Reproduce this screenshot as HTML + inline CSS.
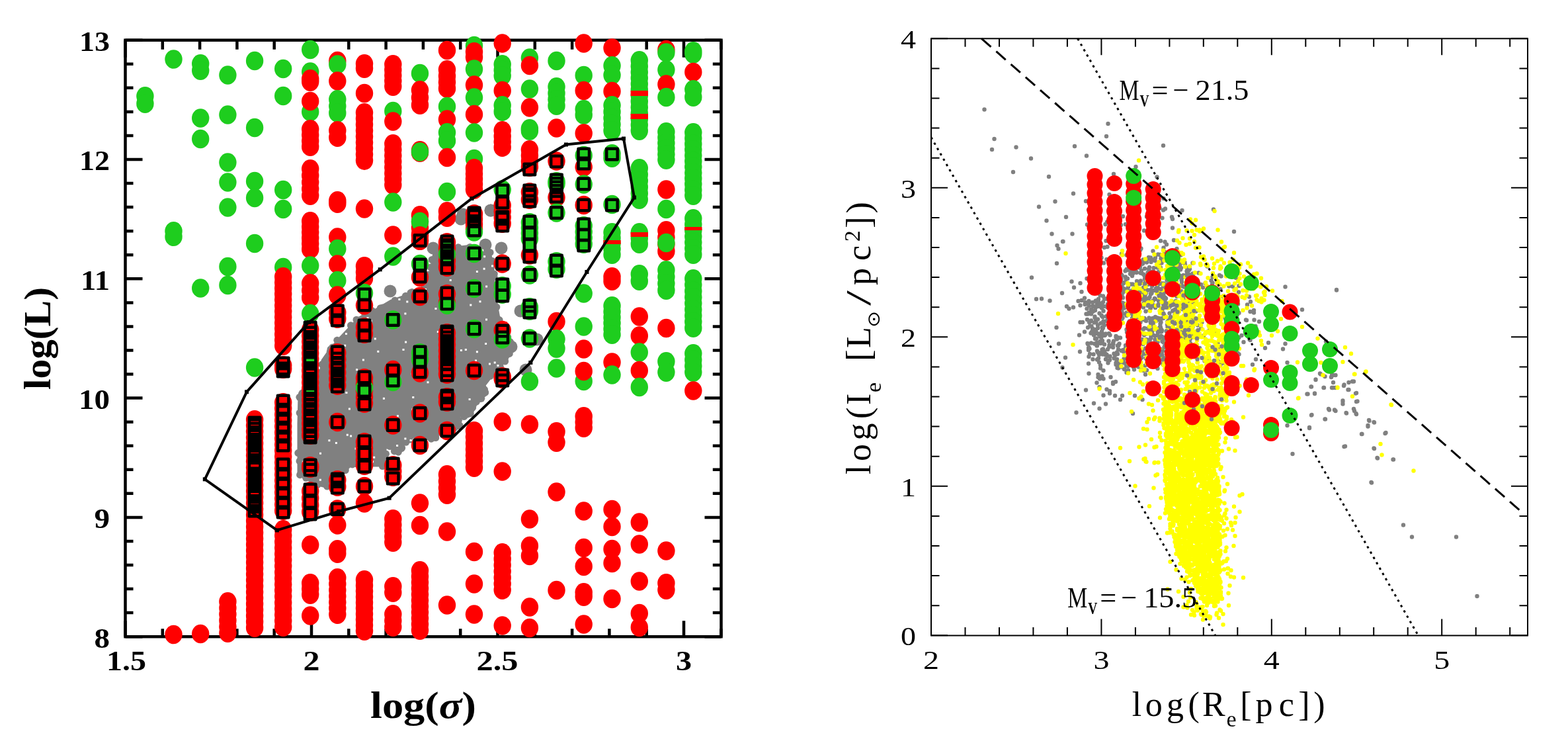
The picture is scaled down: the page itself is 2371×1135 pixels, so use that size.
<!DOCTYPE html>
<html><head><meta charset="utf-8"><title>plot</title>
<style>html,body{margin:0;padding:0;background:#fff;overflow:hidden}svg{display:block}</style>
</head><body>
<svg width="2371" height="1135" viewBox="0 0 2371 1135">
<rect width="2371" height="1135" fill="#fff"/>
<rect x="189.5" y="60.7" width="901" height="901.5" fill="none" stroke="#000" stroke-width="4.5"/>
<path d="M189.5 962.2v-24M189.5 60.7v26M245.8 962.2v-12M245.8 60.7v14M302.1 962.2v-12M302.1 60.7v14M358.4 962.2v-12M358.4 60.7v14M414.7 962.2v-12M414.7 60.7v14M471 962.2v-24M471 60.7v26M527.3 962.2v-12M527.3 60.7v14M583.6 962.2v-12M583.6 60.7v14M639.9 962.2v-12M639.9 60.7v14M696.2 962.2v-12M696.2 60.7v14M752.5 962.2v-24M752.5 60.7v26M808.8 962.2v-12M808.8 60.7v14M865.1 962.2v-12M865.1 60.7v14M921.4 962.2v-12M921.4 60.7v14M977.7 962.2v-12M977.7 60.7v14M1034 962.2v-24M1034 60.7v26M1090.3 962.2v-12M1090.3 60.7v14M189.5 962.2h26M1090.5 962.2h-25M189.5 926.1h12M1090.5 926.1h-12.7M189.5 890.1h12M1090.5 890.1h-12.7M189.5 854h12M1090.5 854h-12.7M189.5 818h12M1090.5 818h-12.7M189.5 781.9h26M1090.5 781.9h-25M189.5 745.8h12M1090.5 745.8h-12.7M189.5 709.8h12M1090.5 709.8h-12.7M189.5 673.7h12M1090.5 673.7h-12.7M189.5 637.7h12M1090.5 637.7h-12.7M189.5 601.6h26M1090.5 601.6h-25M189.5 565.5h12M1090.5 565.5h-12.7M189.5 529.5h12M1090.5 529.5h-12.7M189.5 493.4h12M1090.5 493.4h-12.7M189.5 457.4h12M1090.5 457.4h-12.7M189.5 421.3h26M1090.5 421.3h-25M189.5 385.2h12M1090.5 385.2h-12.7M189.5 349.2h12M1090.5 349.2h-12.7M189.5 313.1h12M1090.5 313.1h-12.7M189.5 277.1h12M1090.5 277.1h-12.7M189.5 241h26M1090.5 241h-25M189.5 204.9h12M1090.5 204.9h-12.7M189.5 168.9h12M1090.5 168.9h-12.7M189.5 132.8h12M1090.5 132.8h-12.7M189.5 96.8h12M1090.5 96.8h-12.7M189.5 60.7h26M1090.5 60.7h-25" stroke="#000" stroke-width="4.5" fill="none"/>
<polygon points="452,717 452,640 453,598 470,586 484,572 488,545 500,528 511,515 530,495 543,481 570,468 592,455 620,445 645,432 652,410 657,382 680,376 713,372 738,376 745,400 746,434 752,470 756,492 774,519 766,543 750,559 732,582 736,595 722,605 714,622 706,627 688,629 697,641 688,650 674,642 664,644 662,658 655,664 634,660 622,655 621,667 609,667 609,680 599,683 593,677 582,675 582,691 579,703 564,703 539,702 530,703 520,712 497,736 481,732" fill="#808080" stroke="#808080" stroke-width="5" stroke-linejoin="round"/>
<circle cx="450.8" cy="684.6" r="5.5" fill="#808080"/>
<circle cx="453" cy="696.9" r="5.5" fill="#808080"/>
<circle cx="453.1" cy="624.1" r="5.5" fill="#808080"/>
<circle cx="452.9" cy="600.3" r="5.5" fill="#808080"/>
<circle cx="462.3" cy="592.2" r="5.5" fill="#808080"/>
<circle cx="458.9" cy="594.2" r="5.5" fill="#808080"/>
<circle cx="472.8" cy="585.3" r="5.5" fill="#808080"/>
<circle cx="476.5" cy="581.4" r="5.5" fill="#808080"/>
<circle cx="487" cy="550.7" r="5.5" fill="#808080"/>
<circle cx="483.1" cy="563.5" r="5.5" fill="#808080"/>
<circle cx="500" cy="528" r="5.5" fill="#808080"/>
<circle cx="499.2" cy="531.6" r="5.5" fill="#808080"/>
<circle cx="502.8" cy="525" r="5.5" fill="#808080"/>
<circle cx="502.9" cy="526.3" r="5.5" fill="#808080"/>
<circle cx="531.5" cy="496" r="5.5" fill="#808080"/>
<circle cx="509.8" cy="514.2" r="5.5" fill="#808080"/>
<circle cx="539" cy="483.2" r="5.5" fill="#808080"/>
<circle cx="530.4" cy="491.8" r="5.5" fill="#808080"/>
<circle cx="552" cy="475.5" r="5.5" fill="#808080"/>
<circle cx="562.5" cy="469.6" r="5.5" fill="#808080"/>
<circle cx="575.3" cy="465.7" r="5.5" fill="#808080"/>
<circle cx="578.6" cy="465.1" r="5.5" fill="#808080"/>
<circle cx="597.1" cy="454.1" r="5.5" fill="#808080"/>
<circle cx="613.4" cy="447.2" r="5.5" fill="#808080"/>
<circle cx="621" cy="442.4" r="5.5" fill="#808080"/>
<circle cx="623" cy="441.5" r="5.5" fill="#808080"/>
<circle cx="650" cy="420.9" r="5.5" fill="#808080"/>
<circle cx="649.4" cy="414.7" r="5.5" fill="#808080"/>
<circle cx="651.2" cy="403.9" r="5.5" fill="#808080"/>
<circle cx="653.1" cy="392.5" r="5.5" fill="#808080"/>
<circle cx="667.5" cy="379.2" r="5.5" fill="#808080"/>
<circle cx="666" cy="377.9" r="5.5" fill="#808080"/>
<circle cx="710.7" cy="373.4" r="5.5" fill="#808080"/>
<circle cx="692.9" cy="373.7" r="5.5" fill="#808080"/>
<circle cx="730" cy="373.9" r="5.5" fill="#808080"/>
<circle cx="735.7" cy="374.4" r="5.5" fill="#808080"/>
<circle cx="744.4" cy="394.4" r="5.5" fill="#808080"/>
<circle cx="741.1" cy="381.4" r="5.5" fill="#808080"/>
<circle cx="747.3" cy="413.9" r="5.5" fill="#808080"/>
<circle cx="747.1" cy="418.6" r="5.5" fill="#808080"/>
<circle cx="750.9" cy="464.1" r="5.5" fill="#808080"/>
<circle cx="749.1" cy="442.9" r="5.5" fill="#808080"/>
<circle cx="755.1" cy="483.6" r="5.5" fill="#808080"/>
<circle cx="755.1" cy="486.9" r="5.5" fill="#808080"/>
<circle cx="767.8" cy="509.5" r="5.5" fill="#808080"/>
<circle cx="771.4" cy="516.6" r="5.5" fill="#808080"/>
<circle cx="770.3" cy="534.4" r="5.5" fill="#808080"/>
<circle cx="767.4" cy="535.5" r="5.5" fill="#808080"/>
<circle cx="756.5" cy="555" r="5.5" fill="#808080"/>
<circle cx="763.7" cy="546.1" r="5.5" fill="#808080"/>
<circle cx="741.3" cy="568.3" r="5.5" fill="#808080"/>
<circle cx="749.2" cy="559.7" r="5.5" fill="#808080"/>
<circle cx="733.7" cy="592.9" r="5.5" fill="#808080"/>
<circle cx="732.6" cy="588.8" r="5.5" fill="#808080"/>
<circle cx="725.5" cy="602.5" r="5.5" fill="#808080"/>
<circle cx="727.8" cy="602.3" r="5.5" fill="#808080"/>
<circle cx="714.6" cy="616.2" r="5.5" fill="#808080"/>
<circle cx="720.4" cy="607.1" r="5.5" fill="#808080"/>
<circle cx="706" cy="626.3" r="5.5" fill="#808080"/>
<circle cx="711.3" cy="625.1" r="5.5" fill="#808080"/>
<circle cx="701.7" cy="629.6" r="5.5" fill="#808080"/>
<circle cx="691.3" cy="627.3" r="5.5" fill="#808080"/>
<circle cx="690.7" cy="633.1" r="5.5" fill="#808080"/>
<circle cx="693.4" cy="635.2" r="5.5" fill="#808080"/>
<circle cx="695.1" cy="643.5" r="5.5" fill="#808080"/>
<circle cx="693.8" cy="643.5" r="5.5" fill="#808080"/>
<circle cx="675.1" cy="644.2" r="5.5" fill="#808080"/>
<circle cx="674.8" cy="644.1" r="5.5" fill="#808080"/>
<circle cx="665" cy="642.5" r="5.5" fill="#808080"/>
<circle cx="672.2" cy="642" r="5.5" fill="#808080"/>
<circle cx="663.3" cy="644.2" r="5.5" fill="#808080"/>
<circle cx="664.3" cy="649" r="5.5" fill="#808080"/>
<circle cx="658.8" cy="661.5" r="5.5" fill="#808080"/>
<circle cx="657.8" cy="660.8" r="5.5" fill="#808080"/>
<circle cx="652.1" cy="663.2" r="5.5" fill="#808080"/>
<circle cx="651.2" cy="661.7" r="5.5" fill="#808080"/>
<circle cx="629.5" cy="657.5" r="5.5" fill="#808080"/>
<circle cx="622.8" cy="654.7" r="5.5" fill="#808080"/>
<circle cx="621.2" cy="658.5" r="5.5" fill="#808080"/>
<circle cx="622" cy="658.2" r="5.5" fill="#808080"/>
<circle cx="614.4" cy="665.3" r="5.5" fill="#808080"/>
<circle cx="613.8" cy="668.3" r="5.5" fill="#808080"/>
<circle cx="607.3" cy="670" r="5.5" fill="#808080"/>
<circle cx="607.7" cy="676.9" r="5.5" fill="#808080"/>
<circle cx="602.3" cy="683.2" r="5.5" fill="#808080"/>
<circle cx="602.2" cy="680" r="5.5" fill="#808080"/>
<circle cx="597.4" cy="679.7" r="5.5" fill="#808080"/>
<circle cx="596.4" cy="681.9" r="5.5" fill="#808080"/>
<circle cx="583.3" cy="673.1" r="5.5" fill="#808080"/>
<circle cx="589.6" cy="674.6" r="5.5" fill="#808080"/>
<circle cx="580.9" cy="687.5" r="5.5" fill="#808080"/>
<circle cx="583.5" cy="686" r="5.5" fill="#808080"/>
<circle cx="581" cy="702.2" r="5.5" fill="#808080"/>
<circle cx="579.2" cy="699.5" r="5.5" fill="#808080"/>
<circle cx="577.9" cy="702.2" r="5.5" fill="#808080"/>
<circle cx="578.4" cy="704.5" r="5.5" fill="#808080"/>
<circle cx="542.9" cy="700.7" r="5.5" fill="#808080"/>
<circle cx="551.6" cy="702" r="5.5" fill="#808080"/>
<circle cx="532.8" cy="701.9" r="5.5" fill="#808080"/>
<circle cx="537.4" cy="700.5" r="5.5" fill="#808080"/>
<circle cx="522.3" cy="710.5" r="5.5" fill="#808080"/>
<circle cx="521.1" cy="710.7" r="5.5" fill="#808080"/>
<circle cx="513" cy="719" r="5.5" fill="#808080"/>
<circle cx="498.2" cy="733.7" r="5.5" fill="#808080"/>
<circle cx="480" cy="732.6" r="5.5" fill="#808080"/>
<circle cx="494.6" cy="735.1" r="5.5" fill="#808080"/>
<circle cx="462.7" cy="722.3" r="5.5" fill="#808080"/>
<circle cx="453.6" cy="717.7" r="5.5" fill="#808080"/>
<circle cx="590" cy="440" r="9.5" fill="#808080"/>
<circle cx="655" cy="375" r="9.5" fill="#808080"/>
<circle cx="697" cy="331" r="9.5" fill="#808080"/>
<circle cx="742" cy="318" r="9.5" fill="#808080"/>
<circle cx="758" cy="375" r="9.5" fill="#808080"/>
<circle cx="734" cy="370" r="9.5" fill="#808080"/>
<circle cx="700" cy="324" r="9.5" fill="#808080"/>
<circle cx="787" cy="470" r="9.5" fill="#808080"/>
<circle cx="812" cy="513" r="9.5" fill="#808080"/>
<circle cx="773" cy="524" r="9.5" fill="#808080"/>
<circle cx="795" cy="559" r="9.5" fill="#808080"/>
<circle cx="722" cy="587" r="9.5" fill="#808080"/>
<circle cx="716" cy="591" r="9.5" fill="#808080"/>
<circle cx="709" cy="603" r="9.5" fill="#808080"/>
<circle cx="703" cy="619" r="9.5" fill="#808080"/>
<circle cx="460" cy="597" r="9.5" fill="#808080"/>
<circle cx="742" cy="318" r="9.5" fill="#808080"/>
<path d="M734.6 519.6h0M612.9 662.9h0M501.9 576.6h0M671.7 413.2h0M528.4 617.9h0M670.6 454.1h0M561 484.8h0M567.3 512h0M555.9 480.5h0M505.4 586.5h0M610 528.6h0M603.9 452.4h0M523.9 593.4h0M685.7 560.3h0M709.8 562.4h0M647 577.8h0M711.8 460.9h0M719.5 545.1h0M521.7 522.2h0M530.6 659h0M523.5 504.6h0M547.9 561.6h0M458.4 697.9h0M732.6 387.8h0M556.5 661.1h0M670.5 612.7h0M725.2 563.9h0M732.1 406.3h0M740.5 550h0M682.3 391.7h0M551.3 510.2h0M761.1 523.3h0M710.1 603.6h0M463.7 706h0M612.9 473.9h0M726 455.8h0M675.8 390.3h0M508.4 669.4h0M601.5 628.8h0M686.1 396.7h0M613.6 517h0M497.9 665.8h0M596.6 553.2h0M674.2 526.3h0M615.8 456h0M605.2 640.1h0M597.4 492.3h0M666.6 467.1h0M571.8 531.2h0M554.2 504.3h0M744.5 402.1h0M658.9 466.4h0M721.4 531.8h0M729.7 378.3h0M539.6 558.7h0M735.6 433.1h0M624.8 600.4h0M678.7 399.7h0M484.5 685.3h0M627.1 454.9h0M600.6 673.5h0M580.4 602.3h0M623.3 564.8h0M484.3 725.2h0M643.5 437.6h0M595.9 635.3h0M558.4 579h0M553.7 681.4h0M629.3 531.7h0M565.7 691.3h0M721.4 410.4h0M549.4 543.9h0M735.5 483.1h0M599.9 639.9h0M674.9 517.2h0M752.9 552.5h0M716.8 498.3h0M704.3 528.5h0M748.2 548h0M679.5 380.9h0M662.3 501.4h0M621.1 665.5h0M697.4 529.5h0M723 388.6h0M686.2 383.8h0M525.3 657.3h0M623.9 619h0M681.2 423.4h0M563.6 697.8h0M538.1 677.9h0" stroke="#fff" stroke-width="3" stroke-linecap="square" fill="none"/>
<ellipse cx="219.4" cy="145.3" rx="13.2" ry="14.3" fill="#1ecd1e"/>
<ellipse cx="219.4" cy="156.7" rx="13.2" ry="14.3" fill="#1ecd1e"/>
<ellipse cx="262.5" cy="89.5" rx="13.2" ry="14.3" fill="#1ecd1e"/>
<ellipse cx="262.5" cy="349.4" rx="13.2" ry="14.3" fill="#1ecd1e"/>
<ellipse cx="262.5" cy="357.7" rx="13.2" ry="14.3" fill="#1ecd1e"/>
<ellipse cx="262.5" cy="959" rx="13.2" ry="14.3" fill="#ff0000"/>
<ellipse cx="303.2" cy="96.3" rx="13.2" ry="14.3" fill="#1ecd1e"/>
<ellipse cx="303.2" cy="106.6" rx="13.2" ry="14.3" fill="#1ecd1e"/>
<ellipse cx="303.2" cy="178.5" rx="13.2" ry="14.3" fill="#1ecd1e"/>
<ellipse cx="303.2" cy="210" rx="13.2" ry="14.3" fill="#1ecd1e"/>
<ellipse cx="303.2" cy="435.5" rx="13.2" ry="14.3" fill="#1ecd1e"/>
<ellipse cx="303.2" cy="958" rx="13.2" ry="14.3" fill="#ff0000"/>
<ellipse cx="344.4" cy="113.5" rx="13.2" ry="14.3" fill="#1ecd1e"/>
<ellipse cx="344.4" cy="173.5" rx="13.2" ry="14.3" fill="#1ecd1e"/>
<ellipse cx="344.4" cy="245.5" rx="13.2" ry="14.3" fill="#1ecd1e"/>
<ellipse cx="344.4" cy="275.5" rx="13.2" ry="14.3" fill="#1ecd1e"/>
<ellipse cx="344.4" cy="313.5" rx="13.2" ry="14.3" fill="#1ecd1e"/>
<ellipse cx="344.4" cy="403" rx="13.2" ry="14.3" fill="#1ecd1e"/>
<ellipse cx="344.4" cy="431" rx="13.2" ry="14.3" fill="#1ecd1e"/>
<ellipse cx="344.4" cy="909.4" rx="13.2" ry="14.3" fill="#ff0000"/>
<ellipse cx="344.4" cy="918.8" rx="13.2" ry="14.3" fill="#ff0000"/>
<ellipse cx="344.4" cy="928.3" rx="13.2" ry="14.3" fill="#ff0000"/>
<ellipse cx="344.4" cy="937.7" rx="13.2" ry="14.3" fill="#ff0000"/>
<ellipse cx="344.4" cy="947.2" rx="13.2" ry="14.3" fill="#ff0000"/>
<ellipse cx="344.4" cy="956.6" rx="13.2" ry="14.3" fill="#ff0000"/>
<ellipse cx="385.1" cy="92" rx="13.2" ry="14.3" fill="#1ecd1e"/>
<ellipse cx="385.1" cy="193" rx="13.2" ry="14.3" fill="#1ecd1e"/>
<ellipse cx="385.1" cy="274" rx="13.2" ry="14.3" fill="#1ecd1e"/>
<ellipse cx="385.1" cy="299" rx="13.2" ry="14.3" fill="#1ecd1e"/>
<ellipse cx="385.1" cy="368" rx="13.2" ry="14.3" fill="#1ecd1e"/>
<ellipse cx="385.1" cy="555.5" rx="13.2" ry="14.3" fill="#1ecd1e"/>
<ellipse cx="385.1" cy="634.4" rx="13.2" ry="14.3" fill="#ff0000"/>
<ellipse cx="385.1" cy="643.3" rx="13.2" ry="14.3" fill="#ff0000"/>
<ellipse cx="385.1" cy="652.3" rx="13.2" ry="14.3" fill="#ff0000"/>
<ellipse cx="385.1" cy="661.3" rx="13.2" ry="14.3" fill="#ff0000"/>
<ellipse cx="385.1" cy="670.3" rx="13.2" ry="14.3" fill="#ff0000"/>
<ellipse cx="385.1" cy="679.2" rx="13.2" ry="14.3" fill="#ff0000"/>
<ellipse cx="385.1" cy="688.2" rx="13.2" ry="14.3" fill="#ff0000"/>
<ellipse cx="385.1" cy="697.2" rx="13.2" ry="14.3" fill="#ff0000"/>
<ellipse cx="385.1" cy="706.2" rx="13.2" ry="14.3" fill="#ff0000"/>
<ellipse cx="385.1" cy="715.2" rx="13.2" ry="14.3" fill="#ff0000"/>
<ellipse cx="385.1" cy="724.2" rx="13.2" ry="14.3" fill="#ff0000"/>
<ellipse cx="385.1" cy="733.1" rx="13.2" ry="14.3" fill="#ff0000"/>
<ellipse cx="385.1" cy="742.1" rx="13.2" ry="14.3" fill="#ff0000"/>
<ellipse cx="385.1" cy="751.1" rx="13.2" ry="14.3" fill="#ff0000"/>
<ellipse cx="385.1" cy="760.1" rx="13.2" ry="14.3" fill="#ff0000"/>
<ellipse cx="385.1" cy="769.1" rx="13.2" ry="14.3" fill="#ff0000"/>
<ellipse cx="385.1" cy="778" rx="13.2" ry="14.3" fill="#ff0000"/>
<ellipse cx="385.1" cy="787" rx="13.2" ry="14.3" fill="#ff0000"/>
<ellipse cx="385.1" cy="796" rx="13.2" ry="14.3" fill="#ff0000"/>
<ellipse cx="385.1" cy="805" rx="13.2" ry="14.3" fill="#ff0000"/>
<ellipse cx="385.1" cy="814" rx="13.2" ry="14.3" fill="#ff0000"/>
<ellipse cx="385.1" cy="822.9" rx="13.2" ry="14.3" fill="#ff0000"/>
<ellipse cx="385.1" cy="831.9" rx="13.2" ry="14.3" fill="#ff0000"/>
<ellipse cx="385.1" cy="840.9" rx="13.2" ry="14.3" fill="#ff0000"/>
<ellipse cx="385.1" cy="849.9" rx="13.2" ry="14.3" fill="#ff0000"/>
<ellipse cx="385.1" cy="858.9" rx="13.2" ry="14.3" fill="#ff0000"/>
<ellipse cx="385.1" cy="867.8" rx="13.2" ry="14.3" fill="#ff0000"/>
<ellipse cx="385.1" cy="876.8" rx="13.2" ry="14.3" fill="#ff0000"/>
<ellipse cx="385.1" cy="885.8" rx="13.2" ry="14.3" fill="#ff0000"/>
<ellipse cx="385.1" cy="894.8" rx="13.2" ry="14.3" fill="#ff0000"/>
<ellipse cx="385.1" cy="903.8" rx="13.2" ry="14.3" fill="#ff0000"/>
<ellipse cx="385.1" cy="912.7" rx="13.2" ry="14.3" fill="#ff0000"/>
<ellipse cx="385.1" cy="921.7" rx="13.2" ry="14.3" fill="#ff0000"/>
<ellipse cx="385.1" cy="930.7" rx="13.2" ry="14.3" fill="#ff0000"/>
<ellipse cx="385.1" cy="939.7" rx="13.2" ry="14.3" fill="#ff0000"/>
<ellipse cx="385.1" cy="948.7" rx="13.2" ry="14.3" fill="#ff0000"/>
<ellipse cx="428.2" cy="104" rx="13.2" ry="14.3" fill="#1ecd1e"/>
<ellipse cx="428.2" cy="145" rx="13.2" ry="14.3" fill="#1ecd1e"/>
<ellipse cx="428.2" cy="287" rx="13.2" ry="14.3" fill="#1ecd1e"/>
<ellipse cx="428.2" cy="316" rx="13.2" ry="14.3" fill="#1ecd1e"/>
<ellipse cx="428.2" cy="404" rx="13.2" ry="14.3" fill="#1ecd1e"/>
<ellipse cx="428.2" cy="418.4" rx="13.2" ry="14.3" fill="#ff0000"/>
<ellipse cx="428.2" cy="427" rx="13.2" ry="14.3" fill="#ff0000"/>
<ellipse cx="428.2" cy="435.7" rx="13.2" ry="14.3" fill="#ff0000"/>
<ellipse cx="428.2" cy="444.4" rx="13.2" ry="14.3" fill="#ff0000"/>
<ellipse cx="428.2" cy="453.1" rx="13.2" ry="14.3" fill="#ff0000"/>
<ellipse cx="428.2" cy="461.8" rx="13.2" ry="14.3" fill="#ff0000"/>
<ellipse cx="428.2" cy="470.5" rx="13.2" ry="14.3" fill="#ff0000"/>
<ellipse cx="428.2" cy="479.2" rx="13.2" ry="14.3" fill="#ff0000"/>
<ellipse cx="428.2" cy="487.9" rx="13.2" ry="14.3" fill="#ff0000"/>
<ellipse cx="428.2" cy="496.6" rx="13.2" ry="14.3" fill="#ff0000"/>
<ellipse cx="428.2" cy="505.3" rx="13.2" ry="14.3" fill="#ff0000"/>
<ellipse cx="428.2" cy="514" rx="13.2" ry="14.3" fill="#ff0000"/>
<ellipse cx="428.2" cy="522.6" rx="13.2" ry="14.3" fill="#ff0000"/>
<ellipse cx="428.2" cy="552.4" rx="13.2" ry="14.3" fill="#ff0000"/>
<ellipse cx="428.2" cy="557.6" rx="13.2" ry="14.3" fill="#ff0000"/>
<ellipse cx="428.2" cy="608.4" rx="13.2" ry="14.3" fill="#ff0000"/>
<ellipse cx="428.2" cy="617.4" rx="13.2" ry="14.3" fill="#ff0000"/>
<ellipse cx="428.2" cy="626.5" rx="13.2" ry="14.3" fill="#ff0000"/>
<ellipse cx="428.2" cy="635.6" rx="13.2" ry="14.3" fill="#ff0000"/>
<ellipse cx="428.2" cy="644.6" rx="13.2" ry="14.3" fill="#ff0000"/>
<ellipse cx="428.2" cy="653.7" rx="13.2" ry="14.3" fill="#ff0000"/>
<ellipse cx="428.2" cy="662.8" rx="13.2" ry="14.3" fill="#ff0000"/>
<ellipse cx="428.2" cy="671.9" rx="13.2" ry="14.3" fill="#ff0000"/>
<ellipse cx="428.2" cy="680.9" rx="13.2" ry="14.3" fill="#ff0000"/>
<ellipse cx="428.2" cy="690" rx="13.2" ry="14.3" fill="#ff0000"/>
<ellipse cx="428.2" cy="699.1" rx="13.2" ry="14.3" fill="#ff0000"/>
<ellipse cx="428.2" cy="708.1" rx="13.2" ry="14.3" fill="#ff0000"/>
<ellipse cx="428.2" cy="717.2" rx="13.2" ry="14.3" fill="#ff0000"/>
<ellipse cx="428.2" cy="726.3" rx="13.2" ry="14.3" fill="#ff0000"/>
<ellipse cx="428.2" cy="735.4" rx="13.2" ry="14.3" fill="#ff0000"/>
<ellipse cx="428.2" cy="744.4" rx="13.2" ry="14.3" fill="#ff0000"/>
<ellipse cx="428.2" cy="753.5" rx="13.2" ry="14.3" fill="#ff0000"/>
<ellipse cx="428.2" cy="762.6" rx="13.2" ry="14.3" fill="#ff0000"/>
<ellipse cx="428.2" cy="771.7" rx="13.2" ry="14.3" fill="#ff0000"/>
<ellipse cx="428.2" cy="800.4" rx="13.2" ry="14.3" fill="#ff0000"/>
<ellipse cx="428.2" cy="809.6" rx="13.2" ry="14.3" fill="#ff0000"/>
<ellipse cx="428.2" cy="818.8" rx="13.2" ry="14.3" fill="#ff0000"/>
<ellipse cx="428.2" cy="828" rx="13.2" ry="14.3" fill="#ff0000"/>
<ellipse cx="428.2" cy="837.2" rx="13.2" ry="14.3" fill="#ff0000"/>
<ellipse cx="428.2" cy="846.4" rx="13.2" ry="14.3" fill="#ff0000"/>
<ellipse cx="428.2" cy="855.6" rx="13.2" ry="14.3" fill="#ff0000"/>
<ellipse cx="428.2" cy="864.8" rx="13.2" ry="14.3" fill="#ff0000"/>
<ellipse cx="428.2" cy="874" rx="13.2" ry="14.3" fill="#ff0000"/>
<ellipse cx="428.2" cy="883.2" rx="13.2" ry="14.3" fill="#ff0000"/>
<ellipse cx="428.2" cy="892.4" rx="13.2" ry="14.3" fill="#ff0000"/>
<ellipse cx="428.2" cy="901.6" rx="13.2" ry="14.3" fill="#ff0000"/>
<ellipse cx="428.2" cy="910.8" rx="13.2" ry="14.3" fill="#ff0000"/>
<ellipse cx="428.2" cy="920" rx="13.2" ry="14.3" fill="#ff0000"/>
<ellipse cx="428.2" cy="929.2" rx="13.2" ry="14.3" fill="#ff0000"/>
<ellipse cx="428.2" cy="938.4" rx="13.2" ry="14.3" fill="#ff0000"/>
<ellipse cx="428.2" cy="947.7" rx="13.2" ry="14.3" fill="#ff0000"/>
<ellipse cx="469.2" cy="75" rx="13.2" ry="14.3" fill="#1ecd1e"/>
<ellipse cx="469.2" cy="108.5" rx="13.2" ry="14.3" fill="#1ecd1e"/>
<ellipse cx="469.2" cy="119.3" rx="13.2" ry="14.3" fill="#ff0000"/>
<ellipse cx="469.2" cy="123.6" rx="13.2" ry="14.3" fill="#ff0000"/>
<ellipse cx="469.2" cy="169" rx="13.2" ry="14.3" fill="#1ecd1e"/>
<ellipse cx="469.2" cy="153" rx="13.2" ry="14.3" fill="#ff0000"/>
<ellipse cx="469.2" cy="195.3" rx="13.2" ry="14.3" fill="#ff0000"/>
<ellipse cx="469.2" cy="204.1" rx="13.2" ry="14.3" fill="#ff0000"/>
<ellipse cx="469.2" cy="212.9" rx="13.2" ry="14.3" fill="#ff0000"/>
<ellipse cx="469.2" cy="221.7" rx="13.2" ry="14.3" fill="#ff0000"/>
<ellipse cx="469.2" cy="255.3" rx="13.2" ry="14.3" fill="#ff0000"/>
<ellipse cx="469.2" cy="265.4" rx="13.2" ry="14.3" fill="#ff0000"/>
<ellipse cx="469.2" cy="275.5" rx="13.2" ry="14.3" fill="#ff0000"/>
<ellipse cx="469.2" cy="285.6" rx="13.2" ry="14.3" fill="#ff0000"/>
<ellipse cx="469.2" cy="295.6" rx="13.2" ry="14.3" fill="#ff0000"/>
<ellipse cx="469.2" cy="334.4" rx="13.2" ry="14.3" fill="#ff0000"/>
<ellipse cx="469.2" cy="342.8" rx="13.2" ry="14.3" fill="#ff0000"/>
<ellipse cx="469.2" cy="351.3" rx="13.2" ry="14.3" fill="#ff0000"/>
<ellipse cx="469.2" cy="359.7" rx="13.2" ry="14.3" fill="#ff0000"/>
<ellipse cx="469.2" cy="368.2" rx="13.2" ry="14.3" fill="#ff0000"/>
<ellipse cx="469.2" cy="376.7" rx="13.2" ry="14.3" fill="#ff0000"/>
<ellipse cx="469.2" cy="401.5" rx="13.2" ry="14.3" fill="#1ecd1e"/>
<ellipse cx="469.2" cy="428.4" rx="13.2" ry="14.3" fill="#ff0000"/>
<ellipse cx="469.2" cy="439" rx="13.2" ry="14.3" fill="#ff0000"/>
<ellipse cx="469.2" cy="449.7" rx="13.2" ry="14.3" fill="#ff0000"/>
<ellipse cx="469.2" cy="474" rx="13.2" ry="14.3" fill="#1ecd1e"/>
<ellipse cx="469.2" cy="498.4" rx="13.2" ry="14.3" fill="#ff0000"/>
<ellipse cx="469.2" cy="507.2" rx="13.2" ry="14.3" fill="#ff0000"/>
<ellipse cx="469.2" cy="516.1" rx="13.2" ry="14.3" fill="#ff0000"/>
<ellipse cx="469.2" cy="524.9" rx="13.2" ry="14.3" fill="#ff0000"/>
<ellipse cx="469.2" cy="533.8" rx="13.2" ry="14.3" fill="#ff0000"/>
<ellipse cx="469.2" cy="542.6" rx="13.2" ry="14.3" fill="#ff0000"/>
<ellipse cx="469.2" cy="551.5" rx="13.2" ry="14.3" fill="#ff0000"/>
<ellipse cx="469.2" cy="560.3" rx="13.2" ry="14.3" fill="#ff0000"/>
<ellipse cx="469.2" cy="569.2" rx="13.2" ry="14.3" fill="#ff0000"/>
<ellipse cx="469.2" cy="578" rx="13.2" ry="14.3" fill="#ff0000"/>
<ellipse cx="469.2" cy="586.9" rx="13.2" ry="14.3" fill="#ff0000"/>
<ellipse cx="469.2" cy="595.7" rx="13.2" ry="14.3" fill="#ff0000"/>
<ellipse cx="469.2" cy="604.6" rx="13.2" ry="14.3" fill="#ff0000"/>
<ellipse cx="469.2" cy="613.4" rx="13.2" ry="14.3" fill="#ff0000"/>
<ellipse cx="469.2" cy="622.2" rx="13.2" ry="14.3" fill="#ff0000"/>
<ellipse cx="469.2" cy="631.1" rx="13.2" ry="14.3" fill="#ff0000"/>
<ellipse cx="469.2" cy="640" rx="13.2" ry="14.3" fill="#ff0000"/>
<ellipse cx="469.2" cy="648.8" rx="13.2" ry="14.3" fill="#ff0000"/>
<ellipse cx="469.2" cy="657.7" rx="13.2" ry="14.3" fill="#ff0000"/>
<ellipse cx="469.2" cy="704.4" rx="13.2" ry="14.3" fill="#ff0000"/>
<ellipse cx="469.2" cy="707.6" rx="13.2" ry="14.3" fill="#ff0000"/>
<ellipse cx="469.2" cy="742.4" rx="13.2" ry="14.3" fill="#ff0000"/>
<ellipse cx="469.2" cy="752.8" rx="13.2" ry="14.3" fill="#ff0000"/>
<ellipse cx="469.2" cy="763.2" rx="13.2" ry="14.3" fill="#ff0000"/>
<ellipse cx="469.2" cy="773.6" rx="13.2" ry="14.3" fill="#ff0000"/>
<ellipse cx="469.2" cy="823.5" rx="13.2" ry="14.3" fill="#ff0000"/>
<ellipse cx="469.2" cy="881.4" rx="13.2" ry="14.3" fill="#ff0000"/>
<ellipse cx="469.2" cy="890" rx="13.2" ry="14.3" fill="#ff0000"/>
<ellipse cx="469.2" cy="898.6" rx="13.2" ry="14.3" fill="#ff0000"/>
<ellipse cx="469.2" cy="930.5" rx="13.2" ry="14.3" fill="#ff0000"/>
<ellipse cx="510.3" cy="92" rx="13.2" ry="14.3" fill="#ff0000"/>
<ellipse cx="510.3" cy="97.5" rx="13.2" ry="14.3" fill="#1ecd1e"/>
<ellipse cx="510.3" cy="122.5" rx="13.2" ry="14.3" fill="#ff0000"/>
<ellipse cx="510.3" cy="150.3" rx="13.2" ry="14.3" fill="#1ecd1e"/>
<ellipse cx="510.3" cy="160.5" rx="13.2" ry="14.3" fill="#1ecd1e"/>
<ellipse cx="510.3" cy="170.7" rx="13.2" ry="14.3" fill="#1ecd1e"/>
<ellipse cx="510.3" cy="197.3" rx="13.2" ry="14.3" fill="#ff0000"/>
<ellipse cx="510.3" cy="207.7" rx="13.2" ry="14.3" fill="#ff0000"/>
<ellipse cx="510.3" cy="303.4" rx="13.2" ry="14.3" fill="#ff0000"/>
<ellipse cx="510.3" cy="307.7" rx="13.2" ry="14.3" fill="#ff0000"/>
<ellipse cx="510.3" cy="358.5" rx="13.2" ry="14.3" fill="#ff0000"/>
<ellipse cx="510.3" cy="376" rx="13.2" ry="14.3" fill="#1ecd1e"/>
<ellipse cx="510.3" cy="399.5" rx="13.2" ry="14.3" fill="#ff0000"/>
<ellipse cx="510.3" cy="424" rx="13.2" ry="14.3" fill="#1ecd1e"/>
<ellipse cx="510.3" cy="446.5" rx="13.2" ry="14.3" fill="#ff0000"/>
<ellipse cx="510.3" cy="472.4" rx="13.2" ry="14.3" fill="#ff0000"/>
<ellipse cx="510.3" cy="481.7" rx="13.2" ry="14.3" fill="#ff0000"/>
<ellipse cx="510.3" cy="533.4" rx="13.2" ry="14.3" fill="#ff0000"/>
<ellipse cx="510.3" cy="543.2" rx="13.2" ry="14.3" fill="#ff0000"/>
<ellipse cx="510.3" cy="553.1" rx="13.2" ry="14.3" fill="#ff0000"/>
<ellipse cx="510.3" cy="562.9" rx="13.2" ry="14.3" fill="#ff0000"/>
<ellipse cx="510.3" cy="572.8" rx="13.2" ry="14.3" fill="#ff0000"/>
<ellipse cx="510.3" cy="582.6" rx="13.2" ry="14.3" fill="#ff0000"/>
<ellipse cx="510.3" cy="638" rx="13.2" ry="14.3" fill="#ff0000"/>
<ellipse cx="510.3" cy="725.4" rx="13.2" ry="14.3" fill="#ff0000"/>
<ellipse cx="510.3" cy="735.6" rx="13.2" ry="14.3" fill="#ff0000"/>
<ellipse cx="510.3" cy="769.5" rx="13.2" ry="14.3" fill="#ff0000"/>
<ellipse cx="510.3" cy="793.5" rx="13.2" ry="14.3" fill="#ff0000"/>
<ellipse cx="510.3" cy="830.4" rx="13.2" ry="14.3" fill="#ff0000"/>
<ellipse cx="510.3" cy="836.6" rx="13.2" ry="14.3" fill="#ff0000"/>
<ellipse cx="510.3" cy="873.4" rx="13.2" ry="14.3" fill="#ff0000"/>
<ellipse cx="510.3" cy="882.6" rx="13.2" ry="14.3" fill="#ff0000"/>
<ellipse cx="510.3" cy="891.8" rx="13.2" ry="14.3" fill="#ff0000"/>
<ellipse cx="510.3" cy="901" rx="13.2" ry="14.3" fill="#ff0000"/>
<ellipse cx="510.3" cy="910.2" rx="13.2" ry="14.3" fill="#ff0000"/>
<ellipse cx="510.3" cy="919.4" rx="13.2" ry="14.3" fill="#ff0000"/>
<ellipse cx="510.3" cy="928.6" rx="13.2" ry="14.3" fill="#ff0000"/>
<ellipse cx="551" cy="96.3" rx="13.2" ry="14.3" fill="#ff0000"/>
<ellipse cx="551" cy="103.6" rx="13.2" ry="14.3" fill="#ff0000"/>
<ellipse cx="551" cy="141" rx="13.2" ry="14.3" fill="#ff0000"/>
<ellipse cx="551" cy="170.3" rx="13.2" ry="14.3" fill="#ff0000"/>
<ellipse cx="551" cy="179.4" rx="13.2" ry="14.3" fill="#ff0000"/>
<ellipse cx="551" cy="188.4" rx="13.2" ry="14.3" fill="#ff0000"/>
<ellipse cx="551" cy="197.5" rx="13.2" ry="14.3" fill="#ff0000"/>
<ellipse cx="551" cy="206.5" rx="13.2" ry="14.3" fill="#ff0000"/>
<ellipse cx="551" cy="215.5" rx="13.2" ry="14.3" fill="#ff0000"/>
<ellipse cx="551" cy="224.6" rx="13.2" ry="14.3" fill="#ff0000"/>
<ellipse cx="551" cy="233.6" rx="13.2" ry="14.3" fill="#ff0000"/>
<ellipse cx="551" cy="242.6" rx="13.2" ry="14.3" fill="#ff0000"/>
<ellipse cx="551" cy="315.5" rx="13.2" ry="14.3" fill="#ff0000"/>
<ellipse cx="551" cy="402.4" rx="13.2" ry="14.3" fill="#ff0000"/>
<ellipse cx="551" cy="411.5" rx="13.2" ry="14.3" fill="#ff0000"/>
<ellipse cx="551" cy="420.7" rx="13.2" ry="14.3" fill="#ff0000"/>
<ellipse cx="551" cy="443" rx="13.2" ry="14.3" fill="#1ecd1e"/>
<ellipse cx="551" cy="461.5" rx="13.2" ry="14.3" fill="#ff0000"/>
<ellipse cx="551" cy="494.4" rx="13.2" ry="14.3" fill="#ff0000"/>
<ellipse cx="551" cy="504.7" rx="13.2" ry="14.3" fill="#ff0000"/>
<ellipse cx="551" cy="571.4" rx="13.2" ry="14.3" fill="#ff0000"/>
<ellipse cx="551" cy="580.9" rx="13.2" ry="14.3" fill="#ff0000"/>
<ellipse cx="551" cy="590.5" rx="13.2" ry="14.3" fill="#ff0000"/>
<ellipse cx="551" cy="600.1" rx="13.2" ry="14.3" fill="#ff0000"/>
<ellipse cx="551" cy="609.6" rx="13.2" ry="14.3" fill="#ff0000"/>
<ellipse cx="551" cy="586" rx="13.2" ry="14.3" fill="#1ecd1e"/>
<ellipse cx="551" cy="668.4" rx="13.2" ry="14.3" fill="#ff0000"/>
<ellipse cx="551" cy="677.2" rx="13.2" ry="14.3" fill="#ff0000"/>
<ellipse cx="551" cy="686" rx="13.2" ry="14.3" fill="#ff0000"/>
<ellipse cx="551" cy="694.8" rx="13.2" ry="14.3" fill="#ff0000"/>
<ellipse cx="551" cy="703.6" rx="13.2" ry="14.3" fill="#ff0000"/>
<ellipse cx="551" cy="735" rx="13.2" ry="14.3" fill="#ff0000"/>
<ellipse cx="551" cy="760.5" rx="13.2" ry="14.3" fill="#ff0000"/>
<ellipse cx="551" cy="876.4" rx="13.2" ry="14.3" fill="#ff0000"/>
<ellipse cx="551" cy="884.9" rx="13.2" ry="14.3" fill="#ff0000"/>
<ellipse cx="551" cy="893.5" rx="13.2" ry="14.3" fill="#ff0000"/>
<ellipse cx="551" cy="902.1" rx="13.2" ry="14.3" fill="#ff0000"/>
<ellipse cx="551" cy="910.7" rx="13.2" ry="14.3" fill="#ff0000"/>
<ellipse cx="551" cy="919.3" rx="13.2" ry="14.3" fill="#ff0000"/>
<ellipse cx="551" cy="927.9" rx="13.2" ry="14.3" fill="#ff0000"/>
<ellipse cx="551" cy="936.5" rx="13.2" ry="14.3" fill="#ff0000"/>
<ellipse cx="551" cy="945.1" rx="13.2" ry="14.3" fill="#ff0000"/>
<ellipse cx="551" cy="953.6" rx="13.2" ry="14.3" fill="#ff0000"/>
<ellipse cx="594.3" cy="97.3" rx="13.2" ry="14.3" fill="#ff0000"/>
<ellipse cx="594.3" cy="105.7" rx="13.2" ry="14.3" fill="#ff0000"/>
<ellipse cx="594.3" cy="114" rx="13.2" ry="14.3" fill="#ff0000"/>
<ellipse cx="594.3" cy="122.3" rx="13.2" ry="14.3" fill="#ff0000"/>
<ellipse cx="594.3" cy="130.6" rx="13.2" ry="14.3" fill="#ff0000"/>
<ellipse cx="594.3" cy="168" rx="13.2" ry="14.3" fill="#1ecd1e"/>
<ellipse cx="594.3" cy="183.5" rx="13.2" ry="14.3" fill="#ff0000"/>
<ellipse cx="594.3" cy="217.3" rx="13.2" ry="14.3" fill="#ff0000"/>
<ellipse cx="594.3" cy="226.2" rx="13.2" ry="14.3" fill="#ff0000"/>
<ellipse cx="594.3" cy="235.2" rx="13.2" ry="14.3" fill="#ff0000"/>
<ellipse cx="594.3" cy="244.1" rx="13.2" ry="14.3" fill="#ff0000"/>
<ellipse cx="594.3" cy="252.9" rx="13.2" ry="14.3" fill="#ff0000"/>
<ellipse cx="594.3" cy="261.9" rx="13.2" ry="14.3" fill="#ff0000"/>
<ellipse cx="594.3" cy="270.8" rx="13.2" ry="14.3" fill="#ff0000"/>
<ellipse cx="594.3" cy="279.6" rx="13.2" ry="14.3" fill="#ff0000"/>
<ellipse cx="594.3" cy="305.5" rx="13.2" ry="14.3" fill="#1ecd1e"/>
<ellipse cx="594.3" cy="355.5" rx="13.2" ry="14.3" fill="#ff0000"/>
<ellipse cx="594.3" cy="387.5" rx="13.2" ry="14.3" fill="#1ecd1e"/>
<ellipse cx="594.3" cy="483.5" rx="13.2" ry="14.3" fill="#1ecd1e"/>
<ellipse cx="594.3" cy="559" rx="13.2" ry="14.3" fill="#ff0000"/>
<ellipse cx="594.3" cy="577" rx="13.2" ry="14.3" fill="#1ecd1e"/>
<ellipse cx="594.3" cy="642.5" rx="13.2" ry="14.3" fill="#ff0000"/>
<ellipse cx="594.3" cy="703.4" rx="13.2" ry="14.3" fill="#ff0000"/>
<ellipse cx="594.3" cy="712" rx="13.2" ry="14.3" fill="#ff0000"/>
<ellipse cx="594.3" cy="720.6" rx="13.2" ry="14.3" fill="#ff0000"/>
<ellipse cx="594.3" cy="784.4" rx="13.2" ry="14.3" fill="#ff0000"/>
<ellipse cx="594.3" cy="793.2" rx="13.2" ry="14.3" fill="#ff0000"/>
<ellipse cx="594.3" cy="802" rx="13.2" ry="14.3" fill="#ff0000"/>
<ellipse cx="594.3" cy="810.8" rx="13.2" ry="14.3" fill="#ff0000"/>
<ellipse cx="594.3" cy="819.6" rx="13.2" ry="14.3" fill="#ff0000"/>
<ellipse cx="594.3" cy="886.4" rx="13.2" ry="14.3" fill="#ff0000"/>
<ellipse cx="594.3" cy="895.6" rx="13.2" ry="14.3" fill="#ff0000"/>
<ellipse cx="594.3" cy="928.4" rx="13.2" ry="14.3" fill="#ff0000"/>
<ellipse cx="594.3" cy="938" rx="13.2" ry="14.3" fill="#ff0000"/>
<ellipse cx="594.3" cy="947.6" rx="13.2" ry="14.3" fill="#ff0000"/>
<ellipse cx="635" cy="111" rx="13.2" ry="14.3" fill="#1ecd1e"/>
<ellipse cx="635" cy="136.3" rx="13.2" ry="14.3" fill="#ff0000"/>
<ellipse cx="635" cy="147.5" rx="13.2" ry="14.3" fill="#ff0000"/>
<ellipse cx="635" cy="158.7" rx="13.2" ry="14.3" fill="#ff0000"/>
<ellipse cx="635" cy="227.3" rx="13.2" ry="14.3" fill="#ff0000"/>
<ellipse cx="635" cy="230.7" rx="13.2" ry="14.3" fill="#ff0000"/>
<ellipse cx="635" cy="229.5" rx="13.2" ry="14.3" fill="#1ecd1e"/>
<ellipse cx="635" cy="325.4" rx="13.2" ry="14.3" fill="#ff0000"/>
<ellipse cx="635" cy="334.9" rx="13.2" ry="14.3" fill="#ff0000"/>
<ellipse cx="635" cy="344.5" rx="13.2" ry="14.3" fill="#ff0000"/>
<ellipse cx="635" cy="354.1" rx="13.2" ry="14.3" fill="#ff0000"/>
<ellipse cx="635" cy="363.7" rx="13.2" ry="14.3" fill="#ff0000"/>
<ellipse cx="635" cy="335" rx="13.2" ry="14.3" fill="#1ecd1e"/>
<ellipse cx="635" cy="356.4" rx="13.2" ry="14.3" fill="#ff0000"/>
<ellipse cx="635" cy="363.7" rx="13.2" ry="14.3" fill="#ff0000"/>
<ellipse cx="635" cy="399" rx="13.2" ry="14.3" fill="#1ecd1e"/>
<ellipse cx="635" cy="419" rx="13.2" ry="14.3" fill="#ff0000"/>
<ellipse cx="635" cy="448" rx="13.2" ry="14.3" fill="#ff0000"/>
<ellipse cx="635" cy="533.4" rx="13.2" ry="14.3" fill="#1ecd1e"/>
<ellipse cx="635" cy="543.6" rx="13.2" ry="14.3" fill="#1ecd1e"/>
<ellipse cx="635" cy="563.5" rx="13.2" ry="14.3" fill="#ff0000"/>
<ellipse cx="635" cy="624.5" rx="13.2" ry="14.3" fill="#ff0000"/>
<ellipse cx="635" cy="673" rx="13.2" ry="14.3" fill="#ff0000"/>
<ellipse cx="635" cy="760.5" rx="13.2" ry="14.3" fill="#ff0000"/>
<ellipse cx="635" cy="794" rx="13.2" ry="14.3" fill="#ff0000"/>
<ellipse cx="635" cy="862.4" rx="13.2" ry="14.3" fill="#ff0000"/>
<ellipse cx="635" cy="871.4" rx="13.2" ry="14.3" fill="#ff0000"/>
<ellipse cx="635" cy="880.4" rx="13.2" ry="14.3" fill="#ff0000"/>
<ellipse cx="635" cy="889.4" rx="13.2" ry="14.3" fill="#ff0000"/>
<ellipse cx="635" cy="898.5" rx="13.2" ry="14.3" fill="#ff0000"/>
<ellipse cx="635" cy="907.5" rx="13.2" ry="14.3" fill="#ff0000"/>
<ellipse cx="635" cy="916.5" rx="13.2" ry="14.3" fill="#ff0000"/>
<ellipse cx="635" cy="925.6" rx="13.2" ry="14.3" fill="#ff0000"/>
<ellipse cx="635" cy="934.6" rx="13.2" ry="14.3" fill="#ff0000"/>
<ellipse cx="635" cy="943.6" rx="13.2" ry="14.3" fill="#ff0000"/>
<ellipse cx="635" cy="952.6" rx="13.2" ry="14.3" fill="#ff0000"/>
<ellipse cx="676" cy="76" rx="13.2" ry="14.3" fill="#ff0000"/>
<ellipse cx="676" cy="105.3" rx="13.2" ry="14.3" fill="#ff0000"/>
<ellipse cx="676" cy="114.8" rx="13.2" ry="14.3" fill="#ff0000"/>
<ellipse cx="676" cy="124.2" rx="13.2" ry="14.3" fill="#ff0000"/>
<ellipse cx="676" cy="133.7" rx="13.2" ry="14.3" fill="#ff0000"/>
<ellipse cx="676" cy="161" rx="13.2" ry="14.3" fill="#1ecd1e"/>
<ellipse cx="676" cy="180.5" rx="13.2" ry="14.3" fill="#ff0000"/>
<ellipse cx="676" cy="200.3" rx="13.2" ry="14.3" fill="#1ecd1e"/>
<ellipse cx="676" cy="212.7" rx="13.2" ry="14.3" fill="#1ecd1e"/>
<ellipse cx="676" cy="238" rx="13.2" ry="14.3" fill="#ff0000"/>
<ellipse cx="676" cy="290" rx="13.2" ry="14.3" fill="#1ecd1e"/>
<ellipse cx="676" cy="319.4" rx="13.2" ry="14.3" fill="#ff0000"/>
<ellipse cx="676" cy="328.7" rx="13.2" ry="14.3" fill="#ff0000"/>
<ellipse cx="676" cy="366.4" rx="13.2" ry="14.3" fill="#ff0000"/>
<ellipse cx="676" cy="375.7" rx="13.2" ry="14.3" fill="#ff0000"/>
<ellipse cx="676" cy="385" rx="13.2" ry="14.3" fill="#ff0000"/>
<ellipse cx="676" cy="394.3" rx="13.2" ry="14.3" fill="#ff0000"/>
<ellipse cx="676" cy="403.7" rx="13.2" ry="14.3" fill="#ff0000"/>
<ellipse cx="676" cy="384" rx="13.2" ry="14.3" fill="#1ecd1e"/>
<ellipse cx="676" cy="444.4" rx="13.2" ry="14.3" fill="#ff0000"/>
<ellipse cx="676" cy="457.7" rx="13.2" ry="14.3" fill="#ff0000"/>
<ellipse cx="676" cy="461" rx="13.2" ry="14.3" fill="#1ecd1e"/>
<ellipse cx="676" cy="503.4" rx="13.2" ry="14.3" fill="#ff0000"/>
<ellipse cx="676" cy="512.2" rx="13.2" ry="14.3" fill="#ff0000"/>
<ellipse cx="676" cy="521.1" rx="13.2" ry="14.3" fill="#ff0000"/>
<ellipse cx="676" cy="530.1" rx="13.2" ry="14.3" fill="#ff0000"/>
<ellipse cx="676" cy="539" rx="13.2" ry="14.3" fill="#ff0000"/>
<ellipse cx="676" cy="547.9" rx="13.2" ry="14.3" fill="#ff0000"/>
<ellipse cx="676" cy="556.8" rx="13.2" ry="14.3" fill="#ff0000"/>
<ellipse cx="676" cy="565.6" rx="13.2" ry="14.3" fill="#ff0000"/>
<ellipse cx="676" cy="600.4" rx="13.2" ry="14.3" fill="#ff0000"/>
<ellipse cx="676" cy="607.6" rx="13.2" ry="14.3" fill="#ff0000"/>
<ellipse cx="676" cy="651" rx="13.2" ry="14.3" fill="#ff0000"/>
<ellipse cx="676" cy="717.4" rx="13.2" ry="14.3" fill="#ff0000"/>
<ellipse cx="676" cy="727.5" rx="13.2" ry="14.3" fill="#ff0000"/>
<ellipse cx="676" cy="737.6" rx="13.2" ry="14.3" fill="#ff0000"/>
<ellipse cx="676" cy="747.6" rx="13.2" ry="14.3" fill="#ff0000"/>
<ellipse cx="676" cy="803.5" rx="13.2" ry="14.3" fill="#ff0000"/>
<ellipse cx="676" cy="914.5" rx="13.2" ry="14.3" fill="#ff0000"/>
<ellipse cx="717" cy="69" rx="13.2" ry="14.3" fill="#1ecd1e"/>
<ellipse cx="717" cy="78.3" rx="13.2" ry="14.3" fill="#ff0000"/>
<ellipse cx="717" cy="86.6" rx="13.2" ry="14.3" fill="#ff0000"/>
<ellipse cx="717" cy="104.5" rx="13.2" ry="14.3" fill="#1ecd1e"/>
<ellipse cx="717" cy="128.5" rx="13.2" ry="14.3" fill="#ff0000"/>
<ellipse cx="717" cy="147.5" rx="13.2" ry="14.3" fill="#1ecd1e"/>
<ellipse cx="717" cy="173" rx="13.2" ry="14.3" fill="#ff0000"/>
<ellipse cx="717" cy="200.5" rx="13.2" ry="14.3" fill="#1ecd1e"/>
<ellipse cx="717" cy="240" rx="13.2" ry="14.3" fill="#1ecd1e"/>
<ellipse cx="717" cy="254.3" rx="13.2" ry="14.3" fill="#ff0000"/>
<ellipse cx="717" cy="262.4" rx="13.2" ry="14.3" fill="#ff0000"/>
<ellipse cx="717" cy="270.5" rx="13.2" ry="14.3" fill="#ff0000"/>
<ellipse cx="717" cy="278.6" rx="13.2" ry="14.3" fill="#ff0000"/>
<ellipse cx="717" cy="286.6" rx="13.2" ry="14.3" fill="#ff0000"/>
<ellipse cx="717" cy="323.4" rx="13.2" ry="14.3" fill="#ff0000"/>
<ellipse cx="717" cy="331.1" rx="13.2" ry="14.3" fill="#ff0000"/>
<ellipse cx="717" cy="338.9" rx="13.2" ry="14.3" fill="#ff0000"/>
<ellipse cx="717" cy="346.7" rx="13.2" ry="14.3" fill="#ff0000"/>
<ellipse cx="717" cy="350.5" rx="13.2" ry="14.3" fill="#1ecd1e"/>
<ellipse cx="717" cy="383" rx="13.2" ry="14.3" fill="#1ecd1e"/>
<ellipse cx="717" cy="436" rx="13.2" ry="14.3" fill="#1ecd1e"/>
<ellipse cx="717" cy="497" rx="13.2" ry="14.3" fill="#1ecd1e"/>
<ellipse cx="717" cy="560" rx="13.2" ry="14.3" fill="#ff0000"/>
<ellipse cx="717" cy="651.4" rx="13.2" ry="14.3" fill="#ff0000"/>
<ellipse cx="717" cy="660.6" rx="13.2" ry="14.3" fill="#ff0000"/>
<ellipse cx="717" cy="669.8" rx="13.2" ry="14.3" fill="#ff0000"/>
<ellipse cx="717" cy="679" rx="13.2" ry="14.3" fill="#ff0000"/>
<ellipse cx="717" cy="688.2" rx="13.2" ry="14.3" fill="#ff0000"/>
<ellipse cx="717" cy="697.4" rx="13.2" ry="14.3" fill="#ff0000"/>
<ellipse cx="717" cy="706.6" rx="13.2" ry="14.3" fill="#ff0000"/>
<ellipse cx="717" cy="834" rx="13.2" ry="14.3" fill="#ff0000"/>
<ellipse cx="717" cy="882.5" rx="13.2" ry="14.3" fill="#ff0000"/>
<ellipse cx="717" cy="928.5" rx="13.2" ry="14.3" fill="#ff0000"/>
<ellipse cx="759.7" cy="65.5" rx="13.2" ry="14.3" fill="#ff0000"/>
<ellipse cx="759.7" cy="97.3" rx="13.2" ry="14.3" fill="#1ecd1e"/>
<ellipse cx="759.7" cy="106" rx="13.2" ry="14.3" fill="#1ecd1e"/>
<ellipse cx="759.7" cy="114.6" rx="13.2" ry="14.3" fill="#1ecd1e"/>
<ellipse cx="759.7" cy="137" rx="13.2" ry="14.3" fill="#ff0000"/>
<ellipse cx="759.7" cy="159.3" rx="13.2" ry="14.3" fill="#1ecd1e"/>
<ellipse cx="759.7" cy="168.7" rx="13.2" ry="14.3" fill="#1ecd1e"/>
<ellipse cx="759.7" cy="197.3" rx="13.2" ry="14.3" fill="#ff0000"/>
<ellipse cx="759.7" cy="205.8" rx="13.2" ry="14.3" fill="#ff0000"/>
<ellipse cx="759.7" cy="214.2" rx="13.2" ry="14.3" fill="#ff0000"/>
<ellipse cx="759.7" cy="222.7" rx="13.2" ry="14.3" fill="#ff0000"/>
<ellipse cx="759.7" cy="286.5" rx="13.2" ry="14.3" fill="#1ecd1e"/>
<ellipse cx="759.7" cy="310.4" rx="13.2" ry="14.3" fill="#ff0000"/>
<ellipse cx="759.7" cy="319.5" rx="13.2" ry="14.3" fill="#ff0000"/>
<ellipse cx="759.7" cy="328.6" rx="13.2" ry="14.3" fill="#ff0000"/>
<ellipse cx="759.7" cy="337.7" rx="13.2" ry="14.3" fill="#ff0000"/>
<ellipse cx="759.7" cy="398.5" rx="13.2" ry="14.3" fill="#ff0000"/>
<ellipse cx="759.7" cy="432.4" rx="13.2" ry="14.3" fill="#1ecd1e"/>
<ellipse cx="759.7" cy="444.7" rx="13.2" ry="14.3" fill="#1ecd1e"/>
<ellipse cx="759.7" cy="499" rx="13.2" ry="14.3" fill="#ff0000"/>
<ellipse cx="759.7" cy="512.5" rx="13.2" ry="14.3" fill="#1ecd1e"/>
<ellipse cx="759.7" cy="569.4" rx="13.2" ry="14.3" fill="#ff0000"/>
<ellipse cx="759.7" cy="572.6" rx="13.2" ry="14.3" fill="#ff0000"/>
<ellipse cx="759.7" cy="637.5" rx="13.2" ry="14.3" fill="#ff0000"/>
<ellipse cx="759.7" cy="712.5" rx="13.2" ry="14.3" fill="#ff0000"/>
<ellipse cx="759.7" cy="835.4" rx="13.2" ry="14.3" fill="#ff0000"/>
<ellipse cx="759.7" cy="844.7" rx="13.2" ry="14.3" fill="#ff0000"/>
<ellipse cx="759.7" cy="854.1" rx="13.2" ry="14.3" fill="#ff0000"/>
<ellipse cx="759.7" cy="863.5" rx="13.2" ry="14.3" fill="#ff0000"/>
<ellipse cx="759.7" cy="872.9" rx="13.2" ry="14.3" fill="#ff0000"/>
<ellipse cx="759.7" cy="882.3" rx="13.2" ry="14.3" fill="#ff0000"/>
<ellipse cx="759.7" cy="891.6" rx="13.2" ry="14.3" fill="#ff0000"/>
<ellipse cx="759.7" cy="945.5" rx="13.2" ry="14.3" fill="#ff0000"/>
<ellipse cx="800.9" cy="87.5" rx="13.2" ry="14.3" fill="#1ecd1e"/>
<ellipse cx="800.9" cy="99" rx="13.2" ry="14.3" fill="#ff0000"/>
<ellipse cx="800.9" cy="134.5" rx="13.2" ry="14.3" fill="#1ecd1e"/>
<ellipse cx="800.9" cy="162.5" rx="13.2" ry="14.3" fill="#ff0000"/>
<ellipse cx="800.9" cy="194.3" rx="13.2" ry="14.3" fill="#1ecd1e"/>
<ellipse cx="800.9" cy="197.7" rx="13.2" ry="14.3" fill="#1ecd1e"/>
<ellipse cx="800.9" cy="226.3" rx="13.2" ry="14.3" fill="#ff0000"/>
<ellipse cx="800.9" cy="235.1" rx="13.2" ry="14.3" fill="#ff0000"/>
<ellipse cx="800.9" cy="243.9" rx="13.2" ry="14.3" fill="#ff0000"/>
<ellipse cx="800.9" cy="252.7" rx="13.2" ry="14.3" fill="#ff0000"/>
<ellipse cx="800.9" cy="290.4" rx="13.2" ry="14.3" fill="#ff0000"/>
<ellipse cx="800.9" cy="301.7" rx="13.2" ry="14.3" fill="#ff0000"/>
<ellipse cx="800.9" cy="336.4" rx="13.2" ry="14.3" fill="#1ecd1e"/>
<ellipse cx="800.9" cy="344.5" rx="13.2" ry="14.3" fill="#1ecd1e"/>
<ellipse cx="800.9" cy="352.6" rx="13.2" ry="14.3" fill="#1ecd1e"/>
<ellipse cx="800.9" cy="360.7" rx="13.2" ry="14.3" fill="#1ecd1e"/>
<ellipse cx="800.9" cy="385.5" rx="13.2" ry="14.3" fill="#ff0000"/>
<ellipse cx="800.9" cy="415.5" rx="13.2" ry="14.3" fill="#1ecd1e"/>
<ellipse cx="800.9" cy="464.4" rx="13.2" ry="14.3" fill="#1ecd1e"/>
<ellipse cx="800.9" cy="469.7" rx="13.2" ry="14.3" fill="#1ecd1e"/>
<ellipse cx="800.9" cy="511.5" rx="13.2" ry="14.3" fill="#1ecd1e"/>
<ellipse cx="800.9" cy="576.5" rx="13.2" ry="14.3" fill="#1ecd1e"/>
<ellipse cx="800.9" cy="641.5" rx="13.2" ry="14.3" fill="#ff0000"/>
<ellipse cx="800.9" cy="784.5" rx="13.2" ry="14.3" fill="#ff0000"/>
<ellipse cx="800.9" cy="825" rx="13.2" ry="14.3" fill="#ff0000"/>
<ellipse cx="800.9" cy="840" rx="13.2" ry="14.3" fill="#ff0000"/>
<ellipse cx="800.9" cy="917.5" rx="13.2" ry="14.3" fill="#ff0000"/>
<ellipse cx="800.9" cy="949" rx="13.2" ry="14.3" fill="#ff0000"/>
<ellipse cx="841.5" cy="92" rx="13.2" ry="14.3" fill="#1ecd1e"/>
<ellipse cx="841.5" cy="131.3" rx="13.2" ry="14.3" fill="#1ecd1e"/>
<ellipse cx="841.5" cy="140.8" rx="13.2" ry="14.3" fill="#1ecd1e"/>
<ellipse cx="841.5" cy="150.2" rx="13.2" ry="14.3" fill="#1ecd1e"/>
<ellipse cx="841.5" cy="159.7" rx="13.2" ry="14.3" fill="#1ecd1e"/>
<ellipse cx="841.5" cy="193.5" rx="13.2" ry="14.3" fill="#ff0000"/>
<ellipse cx="841.5" cy="243.5" rx="13.2" ry="14.3" fill="#ff0000"/>
<ellipse cx="841.5" cy="274.4" rx="13.2" ry="14.3" fill="#1ecd1e"/>
<ellipse cx="841.5" cy="277.7" rx="13.2" ry="14.3" fill="#1ecd1e"/>
<ellipse cx="841.5" cy="298.5" rx="13.2" ry="14.3" fill="#ff0000"/>
<ellipse cx="841.5" cy="321.5" rx="13.2" ry="14.3" fill="#1ecd1e"/>
<ellipse cx="841.5" cy="395.4" rx="13.2" ry="14.3" fill="#1ecd1e"/>
<ellipse cx="841.5" cy="406.7" rx="13.2" ry="14.3" fill="#1ecd1e"/>
<ellipse cx="841.5" cy="486" rx="13.2" ry="14.3" fill="#ff0000"/>
<ellipse cx="841.5" cy="512.4" rx="13.2" ry="14.3" fill="#1ecd1e"/>
<ellipse cx="841.5" cy="526.6" rx="13.2" ry="14.3" fill="#1ecd1e"/>
<ellipse cx="841.5" cy="556.5" rx="13.2" ry="14.3" fill="#1ecd1e"/>
<ellipse cx="841.5" cy="652.4" rx="13.2" ry="14.3" fill="#ff0000"/>
<ellipse cx="841.5" cy="668.6" rx="13.2" ry="14.3" fill="#ff0000"/>
<ellipse cx="841.5" cy="743.5" rx="13.2" ry="14.3" fill="#ff0000"/>
<ellipse cx="841.5" cy="892" rx="13.2" ry="14.3" fill="#ff0000"/>
<ellipse cx="882.7" cy="65.5" rx="13.2" ry="14.3" fill="#ff0000"/>
<ellipse cx="882.7" cy="114" rx="13.2" ry="14.3" fill="#1ecd1e"/>
<ellipse cx="882.7" cy="137" rx="13.2" ry="14.3" fill="#ff0000"/>
<ellipse cx="882.7" cy="165.3" rx="13.2" ry="14.3" fill="#1ecd1e"/>
<ellipse cx="882.7" cy="173.7" rx="13.2" ry="14.3" fill="#1ecd1e"/>
<ellipse cx="882.7" cy="201.5" rx="13.2" ry="14.3" fill="#ff0000"/>
<ellipse cx="882.7" cy="235" rx="13.2" ry="14.3" fill="#1ecd1e"/>
<ellipse cx="882.7" cy="252.5" rx="13.2" ry="14.3" fill="#ff0000"/>
<ellipse cx="882.7" cy="278.5" rx="13.2" ry="14.3" fill="#1ecd1e"/>
<ellipse cx="882.7" cy="310" rx="13.2" ry="14.3" fill="#ff0000"/>
<ellipse cx="882.7" cy="341.4" rx="13.2" ry="14.3" fill="#1ecd1e"/>
<ellipse cx="882.7" cy="350.5" rx="13.2" ry="14.3" fill="#1ecd1e"/>
<ellipse cx="882.7" cy="359.6" rx="13.2" ry="14.3" fill="#1ecd1e"/>
<ellipse cx="882.7" cy="368.7" rx="13.2" ry="14.3" fill="#1ecd1e"/>
<ellipse cx="882.7" cy="443.5" rx="13.2" ry="14.3" fill="#1ecd1e"/>
<ellipse cx="882.7" cy="493.5" rx="13.2" ry="14.3" fill="#1ecd1e"/>
<ellipse cx="882.7" cy="527.5" rx="13.2" ry="14.3" fill="#ff0000"/>
<ellipse cx="882.7" cy="576" rx="13.2" ry="14.3" fill="#1ecd1e"/>
<ellipse cx="882.7" cy="561" rx="13.2" ry="14.3" fill="#ff0000"/>
<ellipse cx="882.7" cy="629.4" rx="13.2" ry="14.3" fill="#ff0000"/>
<ellipse cx="882.7" cy="638" rx="13.2" ry="14.3" fill="#ff0000"/>
<ellipse cx="882.7" cy="646.6" rx="13.2" ry="14.3" fill="#ff0000"/>
<ellipse cx="882.7" cy="772.5" rx="13.2" ry="14.3" fill="#ff0000"/>
<ellipse cx="882.7" cy="828" rx="13.2" ry="14.3" fill="#ff0000"/>
<ellipse cx="882.7" cy="856" rx="13.2" ry="14.3" fill="#ff0000"/>
<ellipse cx="882.7" cy="895.4" rx="13.2" ry="14.3" fill="#ff0000"/>
<ellipse cx="882.7" cy="901.6" rx="13.2" ry="14.3" fill="#ff0000"/>
<ellipse cx="882.7" cy="943.5" rx="13.2" ry="14.3" fill="#ff0000"/>
<ellipse cx="925.5" cy="72.5" rx="13.2" ry="14.3" fill="#ff0000"/>
<ellipse cx="925.5" cy="99.3" rx="13.2" ry="14.3" fill="#1ecd1e"/>
<ellipse cx="925.5" cy="113.6" rx="13.2" ry="14.3" fill="#1ecd1e"/>
<ellipse cx="925.5" cy="138" rx="13.2" ry="14.3" fill="#ff0000"/>
<ellipse cx="925.5" cy="159.3" rx="13.2" ry="14.3" fill="#1ecd1e"/>
<ellipse cx="925.5" cy="168.9" rx="13.2" ry="14.3" fill="#1ecd1e"/>
<ellipse cx="925.5" cy="178.5" rx="13.2" ry="14.3" fill="#1ecd1e"/>
<ellipse cx="925.5" cy="188.1" rx="13.2" ry="14.3" fill="#1ecd1e"/>
<ellipse cx="925.5" cy="197.6" rx="13.2" ry="14.3" fill="#1ecd1e"/>
<ellipse cx="925.5" cy="232.3" rx="13.2" ry="14.3" fill="#1ecd1e"/>
<ellipse cx="925.5" cy="238.7" rx="13.2" ry="14.3" fill="#1ecd1e"/>
<ellipse cx="925.5" cy="309" rx="13.2" ry="14.3" fill="#1ecd1e"/>
<ellipse cx="925.5" cy="351.4" rx="13.2" ry="14.3" fill="#1ecd1e"/>
<ellipse cx="925.5" cy="359.7" rx="13.2" ry="14.3" fill="#1ecd1e"/>
<ellipse cx="925.5" cy="368" rx="13.2" ry="14.3" fill="#1ecd1e"/>
<ellipse cx="925.5" cy="376.3" rx="13.2" ry="14.3" fill="#1ecd1e"/>
<ellipse cx="925.5" cy="384.7" rx="13.2" ry="14.3" fill="#1ecd1e"/>
<rect x="912.3" y="363" width="26.4" height="6" fill="#ff0000"/>
<ellipse cx="925.5" cy="418.4" rx="13.2" ry="14.3" fill="#ff0000"/>
<ellipse cx="925.5" cy="424.7" rx="13.2" ry="14.3" fill="#ff0000"/>
<ellipse cx="925.5" cy="462.4" rx="13.2" ry="14.3" fill="#1ecd1e"/>
<ellipse cx="925.5" cy="471" rx="13.2" ry="14.3" fill="#1ecd1e"/>
<ellipse cx="925.5" cy="479.7" rx="13.2" ry="14.3" fill="#1ecd1e"/>
<ellipse cx="925.5" cy="488.3" rx="13.2" ry="14.3" fill="#1ecd1e"/>
<ellipse cx="925.5" cy="497" rx="13.2" ry="14.3" fill="#1ecd1e"/>
<ellipse cx="925.5" cy="505.7" rx="13.2" ry="14.3" fill="#1ecd1e"/>
<ellipse cx="925.5" cy="547.5" rx="13.2" ry="14.3" fill="#ff0000"/>
<ellipse cx="925.5" cy="566.5" rx="13.2" ry="14.3" fill="#1ecd1e"/>
<ellipse cx="925.5" cy="770" rx="13.2" ry="14.3" fill="#ff0000"/>
<ellipse cx="925.5" cy="796" rx="13.2" ry="14.3" fill="#ff0000"/>
<ellipse cx="925.5" cy="830" rx="13.2" ry="14.3" fill="#ff0000"/>
<ellipse cx="925.5" cy="851" rx="13.2" ry="14.3" fill="#ff0000"/>
<ellipse cx="925.5" cy="905" rx="13.2" ry="14.3" fill="#ff0000"/>
<ellipse cx="966.8" cy="91.3" rx="13.2" ry="14.3" fill="#1ecd1e"/>
<ellipse cx="966.8" cy="100.2" rx="13.2" ry="14.3" fill="#1ecd1e"/>
<ellipse cx="966.8" cy="109.1" rx="13.2" ry="14.3" fill="#1ecd1e"/>
<ellipse cx="966.8" cy="117.9" rx="13.2" ry="14.3" fill="#1ecd1e"/>
<ellipse cx="966.8" cy="126.8" rx="13.2" ry="14.3" fill="#1ecd1e"/>
<ellipse cx="966.8" cy="135.6" rx="13.2" ry="14.3" fill="#1ecd1e"/>
<ellipse cx="966.8" cy="144.5" rx="13.2" ry="14.3" fill="#1ecd1e"/>
<ellipse cx="966.8" cy="153.4" rx="13.2" ry="14.3" fill="#1ecd1e"/>
<ellipse cx="966.8" cy="162.2" rx="13.2" ry="14.3" fill="#1ecd1e"/>
<ellipse cx="966.8" cy="171.1" rx="13.2" ry="14.3" fill="#1ecd1e"/>
<ellipse cx="966.8" cy="179.9" rx="13.2" ry="14.3" fill="#1ecd1e"/>
<ellipse cx="966.8" cy="188.8" rx="13.2" ry="14.3" fill="#1ecd1e"/>
<ellipse cx="966.8" cy="197.6" rx="13.2" ry="14.3" fill="#1ecd1e"/>
<rect x="953.6" y="137" width="26.4" height="8" fill="#ff0000"/>
<rect x="953.6" y="172" width="26.4" height="8" fill="#ff0000"/>
<ellipse cx="966.8" cy="254.3" rx="13.2" ry="14.3" fill="#1ecd1e"/>
<ellipse cx="966.8" cy="263.8" rx="13.2" ry="14.3" fill="#1ecd1e"/>
<ellipse cx="966.8" cy="273.3" rx="13.2" ry="14.3" fill="#1ecd1e"/>
<ellipse cx="966.8" cy="282.7" rx="13.2" ry="14.3" fill="#1ecd1e"/>
<ellipse cx="966.8" cy="292.2" rx="13.2" ry="14.3" fill="#1ecd1e"/>
<ellipse cx="966.8" cy="301.6" rx="13.2" ry="14.3" fill="#1ecd1e"/>
<ellipse cx="966.8" cy="351.4" rx="13.2" ry="14.3" fill="#1ecd1e"/>
<ellipse cx="966.8" cy="360" rx="13.2" ry="14.3" fill="#1ecd1e"/>
<ellipse cx="966.8" cy="368.7" rx="13.2" ry="14.3" fill="#1ecd1e"/>
<rect x="953.6" y="351" width="26.4" height="7" fill="#ff0000"/>
<ellipse cx="966.8" cy="414.4" rx="13.2" ry="14.3" fill="#1ecd1e"/>
<ellipse cx="966.8" cy="424.7" rx="13.2" ry="14.3" fill="#1ecd1e"/>
<ellipse cx="966.8" cy="478.5" rx="13.2" ry="14.3" fill="#ff0000"/>
<ellipse cx="966.8" cy="507.5" rx="13.2" ry="14.3" fill="#ff0000"/>
<ellipse cx="966.8" cy="532.5" rx="13.2" ry="14.3" fill="#1ecd1e"/>
<ellipse cx="966.8" cy="560" rx="13.2" ry="14.3" fill="#ff0000"/>
<ellipse cx="966.8" cy="585" rx="13.2" ry="14.3" fill="#1ecd1e"/>
<ellipse cx="966.8" cy="789.5" rx="13.2" ry="14.3" fill="#ff0000"/>
<ellipse cx="966.8" cy="822.5" rx="13.2" ry="14.3" fill="#ff0000"/>
<ellipse cx="966.8" cy="878.5" rx="13.2" ry="14.3" fill="#ff0000"/>
<ellipse cx="966.8" cy="927" rx="13.2" ry="14.3" fill="#ff0000"/>
<ellipse cx="966.8" cy="948" rx="13.2" ry="14.3" fill="#ff0000"/>
<ellipse cx="1007.4" cy="75" rx="13.2" ry="14.3" fill="#ff0000"/>
<ellipse cx="1007.4" cy="79.5" rx="13.2" ry="14.3" fill="#1ecd1e"/>
<ellipse cx="1007.4" cy="105.5" rx="13.2" ry="14.3" fill="#1ecd1e"/>
<ellipse cx="1007.4" cy="127.5" rx="13.2" ry="14.3" fill="#ff0000"/>
<ellipse cx="1007.4" cy="147" rx="13.2" ry="14.3" fill="#1ecd1e"/>
<ellipse cx="1007.4" cy="199.3" rx="13.2" ry="14.3" fill="#1ecd1e"/>
<ellipse cx="1007.4" cy="207.8" rx="13.2" ry="14.3" fill="#1ecd1e"/>
<ellipse cx="1007.4" cy="216.3" rx="13.2" ry="14.3" fill="#1ecd1e"/>
<ellipse cx="1007.4" cy="224.7" rx="13.2" ry="14.3" fill="#1ecd1e"/>
<ellipse cx="1007.4" cy="233.2" rx="13.2" ry="14.3" fill="#1ecd1e"/>
<ellipse cx="1007.4" cy="241.6" rx="13.2" ry="14.3" fill="#1ecd1e"/>
<ellipse cx="1007.4" cy="286.5" rx="13.2" ry="14.3" fill="#ff0000"/>
<ellipse cx="1007.4" cy="316" rx="13.2" ry="14.3" fill="#1ecd1e"/>
<ellipse cx="1007.4" cy="348.4" rx="13.2" ry="14.3" fill="#ff0000"/>
<ellipse cx="1007.4" cy="358.8" rx="13.2" ry="14.3" fill="#ff0000"/>
<ellipse cx="1007.4" cy="369.2" rx="13.2" ry="14.3" fill="#ff0000"/>
<ellipse cx="1007.4" cy="379.7" rx="13.2" ry="14.3" fill="#ff0000"/>
<ellipse cx="1007.4" cy="367" rx="13.2" ry="14.3" fill="#1ecd1e"/>
<ellipse cx="1007.4" cy="408.4" rx="13.2" ry="14.3" fill="#1ecd1e"/>
<ellipse cx="1007.4" cy="418.5" rx="13.2" ry="14.3" fill="#1ecd1e"/>
<ellipse cx="1007.4" cy="428.6" rx="13.2" ry="14.3" fill="#1ecd1e"/>
<ellipse cx="1007.4" cy="438.7" rx="13.2" ry="14.3" fill="#1ecd1e"/>
<ellipse cx="1007.4" cy="496" rx="13.2" ry="14.3" fill="#ff0000"/>
<ellipse cx="1007.4" cy="546.4" rx="13.2" ry="14.3" fill="#1ecd1e"/>
<ellipse cx="1007.4" cy="562.6" rx="13.2" ry="14.3" fill="#1ecd1e"/>
<ellipse cx="1007.4" cy="832.5" rx="13.2" ry="14.3" fill="#ff0000"/>
<ellipse cx="1007.4" cy="881.4" rx="13.2" ry="14.3" fill="#ff0000"/>
<ellipse cx="1007.4" cy="891.6" rx="13.2" ry="14.3" fill="#ff0000"/>
<ellipse cx="1048.3" cy="77.3" rx="13.2" ry="14.3" fill="#1ecd1e"/>
<ellipse cx="1048.3" cy="81.6" rx="13.2" ry="14.3" fill="#1ecd1e"/>
<ellipse cx="1048.3" cy="109" rx="13.2" ry="14.3" fill="#ff0000"/>
<ellipse cx="1048.3" cy="135.3" rx="13.2" ry="14.3" fill="#1ecd1e"/>
<ellipse cx="1048.3" cy="146.7" rx="13.2" ry="14.3" fill="#1ecd1e"/>
<ellipse cx="1048.3" cy="200.3" rx="13.2" ry="14.3" fill="#1ecd1e"/>
<ellipse cx="1048.3" cy="209" rx="13.2" ry="14.3" fill="#1ecd1e"/>
<ellipse cx="1048.3" cy="217.7" rx="13.2" ry="14.3" fill="#1ecd1e"/>
<ellipse cx="1048.3" cy="226.3" rx="13.2" ry="14.3" fill="#1ecd1e"/>
<ellipse cx="1048.3" cy="235" rx="13.2" ry="14.3" fill="#1ecd1e"/>
<ellipse cx="1048.3" cy="243.7" rx="13.2" ry="14.3" fill="#1ecd1e"/>
<ellipse cx="1048.3" cy="252.3" rx="13.2" ry="14.3" fill="#1ecd1e"/>
<ellipse cx="1048.3" cy="261" rx="13.2" ry="14.3" fill="#1ecd1e"/>
<ellipse cx="1048.3" cy="269.7" rx="13.2" ry="14.3" fill="#1ecd1e"/>
<ellipse cx="1048.3" cy="278.3" rx="13.2" ry="14.3" fill="#1ecd1e"/>
<ellipse cx="1048.3" cy="287" rx="13.2" ry="14.3" fill="#1ecd1e"/>
<ellipse cx="1048.3" cy="295.6" rx="13.2" ry="14.3" fill="#1ecd1e"/>
<ellipse cx="1048.3" cy="330.4" rx="13.2" ry="14.3" fill="#1ecd1e"/>
<ellipse cx="1048.3" cy="339.4" rx="13.2" ry="14.3" fill="#1ecd1e"/>
<ellipse cx="1048.3" cy="348.5" rx="13.2" ry="14.3" fill="#1ecd1e"/>
<ellipse cx="1048.3" cy="357.5" rx="13.2" ry="14.3" fill="#1ecd1e"/>
<ellipse cx="1048.3" cy="366.6" rx="13.2" ry="14.3" fill="#1ecd1e"/>
<ellipse cx="1048.3" cy="375.6" rx="13.2" ry="14.3" fill="#1ecd1e"/>
<ellipse cx="1048.3" cy="384.7" rx="13.2" ry="14.3" fill="#1ecd1e"/>
<rect x="1035.1" y="343" width="26.4" height="5" fill="#ff0000"/>
<ellipse cx="1048.3" cy="421.4" rx="13.2" ry="14.3" fill="#1ecd1e"/>
<ellipse cx="1048.3" cy="430.6" rx="13.2" ry="14.3" fill="#1ecd1e"/>
<ellipse cx="1048.3" cy="439.9" rx="13.2" ry="14.3" fill="#1ecd1e"/>
<ellipse cx="1048.3" cy="449.2" rx="13.2" ry="14.3" fill="#1ecd1e"/>
<ellipse cx="1048.3" cy="458.5" rx="13.2" ry="14.3" fill="#1ecd1e"/>
<ellipse cx="1048.3" cy="467.8" rx="13.2" ry="14.3" fill="#1ecd1e"/>
<ellipse cx="1048.3" cy="477.1" rx="13.2" ry="14.3" fill="#1ecd1e"/>
<ellipse cx="1048.3" cy="486.4" rx="13.2" ry="14.3" fill="#1ecd1e"/>
<ellipse cx="1048.3" cy="495.7" rx="13.2" ry="14.3" fill="#1ecd1e"/>
<ellipse cx="1048.3" cy="534.4" rx="13.2" ry="14.3" fill="#1ecd1e"/>
<ellipse cx="1048.3" cy="543.8" rx="13.2" ry="14.3" fill="#1ecd1e"/>
<ellipse cx="1048.3" cy="553.2" rx="13.2" ry="14.3" fill="#1ecd1e"/>
<ellipse cx="1048.3" cy="562.6" rx="13.2" ry="14.3" fill="#1ecd1e"/>
<ellipse cx="1048.3" cy="590.5" rx="13.2" ry="14.3" fill="#ff0000"/>
<rect x="378.1" y="632" width="14" height="14" fill="#ff0000"/>
<rect x="378.1" y="635.5" width="14" height="14" fill="#ff0000"/>
<rect x="378.1" y="641" width="14" height="14" fill="#ff0000"/>
<rect x="378.1" y="646.5" width="14" height="14" fill="#ff0000"/>
<rect x="378.1" y="651" width="14" height="14" fill="#ff0000"/>
<rect x="378.1" y="657.5" width="14" height="14" fill="#ff0000"/>
<rect x="378.1" y="662" width="14" height="14" fill="#ff0000"/>
<rect x="378.1" y="672" width="14" height="14" fill="#ff0000"/>
<rect x="378.1" y="676.5" width="14" height="14" fill="#ff0000"/>
<rect x="378.1" y="683" width="14" height="14" fill="#ff0000"/>
<rect x="378.1" y="693" width="14" height="14" fill="#ff0000"/>
<rect x="378.1" y="695.5" width="14" height="14" fill="#ff0000"/>
<rect x="378.1" y="701" width="14" height="14" fill="#ff0000"/>
<rect x="378.1" y="709" width="14" height="14" fill="#ff0000"/>
<rect x="378.1" y="715.5" width="14" height="14" fill="#ff0000"/>
<rect x="378.1" y="722" width="14" height="14" fill="#ff0000"/>
<rect x="378.1" y="727.5" width="14" height="14" fill="#ff0000"/>
<rect x="378.1" y="734" width="14" height="14" fill="#ff0000"/>
<rect x="378.1" y="738.5" width="14" height="14" fill="#ff0000"/>
<rect x="378.1" y="741" width="14" height="14" fill="#ff0000"/>
<rect x="378.1" y="743.5" width="14" height="14" fill="#ff0000"/>
<rect x="378.1" y="751.5" width="14" height="14" fill="#ff0000"/>
<rect x="378.1" y="754" width="14" height="14" fill="#ff0000"/>
<rect x="378.1" y="758.5" width="14" height="14" fill="#ff0000"/>
<rect x="378.1" y="765" width="14" height="14" fill="#ff0000"/>
<path d="M376.9 630.8h16.5v16.5h-16.5zM376.9 634.2h16.5v16.5h-16.5zM376.9 639.8h16.5v16.5h-16.5zM376.9 645.2h16.5v16.5h-16.5zM376.9 649.8h16.5v16.5h-16.5zM376.9 656.2h16.5v16.5h-16.5zM376.9 660.8h16.5v16.5h-16.5zM376.9 670.8h16.5v16.5h-16.5zM376.9 675.2h16.5v16.5h-16.5zM376.9 681.8h16.5v16.5h-16.5zM376.9 691.8h16.5v16.5h-16.5zM376.9 694.2h16.5v16.5h-16.5zM376.9 699.8h16.5v16.5h-16.5zM376.9 707.8h16.5v16.5h-16.5zM376.9 714.2h16.5v16.5h-16.5zM376.9 720.8h16.5v16.5h-16.5zM376.9 726.2h16.5v16.5h-16.5zM376.9 732.8h16.5v16.5h-16.5zM376.9 737.2h16.5v16.5h-16.5zM376.9 739.8h16.5v16.5h-16.5zM376.9 742.2h16.5v16.5h-16.5zM376.9 750.2h16.5v16.5h-16.5zM376.9 752.8h16.5v16.5h-16.5zM376.9 757.2h16.5v16.5h-16.5zM376.9 763.8h16.5v16.5h-16.5z" fill="none" stroke="#000" stroke-width="4.5" stroke-linejoin="round"/>
<rect x="421.2" y="542" width="14" height="14" fill="#ff0000"/>
<rect x="421.2" y="550" width="14" height="14" fill="#ff0000"/>
<rect x="421.2" y="554" width="14" height="14" fill="#ff0000"/>
<path d="M419.9 540.8h16.5v16.5h-16.5zM419.9 548.8h16.5v16.5h-16.5zM419.9 552.8h16.5v16.5h-16.5z" fill="none" stroke="#000" stroke-width="4.5" stroke-linejoin="round"/>
<rect x="421.2" y="599" width="14" height="14" fill="#ff0000"/>
<rect x="421.2" y="612.4" width="14" height="14" fill="#ff0000"/>
<rect x="421.2" y="625.8" width="14" height="14" fill="#ff0000"/>
<rect x="421.2" y="639.2" width="14" height="14" fill="#ff0000"/>
<rect x="421.2" y="652.6" width="14" height="14" fill="#ff0000"/>
<rect x="421.2" y="666" width="14" height="14" fill="#ff0000"/>
<path d="M419.9 597.8h16.5v16.5h-16.5zM419.9 611.1h16.5v16.5h-16.5zM419.9 624.5h16.5v16.5h-16.5zM419.9 638h16.5v16.5h-16.5zM419.9 651.4h16.5v16.5h-16.5zM419.9 664.8h16.5v16.5h-16.5z" fill="none" stroke="#000" stroke-width="4.5" stroke-linejoin="round"/>
<rect x="421.2" y="695" width="14" height="14" fill="#ff0000"/>
<rect x="421.2" y="709.4" width="14" height="14" fill="#ff0000"/>
<rect x="421.2" y="723.8" width="14" height="14" fill="#ff0000"/>
<rect x="421.2" y="738.2" width="14" height="14" fill="#ff0000"/>
<rect x="421.2" y="752.6" width="14" height="14" fill="#ff0000"/>
<rect x="421.2" y="767" width="14" height="14" fill="#ff0000"/>
<path d="M419.9 693.8h16.5v16.5h-16.5zM419.9 708.1h16.5v16.5h-16.5zM419.9 722.5h16.5v16.5h-16.5zM419.9 737h16.5v16.5h-16.5zM419.9 751.4h16.5v16.5h-16.5zM419.9 765.8h16.5v16.5h-16.5z" fill="none" stroke="#000" stroke-width="4.5" stroke-linejoin="round"/>
<rect x="462.2" y="488" width="14" height="14" fill="#ff0000"/>
<rect x="462.2" y="496" width="14" height="14" fill="#ff0000"/>
<rect x="462.2" y="502.5" width="14" height="14" fill="#ff0000"/>
<rect x="462.2" y="507" width="14" height="14" fill="#ff0000"/>
<rect x="462.2" y="511.5" width="14" height="14" fill="#ff0000"/>
<rect x="462.2" y="518" width="14" height="14" fill="#ff0000"/>
<rect x="462.2" y="522.5" width="14" height="14" fill="#ff0000"/>
<rect x="462.2" y="525" width="14" height="14" fill="#ff0000"/>
<rect x="462.2" y="533" width="14" height="14" fill="#1ecd1e"/>
<rect x="462.2" y="541" width="14" height="14" fill="#1ecd1e"/>
<rect x="462.2" y="551" width="14" height="14" fill="#ff0000"/>
<rect x="462.2" y="554.5" width="14" height="14" fill="#ff0000"/>
<rect x="462.2" y="559" width="14" height="14" fill="#ff0000"/>
<rect x="462.2" y="565.5" width="14" height="14" fill="#ff0000"/>
<rect x="462.2" y="569" width="14" height="14" fill="#ff0000"/>
<rect x="462.2" y="579" width="14" height="14" fill="#1ecd1e"/>
<rect x="462.2" y="589" width="14" height="14" fill="#1ecd1e"/>
<rect x="462.2" y="599" width="14" height="14" fill="#ff0000"/>
<rect x="462.2" y="604.5" width="14" height="14" fill="#ff0000"/>
<rect x="462.2" y="611" width="14" height="14" fill="#ff0000"/>
<rect x="462.2" y="621" width="14" height="14" fill="#ff0000"/>
<rect x="462.2" y="623.5" width="14" height="14" fill="#ff0000"/>
<rect x="462.2" y="628" width="14" height="14" fill="#ff0000"/>
<rect x="462.2" y="634.5" width="14" height="14" fill="#ff0000"/>
<rect x="462.2" y="638" width="14" height="14" fill="#ff0000"/>
<rect x="462.2" y="644.5" width="14" height="14" fill="#ff0000"/>
<rect x="462.2" y="651" width="14" height="14" fill="#ff0000"/>
<rect x="462.2" y="654" width="14" height="14" fill="#ff0000"/>
<path d="M460.9 486.8h16.5v16.5h-16.5zM460.9 494.8h16.5v16.5h-16.5zM460.9 501.2h16.5v16.5h-16.5zM460.9 505.8h16.5v16.5h-16.5zM460.9 510.2h16.5v16.5h-16.5zM460.9 516.8h16.5v16.5h-16.5zM460.9 521.2h16.5v16.5h-16.5zM460.9 523.8h16.5v16.5h-16.5zM460.9 531.8h16.5v16.5h-16.5zM460.9 539.8h16.5v16.5h-16.5zM460.9 549.8h16.5v16.5h-16.5zM460.9 553.2h16.5v16.5h-16.5zM460.9 557.8h16.5v16.5h-16.5zM460.9 564.2h16.5v16.5h-16.5zM460.9 567.8h16.5v16.5h-16.5zM460.9 577.8h16.5v16.5h-16.5zM460.9 587.8h16.5v16.5h-16.5zM460.9 597.8h16.5v16.5h-16.5zM460.9 603.2h16.5v16.5h-16.5zM460.9 609.8h16.5v16.5h-16.5zM460.9 619.8h16.5v16.5h-16.5zM460.9 622.2h16.5v16.5h-16.5zM460.9 626.8h16.5v16.5h-16.5zM460.9 633.2h16.5v16.5h-16.5zM460.9 636.8h16.5v16.5h-16.5zM460.9 643.2h16.5v16.5h-16.5zM460.9 649.8h16.5v16.5h-16.5zM460.9 652.8h16.5v16.5h-16.5z" fill="none" stroke="#000" stroke-width="4.5" stroke-linejoin="round"/>
<rect x="462.2" y="696" width="14" height="14" fill="#ff0000"/>
<rect x="462.2" y="703" width="14" height="14" fill="#ff0000"/>
<path d="M460.9 694.8h16.5v16.5h-16.5zM460.9 701.8h16.5v16.5h-16.5z" fill="none" stroke="#000" stroke-width="4.5" stroke-linejoin="round"/>
<rect x="462.2" y="733" width="14" height="14" fill="#ff0000"/>
<rect x="462.2" y="751.5" width="14" height="14" fill="#ff0000"/>
<rect x="462.2" y="770" width="14" height="14" fill="#ff0000"/>
<path d="M460.9 731.8h16.5v16.5h-16.5zM460.9 750.2h16.5v16.5h-16.5zM460.9 768.8h16.5v16.5h-16.5z" fill="none" stroke="#000" stroke-width="4.5" stroke-linejoin="round"/>
<rect x="503.3" y="463" width="14" height="14" fill="#ff0000"/>
<rect x="503.3" y="477" width="14" height="14" fill="#ff0000"/>
<path d="M502.1 461.8h16.5v16.5h-16.5zM502.1 475.8h16.5v16.5h-16.5z" fill="none" stroke="#000" stroke-width="4.5" stroke-linejoin="round"/>
<rect x="503.3" y="525" width="14" height="14" fill="#ff0000"/>
<rect x="503.3" y="535" width="14" height="14" fill="#ff0000"/>
<rect x="503.3" y="543" width="14" height="14" fill="#ff0000"/>
<rect x="503.3" y="548.5" width="14" height="14" fill="#ff0000"/>
<rect x="503.3" y="551" width="14" height="14" fill="#ff0000"/>
<rect x="503.3" y="557.5" width="14" height="14" fill="#ff0000"/>
<rect x="503.3" y="563" width="14" height="14" fill="#ff0000"/>
<rect x="503.3" y="566.5" width="14" height="14" fill="#ff0000"/>
<rect x="503.3" y="569" width="14" height="14" fill="#ff0000"/>
<rect x="503.3" y="577" width="14" height="14" fill="#ff0000"/>
<path d="M502.1 523.8h16.5v16.5h-16.5zM502.1 533.8h16.5v16.5h-16.5zM502.1 541.8h16.5v16.5h-16.5zM502.1 547.2h16.5v16.5h-16.5zM502.1 549.8h16.5v16.5h-16.5zM502.1 556.2h16.5v16.5h-16.5zM502.1 561.8h16.5v16.5h-16.5zM502.1 565.2h16.5v16.5h-16.5zM502.1 567.8h16.5v16.5h-16.5zM502.1 575.8h16.5v16.5h-16.5z" fill="none" stroke="#000" stroke-width="4.5" stroke-linejoin="round"/>
<rect x="503.3" y="631" width="14" height="14" fill="#ff0000"/>
<path d="M502.1 629.8h16.5v16.5h-16.5z" fill="none" stroke="#000" stroke-width="4.5" stroke-linejoin="round"/>
<rect x="503.3" y="717" width="14" height="14" fill="#ff0000"/>
<rect x="503.3" y="720.5" width="14" height="14" fill="#ff0000"/>
<rect x="503.3" y="730" width="14" height="14" fill="#ff0000"/>
<path d="M502.1 715.8h16.5v16.5h-16.5zM502.1 719.2h16.5v16.5h-16.5zM502.1 728.8h16.5v16.5h-16.5z" fill="none" stroke="#000" stroke-width="4.5" stroke-linejoin="round"/>
<rect x="503.3" y="762.5" width="14" height="14" fill="#ff0000"/>
<path d="M502.1 761.2h16.5v16.5h-16.5z" fill="none" stroke="#000" stroke-width="4.5" stroke-linejoin="round"/>
<rect x="544" y="438" width="14" height="14" fill="#1ecd1e"/>
<rect x="544" y="454" width="14" height="14" fill="#ff0000"/>
<path d="M542.8 436.8h16.5v16.5h-16.5zM542.8 452.8h16.5v16.5h-16.5z" fill="none" stroke="#000" stroke-width="4.5" stroke-linejoin="round"/>
<rect x="544" y="485" width="14" height="14" fill="#ff0000"/>
<rect x="544" y="500" width="14" height="14" fill="#ff0000"/>
<path d="M542.8 483.8h16.5v16.5h-16.5zM542.8 498.8h16.5v16.5h-16.5z" fill="none" stroke="#000" stroke-width="4.5" stroke-linejoin="round"/>
<rect x="544" y="563" width="14" height="14" fill="#ff0000"/>
<rect x="544" y="583.5" width="14" height="14" fill="#1ecd1e"/>
<rect x="544" y="604" width="14" height="14" fill="#ff0000"/>
<path d="M542.8 561.8h16.5v16.5h-16.5zM542.8 582.2h16.5v16.5h-16.5zM542.8 602.8h16.5v16.5h-16.5z" fill="none" stroke="#000" stroke-width="4.5" stroke-linejoin="round"/>
<rect x="544" y="660" width="14" height="14" fill="#ff0000"/>
<rect x="544" y="679" width="14" height="14" fill="#ff0000"/>
<rect x="544" y="698" width="14" height="14" fill="#ff0000"/>
<path d="M542.8 658.8h16.5v16.5h-16.5zM542.8 677.8h16.5v16.5h-16.5zM542.8 696.8h16.5v16.5h-16.5z" fill="none" stroke="#000" stroke-width="4.5" stroke-linejoin="round"/>
<rect x="544" y="728" width="14" height="14" fill="#ff0000"/>
<path d="M542.8 726.8h16.5v16.5h-16.5z" fill="none" stroke="#000" stroke-width="4.5" stroke-linejoin="round"/>
<rect x="587.3" y="476.5" width="14" height="14" fill="#1ecd1e"/>
<path d="M586 475.2h16.5v16.5h-16.5z" fill="none" stroke="#000" stroke-width="4.5" stroke-linejoin="round"/>
<rect x="587.3" y="553" width="14" height="14" fill="#ff0000"/>
<rect x="587.3" y="568" width="14" height="14" fill="#1ecd1e"/>
<path d="M586 551.8h16.5v16.5h-16.5zM586 566.8h16.5v16.5h-16.5z" fill="none" stroke="#000" stroke-width="4.5" stroke-linejoin="round"/>
<rect x="587.3" y="635.5" width="14" height="14" fill="#ff0000"/>
<path d="M586 634.2h16.5v16.5h-16.5z" fill="none" stroke="#000" stroke-width="4.5" stroke-linejoin="round"/>
<rect x="587.3" y="694" width="14" height="14" fill="#ff0000"/>
<rect x="587.3" y="716" width="14" height="14" fill="#ff0000"/>
<path d="M586 692.8h16.5v16.5h-16.5zM586 714.8h16.5v16.5h-16.5z" fill="none" stroke="#000" stroke-width="4.5" stroke-linejoin="round"/>
<rect x="628" y="356.5" width="14" height="14" fill="#ff0000"/>
<path d="M626.8 355.2h16.5v16.5h-16.5z" fill="none" stroke="#000" stroke-width="4.5" stroke-linejoin="round"/>
<rect x="628" y="393" width="14" height="14" fill="#1ecd1e"/>
<rect x="628" y="411" width="14" height="14" fill="#ff0000"/>
<path d="M626.8 391.8h16.5v16.5h-16.5zM626.8 409.8h16.5v16.5h-16.5z" fill="none" stroke="#000" stroke-width="4.5" stroke-linejoin="round"/>
<rect x="628" y="441" width="14" height="14" fill="#ff0000"/>
<path d="M626.8 439.8h16.5v16.5h-16.5z" fill="none" stroke="#000" stroke-width="4.5" stroke-linejoin="round"/>
<rect x="628" y="525" width="14" height="14" fill="#1ecd1e"/>
<rect x="628" y="540" width="14" height="14" fill="#1ecd1e"/>
<rect x="628" y="555" width="14" height="14" fill="#ff0000"/>
<path d="M626.8 523.8h16.5v16.5h-16.5zM626.8 538.8h16.5v16.5h-16.5zM626.8 553.8h16.5v16.5h-16.5z" fill="none" stroke="#000" stroke-width="4.5" stroke-linejoin="round"/>
<rect x="628" y="617.5" width="14" height="14" fill="#ff0000"/>
<path d="M626.8 616.2h16.5v16.5h-16.5z" fill="none" stroke="#000" stroke-width="4.5" stroke-linejoin="round"/>
<rect x="628" y="666" width="14" height="14" fill="#ff0000"/>
<path d="M626.8 664.8h16.5v16.5h-16.5z" fill="none" stroke="#000" stroke-width="4.5" stroke-linejoin="round"/>
<rect x="669" y="358" width="14" height="14" fill="#ff0000"/>
<rect x="669" y="363.5" width="14" height="14" fill="#ff0000"/>
<rect x="669" y="366" width="14" height="14" fill="#1ecd1e"/>
<rect x="669" y="371.5" width="14" height="14" fill="#1ecd1e"/>
<rect x="669" y="375" width="14" height="14" fill="#1ecd1e"/>
<rect x="669" y="385" width="14" height="14" fill="#1ecd1e"/>
<rect x="669" y="398" width="14" height="14" fill="#ff0000"/>
<path d="M667.8 356.8h16.5v16.5h-16.5zM667.8 362.2h16.5v16.5h-16.5zM667.8 364.8h16.5v16.5h-16.5zM667.8 370.2h16.5v16.5h-16.5zM667.8 373.8h16.5v16.5h-16.5zM667.8 383.8h16.5v16.5h-16.5zM667.8 396.8h16.5v16.5h-16.5z" fill="none" stroke="#000" stroke-width="4.5" stroke-linejoin="round"/>
<rect x="669" y="436" width="14" height="14" fill="#ff0000"/>
<rect x="669" y="452" width="14" height="14" fill="#1ecd1e"/>
<path d="M667.8 434.8h16.5v16.5h-16.5zM667.8 450.8h16.5v16.5h-16.5z" fill="none" stroke="#000" stroke-width="4.5" stroke-linejoin="round"/>
<rect x="669" y="494" width="14" height="14" fill="#ff0000"/>
<rect x="669" y="496.5" width="14" height="14" fill="#ff0000"/>
<rect x="669" y="503" width="14" height="14" fill="#ff0000"/>
<rect x="669" y="508.5" width="14" height="14" fill="#ff0000"/>
<rect x="669" y="515" width="14" height="14" fill="#ff0000"/>
<rect x="669" y="519.5" width="14" height="14" fill="#ff0000"/>
<rect x="669" y="524" width="14" height="14" fill="#ff0000"/>
<rect x="669" y="527.5" width="14" height="14" fill="#1ecd1e"/>
<rect x="669" y="530" width="14" height="14" fill="#1ecd1e"/>
<rect x="669" y="533.5" width="14" height="14" fill="#ff0000"/>
<rect x="669" y="536" width="14" height="14" fill="#ff0000"/>
<rect x="669" y="542.5" width="14" height="14" fill="#ff0000"/>
<rect x="669" y="552.5" width="14" height="14" fill="#ff0000"/>
<rect x="669" y="560" width="14" height="14" fill="#ff0000"/>
<path d="M667.8 492.8h16.5v16.5h-16.5zM667.8 495.2h16.5v16.5h-16.5zM667.8 501.8h16.5v16.5h-16.5zM667.8 507.2h16.5v16.5h-16.5zM667.8 513.8h16.5v16.5h-16.5zM667.8 518.2h16.5v16.5h-16.5zM667.8 522.8h16.5v16.5h-16.5zM667.8 526.2h16.5v16.5h-16.5zM667.8 528.8h16.5v16.5h-16.5zM667.8 532.2h16.5v16.5h-16.5zM667.8 534.8h16.5v16.5h-16.5zM667.8 541.2h16.5v16.5h-16.5zM667.8 551.2h16.5v16.5h-16.5zM667.8 558.8h16.5v16.5h-16.5z" fill="none" stroke="#000" stroke-width="4.5" stroke-linejoin="round"/>
<rect x="669" y="591" width="14" height="14" fill="#ff0000"/>
<rect x="669" y="593.5" width="14" height="14" fill="#ff0000"/>
<rect x="669" y="603" width="14" height="14" fill="#ff0000"/>
<path d="M667.8 589.8h16.5v16.5h-16.5zM667.8 592.2h16.5v16.5h-16.5zM667.8 601.8h16.5v16.5h-16.5z" fill="none" stroke="#000" stroke-width="4.5" stroke-linejoin="round"/>
<rect x="669" y="644" width="14" height="14" fill="#ff0000"/>
<path d="M667.8 642.8h16.5v16.5h-16.5z" fill="none" stroke="#000" stroke-width="4.5" stroke-linejoin="round"/>
<rect x="710" y="315" width="14" height="14" fill="#ff0000"/>
<rect x="710" y="319.5" width="14" height="14" fill="#ff0000"/>
<rect x="710" y="327.5" width="14" height="14" fill="#ff0000"/>
<rect x="710" y="341" width="14" height="14" fill="#1ecd1e"/>
<path d="M708.8 313.8h16.5v16.5h-16.5zM708.8 318.2h16.5v16.5h-16.5zM708.8 326.2h16.5v16.5h-16.5zM708.8 339.8h16.5v16.5h-16.5z" fill="none" stroke="#000" stroke-width="4.5" stroke-linejoin="round"/>
<rect x="710" y="376" width="14" height="14" fill="#1ecd1e"/>
<path d="M708.8 374.8h16.5v16.5h-16.5z" fill="none" stroke="#000" stroke-width="4.5" stroke-linejoin="round"/>
<rect x="710" y="429" width="14" height="14" fill="#1ecd1e"/>
<path d="M708.8 427.8h16.5v16.5h-16.5z" fill="none" stroke="#000" stroke-width="4.5" stroke-linejoin="round"/>
<rect x="710" y="490" width="14" height="14" fill="#1ecd1e"/>
<path d="M708.8 488.8h16.5v16.5h-16.5z" fill="none" stroke="#000" stroke-width="4.5" stroke-linejoin="round"/>
<rect x="710" y="553" width="14" height="14" fill="#ff0000"/>
<path d="M708.8 551.8h16.5v16.5h-16.5z" fill="none" stroke="#000" stroke-width="4.5" stroke-linejoin="round"/>
<rect x="752.7" y="281" width="14" height="14" fill="#1ecd1e"/>
<rect x="752.7" y="299" width="14" height="14" fill="#ff0000"/>
<path d="M751.5 279.8h16.5v16.5h-16.5zM751.5 297.8h16.5v16.5h-16.5z" fill="none" stroke="#000" stroke-width="4.5" stroke-linejoin="round"/>
<rect x="752.7" y="321" width="14" height="14" fill="#ff0000"/>
<rect x="752.7" y="323.5" width="14" height="14" fill="#ff0000"/>
<rect x="752.7" y="334" width="14" height="14" fill="#ff0000"/>
<path d="M751.5 319.8h16.5v16.5h-16.5zM751.5 322.2h16.5v16.5h-16.5zM751.5 332.8h16.5v16.5h-16.5z" fill="none" stroke="#000" stroke-width="4.5" stroke-linejoin="round"/>
<rect x="752.7" y="391.5" width="14" height="14" fill="#ff0000"/>
<path d="M751.5 390.2h16.5v16.5h-16.5z" fill="none" stroke="#000" stroke-width="4.5" stroke-linejoin="round"/>
<rect x="752.7" y="423" width="14" height="14" fill="#1ecd1e"/>
<rect x="752.7" y="440" width="14" height="14" fill="#1ecd1e"/>
<path d="M751.5 421.8h16.5v16.5h-16.5zM751.5 438.8h16.5v16.5h-16.5z" fill="none" stroke="#000" stroke-width="4.5" stroke-linejoin="round"/>
<rect x="752.7" y="493" width="14" height="14" fill="#ff0000"/>
<rect x="752.7" y="503" width="14" height="14" fill="#1ecd1e"/>
<path d="M751.5 491.8h16.5v16.5h-16.5zM751.5 501.8h16.5v16.5h-16.5z" fill="none" stroke="#000" stroke-width="4.5" stroke-linejoin="round"/>
<rect x="752.7" y="560" width="14" height="14" fill="#ff0000"/>
<rect x="752.7" y="568" width="14" height="14" fill="#ff0000"/>
<path d="M751.5 558.8h16.5v16.5h-16.5zM751.5 566.8h16.5v16.5h-16.5z" fill="none" stroke="#000" stroke-width="4.5" stroke-linejoin="round"/>
<rect x="793.9" y="249" width="14" height="14" fill="#ff0000"/>
<path d="M792.6 247.8h16.5v16.5h-16.5z" fill="none" stroke="#000" stroke-width="4.5" stroke-linejoin="round"/>
<rect x="793.9" y="281" width="14" height="14" fill="#ff0000"/>
<rect x="793.9" y="286.5" width="14" height="14" fill="#ff0000"/>
<rect x="793.9" y="289" width="14" height="14" fill="#ff0000"/>
<rect x="793.9" y="297" width="14" height="14" fill="#ff0000"/>
<path d="M792.6 279.8h16.5v16.5h-16.5zM792.6 285.2h16.5v16.5h-16.5zM792.6 287.8h16.5v16.5h-16.5zM792.6 295.8h16.5v16.5h-16.5z" fill="none" stroke="#000" stroke-width="4.5" stroke-linejoin="round"/>
<rect x="793.9" y="328" width="14" height="14" fill="#1ecd1e"/>
<rect x="793.9" y="345.7" width="14" height="14" fill="#1ecd1e"/>
<rect x="793.9" y="363.3" width="14" height="14" fill="#1ecd1e"/>
<rect x="793.9" y="381" width="14" height="14" fill="#ff0000"/>
<path d="M792.6 326.8h16.5v16.5h-16.5zM792.6 344.4h16.5v16.5h-16.5zM792.6 362.1h16.5v16.5h-16.5zM792.6 379.8h16.5v16.5h-16.5z" fill="none" stroke="#000" stroke-width="4.5" stroke-linejoin="round"/>
<rect x="793.9" y="408.5" width="14" height="14" fill="#1ecd1e"/>
<path d="M792.6 407.2h16.5v16.5h-16.5z" fill="none" stroke="#000" stroke-width="4.5" stroke-linejoin="round"/>
<rect x="793.9" y="455" width="14" height="14" fill="#1ecd1e"/>
<rect x="793.9" y="465" width="14" height="14" fill="#1ecd1e"/>
<path d="M792.6 453.8h16.5v16.5h-16.5zM792.6 463.8h16.5v16.5h-16.5z" fill="none" stroke="#000" stroke-width="4.5" stroke-linejoin="round"/>
<rect x="793.9" y="504.5" width="14" height="14" fill="#1ecd1e"/>
<path d="M792.6 503.2h16.5v16.5h-16.5z" fill="none" stroke="#000" stroke-width="4.5" stroke-linejoin="round"/>
<rect x="834.5" y="237" width="14" height="14" fill="#ff0000"/>
<path d="M833.2 235.8h16.5v16.5h-16.5z" fill="none" stroke="#000" stroke-width="4.5" stroke-linejoin="round"/>
<rect x="834.5" y="265" width="14" height="14" fill="#1ecd1e"/>
<rect x="834.5" y="270.5" width="14" height="14" fill="#1ecd1e"/>
<rect x="834.5" y="276" width="14" height="14" fill="#1ecd1e"/>
<rect x="834.5" y="281.5" width="14" height="14" fill="#1ecd1e"/>
<rect x="834.5" y="290" width="14" height="14" fill="#ff0000"/>
<path d="M833.2 263.8h16.5v16.5h-16.5zM833.2 269.2h16.5v16.5h-16.5zM833.2 274.8h16.5v16.5h-16.5zM833.2 280.2h16.5v16.5h-16.5zM833.2 288.8h16.5v16.5h-16.5z" fill="none" stroke="#000" stroke-width="4.5" stroke-linejoin="round"/>
<rect x="834.5" y="314.5" width="14" height="14" fill="#1ecd1e"/>
<path d="M833.2 313.2h16.5v16.5h-16.5z" fill="none" stroke="#000" stroke-width="4.5" stroke-linejoin="round"/>
<rect x="834.5" y="387" width="14" height="14" fill="#1ecd1e"/>
<rect x="834.5" y="402" width="14" height="14" fill="#1ecd1e"/>
<path d="M833.2 385.8h16.5v16.5h-16.5zM833.2 400.8h16.5v16.5h-16.5z" fill="none" stroke="#000" stroke-width="4.5" stroke-linejoin="round"/>
<rect x="875.7" y="226" width="14" height="14" fill="#1ecd1e"/>
<rect x="875.7" y="240" width="14" height="14" fill="#1ecd1e"/>
<path d="M874.5 224.8h16.5v16.5h-16.5zM874.5 238.8h16.5v16.5h-16.5z" fill="none" stroke="#000" stroke-width="4.5" stroke-linejoin="round"/>
<rect x="875.7" y="271" width="14" height="14" fill="#1ecd1e"/>
<path d="M874.5 269.8h16.5v16.5h-16.5z" fill="none" stroke="#000" stroke-width="4.5" stroke-linejoin="round"/>
<rect x="875.7" y="303" width="14" height="14" fill="#ff0000"/>
<path d="M874.5 301.8h16.5v16.5h-16.5z" fill="none" stroke="#000" stroke-width="4.5" stroke-linejoin="round"/>
<rect x="875.7" y="332" width="14" height="14" fill="#1ecd1e"/>
<rect x="875.7" y="348" width="14" height="14" fill="#1ecd1e"/>
<rect x="875.7" y="364" width="14" height="14" fill="#1ecd1e"/>
<path d="M874.5 330.8h16.5v16.5h-16.5zM874.5 346.8h16.5v16.5h-16.5zM874.5 362.8h16.5v16.5h-16.5z" fill="none" stroke="#000" stroke-width="4.5" stroke-linejoin="round"/>
<rect x="918.5" y="226" width="14" height="14" fill="#1ecd1e"/>
<path d="M917.2 224.8h16.5v16.5h-16.5z" fill="none" stroke="#000" stroke-width="4.5" stroke-linejoin="round"/>
<rect x="918.5" y="303" width="14" height="14" fill="#1ecd1e"/>
<path d="M917.2 301.8h16.5v16.5h-16.5z" fill="none" stroke="#000" stroke-width="4.5" stroke-linejoin="round"/>
<polygon points="309.8,724.3 373,592.3 467,487 574.7,407.3 713.5,300 856,218.5 943,209.5 959,298.5 887.4,411 802.3,548 588.6,752.7 512,773 418.9,801.4" fill="none" stroke="#000" stroke-width="4" stroke-linejoin="miter"/>
<rect x="306.8" y="721.3" width="6" height="6" fill="#000"/>
<rect x="370" y="589.3" width="6" height="6" fill="#000"/>
<rect x="464" y="484" width="6" height="6" fill="#000"/>
<rect x="571.7" y="404.3" width="6" height="6" fill="#000"/>
<rect x="710.5" y="297" width="6" height="6" fill="#000"/>
<rect x="853" y="215.5" width="6" height="6" fill="#000"/>
<rect x="940" y="206.5" width="6" height="6" fill="#000"/>
<rect x="956" y="295.5" width="6" height="6" fill="#000"/>
<rect x="884.4" y="408" width="6" height="6" fill="#000"/>
<rect x="799.3" y="545" width="6" height="6" fill="#000"/>
<rect x="585.6" y="749.7" width="6" height="6" fill="#000"/>
<rect x="509" y="770" width="6" height="6" fill="#000"/>
<rect x="415.9" y="798.4" width="6" height="6" fill="#000"/>
<text x="166" y="76.5" style="font-family:'Liberation Serif',serif;font-weight:bold;fill:#000;font-size:43px" text-anchor="end" textLength="46" lengthAdjust="spacingAndGlyphs">13</text>
<text x="166" y="256.5" style="font-family:'Liberation Serif',serif;font-weight:bold;fill:#000;font-size:43px" text-anchor="end" textLength="46" lengthAdjust="spacingAndGlyphs">12</text>
<text x="166" y="438.3" style="font-family:'Liberation Serif',serif;font-weight:bold;fill:#000;font-size:43px" text-anchor="end" textLength="44" lengthAdjust="spacingAndGlyphs">11</text>
<text x="166" y="617.5" style="font-family:'Liberation Serif',serif;font-weight:bold;fill:#000;font-size:43px" text-anchor="end" textLength="47" lengthAdjust="spacingAndGlyphs">10</text>
<text x="166" y="797.5" style="font-family:'Liberation Serif',serif;font-weight:bold;fill:#000;font-size:43px" text-anchor="end" textLength="23.5" lengthAdjust="spacingAndGlyphs">9</text>
<text x="166" y="978.5" style="font-family:'Liberation Serif',serif;font-weight:bold;fill:#000;font-size:43px" text-anchor="end" textLength="23.5" lengthAdjust="spacingAndGlyphs">8</text>
<text x="191" y="1013" style="font-family:'Liberation Serif',serif;font-weight:bold;fill:#000;font-size:43px" text-anchor="middle" textLength="60" lengthAdjust="spacingAndGlyphs">1.5</text>
<text x="471" y="1013" style="font-family:'Liberation Serif',serif;font-weight:bold;fill:#000;font-size:43px" text-anchor="middle" textLength="25" lengthAdjust="spacingAndGlyphs">2</text>
<text x="752" y="1013" style="font-family:'Liberation Serif',serif;font-weight:bold;fill:#000;font-size:43px" text-anchor="middle" textLength="63" lengthAdjust="spacingAndGlyphs">2.5</text>
<text x="1034" y="1013" style="font-family:'Liberation Serif',serif;font-weight:bold;fill:#000;font-size:43px" text-anchor="middle" textLength="24" lengthAdjust="spacingAndGlyphs">3</text>
<text x="560" y="1084.5" style="font-family:'Liberation Serif',serif;font-weight:bold;fill:#000;font-size:56px" textLength="160" lengthAdjust="spacingAndGlyphs">log(<tspan style="font-style:italic">&#x3c3;</tspan>)</text>
<text transform="translate(76,589) rotate(-90)" style="font-family:'Liberation Serif',serif;font-weight:bold;fill:#000;font-size:56px" textLength="155" lengthAdjust="spacingAndGlyphs">log(L)</text>
<path d="M1664.5 488.5h0M1623 464.5h0M1641 457h0M1601 519.5h0M1640.5 460h0M1640 501.5h0M1635.5 454h0M1654.5 463.5h0M1620.5 425.5h0M1678 591h0M1668.5 597.5h0M1606 443h0M1627.5 623.5h0M1642 589.5h0M1611 540.5h0M1654 609.5h0M1662.5 473.5h0M1668.5 470h0M1662 547.5h0M1606.5 555.5h0M1642.5 474.5h0M1650 484.5h0M1661 457.5h0M1664 552h0M1661 541.5h0M1645 474.5h0M1650.5 493h0M1675 528h0M1640 450.5h0M1679.5 570h0M1646 526h0M1666.5 568.5h0M1665.5 476.5h0M1656 512h0M1644.5 519h0M1652.5 543h0M1653 470.5h0M1659 530.5h0M1667.5 504.5h0M1673.5 536h0M1664 556.5h0M1669 489.5h0M1657 454.5h0M1666 477.5h0M1662.5 585h0M1687 577h0M1645 495h0M1652.5 462.5h0M1647.5 527h0M1661 456h0M1646.5 472.5h0M1653.5 535.5h0M1658.5 578.5h0M1646 529h0M1675.5 548.5h0M1666.5 528.5h0M1674.5 538h0M1683 580h0M1663 572.5h0M1660.5 570h0M1648 535h0M1643.5 466.5h0M1660 482.5h0M1646.5 525h0M1644 483h0M1673.5 392h0M1664.5 368h0M1775 363h0M1779.5 376h0M1664 390h0M1669 397.5h0M1755 364h0M1658.5 320h0M1674 335.5h0M1743.5 379.5h0M1724.5 377.5h0M1656.5 284.5h0M1695 340h0M1742.5 343h0M1656.5 317.5h0M1685.5 365h0M1665.5 389.5h0M1725.5 375.5h0M1759.5 374.5h0M1717.5 388h0M1643.5 421h0M1775 384h0M1670 374h0M1644 339.5h0M1672.5 364h0M1677.5 294h0M1759 317.5h0M1724.5 398.5h0M1757.5 329.5h0M1659.5 371.5h0M1686 323h0M1671.5 339h0M1742.5 340h0M1737 389h0M1761.5 365.5h0M1720.5 378.5h0M1785.5 385.5h0M1703.5 385.5h0M1750 404.5h0M1680 327h0M1702 339h0M1654 338.5h0M1736.5 391h0M1674.5 373h0M1752.5 303.5h0M1642 304h0M1698 327h0M1734 327.5h0M1646 317h0M1730 348.5h0M1692 339h0M1660.5 395h0M1696 383.5h0M1759.5 300h0M1753.5 314.5h0M1716 353.5h0M1764 369.5h0M1772 328h0M1654.5 308h0M1647 386h0M1759.5 517.5h0M1775.5 403h0M1655.5 500h0M1743 498.5h0M1748 553h0M1808 436.5h0M1665 459.5h0M1752 423h0M1661.5 504.5h0M1757.5 471h0M1690 535h0M1777.5 422.5h0M1708 485.5h0M1757.5 474h0M1727 399h0M1770 515h0M1704 550h0M1702 418.5h0M1677.5 440.5h0M1724 480.5h0M1738 404h0M1795 405h0M1759 481h0M1745 550.5h0M1687.5 508h0M1731.5 447h0M1712 417h0M1752 411h0M1779 413.5h0M1755.5 487h0M1778 455h0M1720 402h0M1732 526.5h0M1769 496h0M1716.5 430.5h0M1779 502h0M1756 481.5h0M1777 487h0M1689 448h0M1696.5 433h0M1795 509.5h0M1747.5 462h0M1726 399h0M1724.5 487h0M1703.5 472.5h0M1777.5 528h0M1779.5 418h0M1667 497h0M1783.5 398.5h0M1797 427.5h0M1783.5 434.5h0M1746.5 421h0M1751 384.5h0M1753 398h0M1709 408.5h0M1700 465.5h0M1755 495.5h0M1732.5 535h0M1713.5 406h0M1759.5 445h0M1801 451h0M1805.5 467h0M1782.5 447h0M1746.5 394h0M1712 439h0M1738 498h0M1685 429h0M1708.5 543.5h0M1676.5 454h0M1647 487h0M1715.5 440.5h0M1710 429.5h0M1713 413.5h0M1764 550h0M1796.5 446.5h0M1722 479h0M1754.5 527.5h0M1731.5 459h0M1802 483h0M1714 532h0M1714 479.5h0M1689 439h0M1658.5 522.5h0M1726.5 513h0M1740.5 396h0M1690 438.5h0M1776 443h0M1760.5 476.5h0M1760.5 441.5h0M1662 536h0M1721.5 554.5h0M1767 484.5h0M1716.5 505h0M1685.5 444.5h0M1698.5 529h0M1803.5 397.5h0M1759 459.5h0M1756.5 501h0M1669 486.5h0M1750 415.5h0M1649.5 503.5h0M1678.5 538.5h0M1698 442h0M1781 524.5h0M1742.5 422h0M1787 514h0M1771.5 552h0M1763 555.5h0M1723 404.5h0M1731.5 552.5h0M1747.5 438.5h0M1665.5 509.5h0M1700 459h0M1808 440.5h0M1754 443.5h0M1709.5 457.5h0M1719 401.5h0M1752 481h0M1702 522h0M1729.5 483h0M1772.5 517h0M1689.5 468.5h0M1780.5 540.5h0M1789.5 525.5h0M1755 385h0M1706 509h0M1744 520h0M1758.5 542.5h0M1731.5 482.5h0M1744 526h0M1699 531.5h0M1743 481h0M1678.5 506.5h0M1668 456.5h0M1802.5 415h0M1796 465.5h0M1672.5 543h0M1705 421h0M1799.5 509.5h0M1799.5 513h0M1782 548h0M1717 547.5h0M1714 555h0M1735.5 496.5h0M1697.5 427h0M1788.5 419h0M1696.5 547h0M1791.5 396.5h0M1777 395.5h0M1705 562h0M1792 400h0M1739.5 456.5h0M1757.5 536.5h0M1738 549.5h0M1794.5 410h0M1730 506.5h0M1787.5 513h0M1754.5 489.5h0M1754 453h0M1755.5 532h0M1788 511h0M1758 393h0M1700 463h0M1696.5 416h0M1707.5 531.5h0M1689.5 550.5h0M1646 457h0M1765.5 517.5h0M1657 483h0M1661 452h0M1707.5 459.5h0M1741.5 443h0M1761 380.5h0M1789.5 416h0M1734 396.5h0M1736.5 524.5h0M1797.5 523.5h0M1779.5 389h0M1765 490.5h0M1767.5 396h0M1789 396h0M1685 429h0M1760 451.5h0M1709.5 471.5h0M1771 533h0M1786 431.5h0M1664 515.5h0M1659 517.5h0M1686.5 497.5h0M1772 499h0M1709 545h0M1722.5 428h0M1723.5 529.5h0M1798.5 457h0M1719 436.5h0M1686 537h0M1779 426h0M1766 547.5h0M1715 558.5h0M1660 532.5h0M1787 426h0M1691 429.5h0M1668 527.5h0M1761.5 523.5h0M1752 427.5h0M1734 438.5h0M1693 441h0M1744 410.5h0M1671.5 534.5h0M1771 445.5h0M1686.5 486.5h0M1719 495.5h0M1705 509h0M1757.5 538.5h0M1726 409h0M1695.5 415h0M1785.5 514h0M1694.5 435h0M1666 460h0M1780.5 403.5h0M1768.5 473.5h0M1702.5 540h0M1745 439h0M1762 434h0M1722 534h0M1724 403.5h0M1783.5 503h0M1736 543.5h0M1712.5 450.5h0M1654 506.5h0M1749 552.5h0M1646.5 455h0M1718 455.5h0M1652 496.5h0M1697 457.5h0M1785 417h0M1730.5 428.5h0M1747 479h0M1756.5 397.5h0M1750.5 500.5h0M1787 524.5h0M1776.5 471h0M1798 408h0M1655.5 498h0M1738.5 543.5h0M1689 418h0M1765 524.5h0M1802.5 499h0M1693 482.5h0M1737 406.5h0M1730.5 481h0M1770.5 415h0M1737 389h0M1735.5 412h0M1691 453h0M1687.5 427.5h0M1696.5 471h0M1804.5 418h0M1798 522.5h0M1783.5 407h0M1718.5 502h0M1733.5 513.5h0M1677.5 544.5h0M1744 491.5h0M1743 460.5h0M1725.5 395h0M1744.5 414.5h0M1759.5 453.5h0M1755 427.5h0M1666 501h0M1783 418.5h0M1771 519.5h0M1777 456h0M1771 551h0M1796.5 483h0M1654.5 487.5h0M1697.5 529.5h0M1749.5 549.5h0M1771 414h0M1764 388.5h0M1790 433.5h0M1769 398.5h0M1789 529h0M1730.5 482.5h0M1681.5 446.5h0M1670 451.5h0M1668 495.5h0M1727.5 444.5h0M1703 553.5h0M1672 536.5h0M1703.5 407h0M1804.5 420.5h0M1738.5 455.5h0M1668 447.5h0M1776.5 479h0M1663 458.5h0M1752 455h0M1691 528h0M1787.5 498h0M1667 515h0M1746.5 513.5h0M1768 482.5h0M1709 532.5h0M1695.5 418.5h0M1677 504h0M1806 423.5h0M1720 479h0M1714.5 480h0M1707 487h0M1806 456.5h0M1683.5 520h0M1682.5 482h0M1800 456.5h0M1684.5 541.5h0M1694.5 445h0M1773.5 460.5h0M1696.5 446.5h0M1698.5 428.5h0M1690 522.5h0M1797 415h0M1783.5 534h0M1803.5 456.5h0M1779.5 448h0M1717 472h0M1678.5 475h0M1687.5 551h0M1789.5 511h0M1739 513h0M1792 524h0M1697.5 450h0M1803.5 413.5h0M1779 412.5h0M1721 479h0M1706.5 533h0M1682 459h0M1710.5 473.5h0M1700 558h0M1742 462.5h0M1694 510.5h0M1670 491.5h0M1728.5 392.5h0M1728.5 441.5h0M1646.5 462h0M1759.5 480.5h0M1710.5 508h0M1791.5 446.5h0M1733 542h0M1689.5 462h0M1726 445.5h0M1738.5 523.5h0M1790.5 455h0M1692.5 519.5h0M1762.5 430h0M1719 425h0M1732.5 418h0M1700 436.5h0M1800 519h0M1688.5 544.5h0M1723.5 395.5h0M1691 555h0M1734 559.5h0M1719 440.5h0M1683.5 425h0M1774 487.5h0M1789 467.5h0M1657.5 501.5h0M1666.5 495h0M1768 503.5h0M1786.5 545.5h0M1764 531h0M1693 463.5h0M1736 452.5h0M1722 467.5h0M1670 520.5h0M1789.5 417.5h0M1792 460.5h0M1808.5 470.5h0M1664.5 519h0M1665 506.5h0M1781 457.5h0M1788.5 523.5h0M1741 416.5h0M1725 529h0M1658 511.5h0M1697.5 480.5h0M1652.5 501.5h0M1785 407.5h0M1651 501.5h0M1690 510h0M1698 474.5h0M1663.5 446.5h0M1655.5 478.5h0M1650 474.5h0M1648.5 486h0M1764 413h0M1740.5 395.5h0M1723 528.5h0M1676.5 464.5h0M1796 429h0M1775.5 394h0M1691 521.5h0M1790 433h0M1713.5 440.5h0M1677 440h0M1785 484.5h0M1786 484h0M1758 481h0M1680.5 469.5h0M1702.5 421.5h0M1698 547.5h0M1736 430h0M1706 434h0M1776.5 474.5h0M1726 514h0M1793.5 510.5h0M1803 490h0M1785 490.5h0M1737 529.5h0M1719.5 533.5h0M1767 415.5h0M1759.5 432.5h0M1717.5 552.5h0M1684.5 479h0M1718.5 411h0M1761 435.5h0M1772.5 388.5h0M1720.5 438h0M1754.5 437h0M1762 388.5h0M1796.5 497.5h0M1711.5 529h0M1768.5 437h0M1660 496h0M1716 538h0M1670 531h0M1786 417.5h0M1687.5 491.5h0M1692.5 468.5h0M1734 451.5h0M1780.5 525.5h0M1662 506h0M1792 491h0M1805.5 487h0M1723 453h0M1742.5 500.5h0M1699.5 542.5h0M1759.5 436h0M1739 391.5h0M1786 405h0M1707 440h0M1761.5 393.5h0M1740 444.5h0M1689 512.5h0M1764 383.5h0M1784.5 399.5h0M1712 457h0M1769 505h0M1793.5 434.5h0M1754.5 500h0M1683 518.5h0M1797 487.5h0M1775.5 431h0M1786 440h0M1696 482.5h0M1747 465h0M1784 517.5h0M1733 541h0M1712 451h0M1808.5 437h0M1667.5 535.5h0M1760 438.5h0M1780 503.5h0M1720.5 476.5h0M1803.5 478.5h0M1662.5 460h0M1695.5 554.5h0M1718 453h0M1773 519.5h0M1658.5 504h0M1801 485.5h0M1691.5 549.5h0M1656 469h0M1678 481h0M1712 540.5h0M1657 464.5h0M1786 498h0M1703.5 477h0M1661.5 534.5h0M1775.5 434h0M1786.5 484.5h0M1718.5 522h0M1798.5 485h0M1732 505h0M1786.5 466.5h0M1750 432.5h0M1767 485.5h0M1677 524.5h0M1720.5 404h0M1805.5 470h0M1687.5 548.5h0M1762 440h0M1718 515h0M1694 433h0M1784 515h0M1769.5 433h0M1762.5 550.5h0M1740.5 510.5h0M1674.5 464.5h0M1733.5 513h0M1731.5 423h0M1665 533h0M1706 553h0M1650 518.5h0M1758.5 510h0M1651 472h0M1729 434.5h0M1660 491.5h0M1706 559.5h0M1684 451h0M1755 404.5h0M1786.5 523h0M1755.5 390.5h0M1774.5 425h0M1770 409.5h0M1751 502.5h0M1751.5 411.5h0M1722.5 426h0M1699 440.5h0M1797 414h0M1711 522.5h0M1658.5 521.5h0M1796 493h0M1799.5 463h0M1727.5 462.5h0M1729 452h0M1765 557h0M1729 464.5h0M1782.5 512h0M1750 507h0M1780 459h0M1740.5 424h0M1738 498.5h0M1739 415.5h0M1715 485h0M1704 502h0M1709 465.5h0M1678.5 477h0M1716.5 496h0M1731 421.5h0M1740.5 508h0M1790 442.5h0M1738.5 469h0M1730.5 437h0M1670.5 507h0M1758.5 550.5h0M1728 535h0M1729 560h0M1773.5 457h0M1739 541.5h0M1648 492.5h0M1803 423.5h0M1729.5 458h0M1727.5 530h0M1793 486.5h0M1724 545h0M1719 435h0M1725 500.5h0M1684 515.5h0M1761.5 541h0M1678 544h0M1743 506h0M1734 455h0M1656.5 511.5h0M1661.5 463h0M1742 425h0M1771 426.5h0M1789.5 451.5h0M1759.5 462h0M1747 389.5h0M1723 454h0M1694 426h0M1726.5 540.5h0M1777.5 436h0M1744.5 495h0M1765.5 494h0M1776.5 427.5h0M1740 389.5h0M1742 432.5h0M1685 474h0M1770.5 385.5h0M1729.5 441h0M1746.5 507.5h0M1790 501h0M1673 478h0M1705.5 408h0M1713 476.5h0M1754.5 540.5h0M1706.5 498h0M1711 461.5h0M1760 515h0M1703 438h0M1719.5 552h0M1695.5 421.5h0M1717 440.5h0M1714 475.5h0M1664 517.5h0M1750.5 517h0M1718.5 412h0M1769 539h0M1794 511.5h0M1760.5 387.5h0M1692.5 450.5h0M1690.5 496h0M1768 464.5h0M1769 424.5h0M1764 408.5h0M1750 523.5h0M1700.5 541h0M1656.5 455h0M1735.5 462h0M1759 432h0M1724 538h0M1672 543h0M1682.5 478h0M1697 465.5h0M1755 481.5h0M1771.5 398h0M1761.5 454h0M1790.5 397.5h0M1801.5 492h0M1701.5 409.5h0M1794 444.5h0M1666 465.5h0M1705.5 529h0M1655 519.5h0M1758.5 512h0M1771.5 538h0M1723 497.5h0M1743 460.5h0M1667.5 479h0M1733 443h0M1767 541.5h0M1730 449h0M1730 514h0M1695.5 530h0M1755.5 508h0M1744.5 392.5h0M1753 537.5h0M1756.5 533.5h0M1669.5 463h0M1765 552.5h0M1685 426.5h0M1753 454.5h0M1799 503h0M1761 545h0M1715.5 498.5h0M1766 544.5h0M1679 470h0M1795 414h0M1652 457h0M1711 495.5h0M1752.5 536h0M1692 430.5h0M1744.5 405h0M1771.5 401h0M1784.5 433h0M1800.5 495h0M1773.5 417h0M1757 499.5h0M1712 481h0M1734.5 533h0M1728 398.5h0M1750.5 557h0M1730.5 416.5h0M1790.5 477h0M1720 501.5h0M1713 482.5h0M1655.5 480h0M1738.5 419.5h0M1675 459.5h0M1763.5 440h0M1700 548.5h0M1689.5 489h0M1765.5 431.5h0M1800 425.5h0M1733 485h0M1646.5 457h0M1763 451h0M1739 410h0M1679.5 440.5h0M1687.5 509.5h0M1775.5 436h0M1785 444h0M1784 507.5h0M1728.5 520h0M1776.5 420h0M1795 442h0M1775.5 506h0M1750 528h0M1706 454h0M1748 436h0M1754.5 540.5h0M1720 542h0M1772.5 427.5h0M1744.5 486h0M1672 504.5h0M1698 450h0M1664 509h0M1794.5 440.5h0M1780 390.5h0M1729 497.5h0M1762.5 464.5h0M1674 479h0M1792.5 433.5h0M1713 501h0M1703.5 498h0M1714.5 410h0M1658.5 458.5h0M1702 526h0M1745.5 484h0M1748.5 485h0M1806 421h0M1729.5 393.5h0M1772.5 480h0M1735 429h0M1715 549h0M1712.5 429.5h0M1773.5 510h0M1689 532.5h0M1673.5 485h0M1774 510.5h0M1672 451.5h0M1782 495.5h0M1773 408h0M1779 411h0M1650 467.5h0M1753 495.5h0M1726 413h0M1739.5 466.5h0M1709 513.5h0M1740 444h0M1788 525.5h0M1805.5 426.5h0M1752.5 422.5h0M1799 406.5h0M1760.5 548.5h0M1779 419h0M1803.5 419.5h0M1724.5 412.5h0M1702 426.5h0M1690.5 437h0M1762.5 391h0M1738.5 527.5h0M1685.5 495h0M1689 543h0M1728.5 447h0M1799 473.5h0M1709 414h0M1725.5 444.5h0M1693 436.5h0M1729 414.5h0M1732.5 470.5h0M1668.5 485.5h0M1796.5 517.5h0M1735.5 425h0M1764.5 423.5h0M1786.5 430.5h0M1677.5 521.5h0M1680 431h0M1761.5 449.5h0M1711 546.5h0M1738.5 449h0M1743.5 454.5h0M1806.5 428h0M1783 523h0M1691.5 522h0M1760.5 525h0M1731 406h0M1725.5 554h0M1796.5 438h0M1753.5 385h0M1765.5 486h0M1710 429.5h0M1716.5 457.5h0M1671 506.5h0M1692.5 412h0M1723.5 441h0M1786 518h0M1753.5 548h0M1657.5 487.5h0M1689.5 556h0M1793 472h0M1795.5 465h0M1808.5 437.5h0M1677 495h0M1808 426.5h0M1759.5 428.5h0M1707 492h0M1773.5 470h0M1800.5 499h0M1803.5 494.5h0M1803.5 431h0M1856 459.5h0M1872 459.5h0M1885 484h0M1862.5 494.5h0M1852.5 480.5h0M1800.5 415.5h0M1833 429h0M1820 507.5h0M1846.5 417.5h0M1869 420h0M1831.5 424h0M1871 475.5h0M1801.5 510h0M1819 434.5h0M1811 491.5h0M1858.5 432.5h0M1814 526h0M1854 469h0M1863.5 470.5h0M1884 483.5h0M1849.5 448h0M1855 508h0M1827 515h0M1890 496.5h0M1828 542h0M1804.5 487.5h0M1889.5 513h0M1896 472.5h0M1852.5 534h0M1871.5 533.5h0M1800.5 472.5h0M1868.5 513.5h0M1855 495.5h0M1842 546h0M1867.5 516.5h0M1873.5 473h0M1849 535h0M1873.5 510h0M1873.5 535.5h0M1841.5 518.5h0M1880.5 517h0M1854 472h0M1833.5 418.5h0M1837.5 458h0M1883 499h0M1845.5 551.5h0M1838.5 450h0M1816 496.5h0M1858 509.5h0M1829 498.5h0M1877.5 507h0M1805.5 524h0M1825.5 402.5h0M1821.5 545.5h0M1804 506h0M1845.5 437h0M1845 526.5h0M1849 548.5h0M1898.5 493h0M1812.5 412.5h0M1856.5 530.5h0M1828.5 487.5h0M1866 493h0M1835.5 483.5h0M1896.5 483.5h0M1817.5 487h0M1890.5 471h0M1822.5 428h0M1886 460.5h0M1858.5 480.5h0M1866.5 533h0M1889 448.5h0M1844 416h0M1861.5 456h0M1873 441.5h0M1838 500.5h0M1816 430h0M1858.5 503h0M1813 460h0M1847.5 459h0M1807 506.5h0M1873.5 432h0M1856.5 530.5h0M1833.5 427.5h0M1891 509h0M1819.5 469h0M1864 433h0M1890.5 514h0M1488.5 165.5h0M1503.5 210h0M1500 226h0M1536.5 222.5h0M1559 239.5h0M1532 260h0M1586 267h0M1625 221h0M1643 235.5h0M1675.5 187h0M1673 206h0M1623 292.5h0M1595.5 304.5h0M1571 312.5h0M1612 328h0M1582.5 333.5h0M1590.5 353.5h0M1621.5 353.5h0M1607.5 365h0M1598.5 371h0M1684 263h0M1759 220h0M1717.5 252h0M1787.5 318h0M1835 316.5h0M1866 350h0M1749.5 267.5h0M1762 315.5h0M1773 331h0M1773 344.5h0M1607 365h0M1600.5 376h0M1598 398h0M1560 419.5h0M1624 434.5h0M1633.5 428h0M1635.5 441h0M1567 452h0M1575 451.5h0M1587.5 454.5h0M1613 463h0M1616.5 466.5h0M1630.5 455h0M1633.5 461.5h0M1648 474h0M1637 487h0M1633.5 487h0M1597.5 495h0M1632 506.5h0M1645 520h0M1659 522.5h0M1633 531.5h0M1646.5 539h0M1659 543.5h0M1646 549.5h0M1646.5 564.5h0M1660.5 566h0M1668.5 560h0M1670 533h0M1676.5 515.5h0M1683 525h0M1684.5 534.5h0M1668.5 572.5h0M1683 578h0M1673.5 588.5h0M1678 594.5h0M1686 598h0M1694 604h0M1697 598h0M1672 610.5h0M1662.5 617.5h0M1713 625h0M1716 598h0M1727.5 604h0M1691 556.5h0M1703.5 563h0M1732 566h0M1943.5 433.5h0M2021 438h0M1891 456h0M1896 469h0M1904 486h0M1969 468h0M1918 518h0M1940 527.5h0M1943.5 519.5h0M1913 526h0M1899 543h0M1894 551h0M1946.5 548h0M1989.5 573.5h0M1983 584.5h0M2002 586h0M2016 586h0M2038.5 589h0M2051 594h0M2030.5 607h0M2051 607h0M1976.5 595.5h0M1988 595h0M2010 619.5h0M2019.5 621h0M2035.5 624h0M2048 621h0M2051 626h0M1983 627.5h0M2003.5 633.5h0M2070 635h0M2078 638.5h0M2068.5 643h0M2095.5 654h0M2059 656h0M1980 646h0M1946.5 643h0M2034 674.5h0M2078 678h0M2083 692.5h0M2107 694.5h0M1954.5 686h0M2073.5 729h0M2016 567h0M2013 570h0M1997 565.5h0M2045 576.5h0M2032 583h0M2005 516h0M2019.5 567h0M1989.5 574h0M1996 564.5h0M2003.5 569h0M2014 567h0M1982.5 584.5h0M2001.5 586h0M2014 586h0M2019.5 586h0M1977.5 595.5h0M1988 594.5h0M2016 578h0M2032.5 581.5h0M2039.5 578h0M2047 576.5h0M2039.5 589h0M2050 594.5h0M2030.5 605.5h0M2030.5 610.5h0M2052.5 606.5h0M2009 618h0M2018 619.5h0M1983.5 627h0M2036 624.5h0M2047 618h0M2050.5 625h0M2004 633.5h0M1980 647h0M2068.5 644.5h0M2070.5 636h0M2077.5 638h0M2059.5 656h0M2094.5 655h0M2032.5 675h0M2077.5 677.5h0M2082.5 692h0M2106.5 694.5h0M2074 729.5h0M2122 793.5h0M2135 811.5h0M2202 811.5h0M2233.5 901h0M2021 438.5h0" stroke="#808080" stroke-width="6.4" stroke-linecap="round" fill="none"/>
<path d="M1802.5 744h0M1796 672h0M1840.5 678.5h0M1765.5 649.5h0M1830.5 879.5h0M1789.5 696.5h0M1785.5 761.5h0M1815 717h0M1826 843.5h0M1843 898.5h0M1826.5 899h0M1829.5 749.5h0M1763 703h0M1844 823.5h0M1833 660.5h0M1830 720.5h0M1787 763h0M1834.5 836h0M1799.5 812h0M1800.5 750h0M1840 782.5h0M1774.5 749.5h0M1796 722h0M1822.5 907.5h0M1821.5 779.5h0M1842 811h0M1839 885h0M1803.5 702h0M1798 751.5h0M1775 703h0M1785 760h0M1812 847.5h0M1803.5 827h0M1812.5 665h0M1803.5 701.5h0M1807 874.5h0M1822.5 668.5h0M1837.5 829h0M1817 655h0M1786 709h0M1784 824h0M1789.5 649.5h0M1765.5 756.5h0M1799 795.5h0M1843 887.5h0M1844 747h0M1833 728h0M1778.5 695.5h0M1794.5 754.5h0M1826.5 833h0M1832 855h0M1796 739h0M1794.5 786.5h0M1803.5 798.5h0M1841.5 741.5h0M1810.5 696.5h0M1811 802h0M1820.5 766.5h0M1773 739.5h0M1785 695.5h0M1842.5 834.5h0M1844 899.5h0M1785 727h0M1804.5 755h0M1798 667.5h0M1842.5 877h0M1812.5 747h0M1813.5 790.5h0M1794.5 841.5h0M1783.5 743.5h0M1834 838.5h0M1778.5 735h0M1806.5 688h0M1826 812.5h0M1793 734h0M1777.5 697.5h0M1811.5 792h0M1835 861h0M1825 801.5h0M1781.5 764h0M1840 856.5h0M1826.5 884h0M1834.5 713.5h0M1841 907.5h0M1813 801h0M1834.5 862.5h0M1840 771.5h0M1837.5 764h0M1800 778.5h0M1813.5 652.5h0M1842.5 771h0M1839 889h0M1795 854.5h0M1779 752h0M1776.5 728h0M1789.5 671h0M1836 897h0M1830.5 727.5h0M1778 778h0M1774.5 743.5h0M1804.5 776.5h0M1840 804.5h0M1806 877.5h0M1812.5 888h0M1817.5 840.5h0M1807.5 675.5h0M1812.5 882h0M1827.5 903.5h0M1775.5 648.5h0M1764.5 701h0M1806 881h0M1793 685.5h0M1786.5 697h0M1828.5 898.5h0M1809 794h0M1810.5 833.5h0M1834 868h0M1800 780.5h0M1802 689h0M1800 691.5h0M1764.5 651.5h0M1799 799.5h0M1841.5 850h0M1796.5 803h0M1763 688.5h0M1799.5 804.5h0M1820.5 893.5h0M1792.5 751.5h0M1773.5 720.5h0M1816 858h0M1766.5 774h0M1818.5 704.5h0M1808 656h0M1818 807.5h0M1817.5 656h0M1809 743h0M1807 836h0M1775.5 776h0M1822.5 691.5h0M1773.5 777h0M1808 880.5h0M1817.5 708.5h0M1775.5 729.5h0M1789 807.5h0M1824 686.5h0M1819 877.5h0M1836 787h0M1785 730.5h0M1783.5 709h0M1766 751h0M1832 757.5h0M1815.5 668.5h0M1788.5 786h0M1762 720.5h0M1833 672.5h0M1830 816.5h0M1781.5 693h0M1820 798h0M1791.5 765h0M1834.5 728h0M1828.5 856h0M1819 807.5h0M1837.5 692h0M1845.5 879h0M1791.5 645.5h0M1775 727.5h0M1796 690h0M1806 755h0M1797 834h0M1823 753h0M1770 732.5h0M1787.5 693.5h0M1812 659h0M1801 717.5h0M1821 890h0M1812.5 836h0M1809.5 656h0M1790.5 844h0M1815 819h0M1839.5 890.5h0M1789 682h0M1822 847h0M1785 755h0M1836 690h0M1762 702h0M1822 704.5h0M1772 780.5h0M1780 799h0M1798.5 716.5h0M1833 716.5h0M1810 655.5h0M1837.5 694.5h0M1780.5 832.5h0M1819 836.5h0M1764.5 748.5h0M1813.5 714h0M1827.5 798h0M1818 712h0M1791.5 825.5h0M1817.5 761.5h0M1819.5 661.5h0M1781 671h0M1821.5 839.5h0M1823 815h0M1790.5 781.5h0M1798.5 684h0M1832.5 681h0M1786 845.5h0M1837 671h0M1828.5 710h0M1841.5 671.5h0M1790.5 689h0M1809.5 776.5h0M1810.5 674.5h0M1811 837h0M1761 695.5h0M1842.5 778h0M1784 810h0M1795.5 659h0M1802 742.5h0M1832 742.5h0M1790.5 767h0M1846.5 888h0M1813.5 684h0M1790 827h0M1843.5 856h0M1791 776h0M1829 804.5h0M1808 661h0M1776 681h0M1780.5 833h0M1809 774.5h0M1810 689h0M1775.5 811.5h0M1808 700h0M1829.5 863h0M1818.5 664h0M1803 837h0M1845.5 837.5h0M1826 709.5h0M1764.5 732.5h0M1798.5 712.5h0M1794.5 768.5h0M1815.5 696h0M1767 724h0M1809.5 879.5h0M1833 894h0M1828 784h0M1792.5 686.5h0M1815 717h0M1771.5 651h0M1801.5 710.5h0M1836.5 663.5h0M1804 770h0M1819.5 699h0M1813 712h0M1796 705.5h0M1833.5 784h0M1835.5 673.5h0M1835 826h0M1827 844.5h0M1764 756h0M1834.5 834h0M1827.5 812h0M1834 775.5h0M1813 838.5h0M1763 688h0M1831.5 722.5h0M1797 853h0M1821.5 660h0M1796 706.5h0M1800.5 750.5h0M1793 855.5h0M1803 815.5h0M1779 728h0M1802 807.5h0M1798.5 855.5h0M1793 709h0M1787.5 773.5h0M1836 845.5h0M1839 818h0M1806.5 880h0M1820.5 809.5h0M1835.5 758.5h0M1844 746h0M1798.5 861h0M1799 698h0M1815.5 669.5h0M1808 677h0M1797.5 649.5h0M1836 874.5h0M1768 741h0M1782.5 821h0M1806 795.5h0M1837 800h0M1811.5 842h0M1842.5 811h0M1841.5 730.5h0M1789 798.5h0M1790.5 649.5h0M1791.5 737h0M1761.5 684h0M1815.5 776h0M1821.5 741.5h0M1823.5 818h0M1829 726h0M1804 664.5h0M1789 780.5h0M1834 895.5h0M1826 721h0M1796.5 848h0M1839.5 897.5h0M1793.5 735h0M1826.5 780.5h0M1835 763h0M1774 750h0M1809.5 838h0M1774 751.5h0M1779 689.5h0M1836.5 892h0M1845 795.5h0M1765 655.5h0M1794.5 656.5h0M1830 841.5h0M1812.5 793.5h0M1822.5 692h0M1791 751.5h0M1809.5 686h0M1837.5 667.5h0M1794 698.5h0M1828 695h0M1793 847h0M1824 880h0M1807 866.5h0M1785.5 675h0M1817 892.5h0M1788 795.5h0M1812 667h0M1815.5 857h0M1788 648h0M1791 757h0M1814 693h0M1809.5 761h0M1829.5 669h0M1821 871h0M1796 753.5h0M1842 687.5h0M1817 779h0M1805 817.5h0M1812 826h0M1800 713.5h0M1842 881h0M1830.5 905h0M1825 667h0M1763.5 674.5h0M1817 681.5h0M1788.5 838.5h0M1807.5 835h0M1805.5 868h0M1813 800h0M1834.5 876h0M1817 880.5h0M1807.5 865.5h0M1792.5 759h0M1821 891h0M1836 882h0M1818 892h0M1786 732.5h0M1802.5 868.5h0M1839 815.5h0M1766.5 750h0M1822 879h0M1831.5 860h0M1825.5 763.5h0M1829.5 834.5h0M1763 677.5h0M1839 659h0M1799.5 792.5h0M1836.5 704h0M1799 845.5h0M1798.5 748h0M1788 699.5h0M1816.5 687.5h0M1789 780.5h0M1836 703h0M1824 747h0M1768 730.5h0M1777.5 665h0M1790 749.5h0M1825 906.5h0M1784 709h0M1780 693.5h0M1824.5 797.5h0M1776 759.5h0M1795.5 776h0M1827.5 872h0M1833 780h0M1827 911h0M1844.5 785.5h0M1835.5 684.5h0M1804.5 774h0M1801.5 800.5h0M1843.5 735.5h0M1806.5 792.5h0M1840.5 645h0M1800 861.5h0M1806.5 737.5h0M1814.5 680.5h0M1810 852.5h0M1814 654h0M1822.5 733.5h0M1823.5 824h0M1832 720h0M1799.5 758.5h0M1801.5 737.5h0M1767 702.5h0M1798 707.5h0M1811 740h0M1817.5 701.5h0M1812 801h0M1844 849.5h0M1838.5 787.5h0M1809.5 654h0M1804.5 766h0M1767 760h0M1804 773.5h0M1807.5 729h0M1790.5 763h0M1840 880.5h0M1775.5 725h0M1814 832h0M1814 716h0M1820.5 774.5h0M1821.5 830.5h0M1792 729h0M1822 797.5h0M1767 681.5h0M1822.5 651h0M1804 675h0M1821.5 725.5h0M1815.5 743h0M1833.5 655h0M1791.5 645.5h0M1831.5 689h0M1812.5 882h0M1833 651h0M1816 856.5h0M1811 855.5h0M1822.5 787h0M1837 830.5h0M1783.5 798.5h0M1839.5 819.5h0M1838.5 671h0M1781 739.5h0M1813.5 700h0M1802 695.5h0M1821.5 888.5h0M1826.5 771h0M1782 822h0M1808 750.5h0M1773.5 714.5h0M1782.5 827h0M1816.5 721h0M1807 866h0M1765.5 760h0M1792 851.5h0M1836.5 866.5h0M1827.5 790h0M1841 664.5h0M1790.5 846h0M1819 903.5h0M1838 820h0M1798.5 759h0M1783 649h0M1788 746h0M1838.5 739.5h0M1835.5 901h0M1789 718.5h0M1828.5 845.5h0M1843 771h0M1841.5 658h0M1821 894h0M1837.5 800.5h0M1828 761h0M1818.5 692.5h0M1808.5 868.5h0M1767 691.5h0M1825 784.5h0M1809 712.5h0M1783 816h0M1780.5 819h0M1821.5 826.5h0M1798.5 865.5h0M1842 906h0M1807.5 705.5h0M1820 653.5h0M1826.5 723.5h0M1838 656h0M1843.5 761.5h0M1788.5 802.5h0M1799.5 779.5h0M1771.5 803h0M1778 668h0M1802 661h0M1793 790.5h0M1833.5 730.5h0M1820.5 726.5h0M1790 730.5h0M1799 665.5h0M1808 885.5h0M1797.5 809h0M1809.5 793.5h0M1765.5 650.5h0M1773.5 646h0M1826.5 821h0M1809.5 704h0M1780.5 738.5h0M1826.5 799.5h0M1795 697.5h0M1764.5 759.5h0M1816.5 854.5h0M1769.5 752h0M1796.5 782.5h0M1827 809.5h0M1808 877h0M1836 821h0M1801 676.5h0M1793.5 856h0M1796.5 698.5h0M1839.5 801.5h0M1795.5 738h0M1785 711.5h0M1764 750h0M1824 790.5h0M1763 691.5h0M1774 691.5h0M1804 812h0M1834.5 814h0M1790 783.5h0M1841 731.5h0M1841.5 812h0M1782 690.5h0M1814 816.5h0M1811.5 713h0M1798 834h0M1800.5 664.5h0M1819 697h0M1840 742h0M1807.5 849.5h0M1811.5 682.5h0M1802.5 668h0M1839.5 818h0M1787.5 702.5h0M1780 801h0M1827 735.5h0M1842.5 793.5h0M1803 813h0M1809 850h0M1842 877h0M1765.5 695h0M1793 696h0M1818.5 807h0M1772 724h0M1797 851h0M1825 786.5h0M1829 753.5h0M1790 767h0M1839 848.5h0M1803.5 748.5h0M1798.5 725.5h0M1806.5 648.5h0M1768.5 776.5h0M1781 693h0M1778.5 696h0M1843.5 822.5h0M1787.5 736.5h0M1783.5 739.5h0M1832.5 735h0M1829 779h0M1800 831.5h0M1782.5 727h0M1809.5 826.5h0M1795.5 836h0M1820.5 825h0M1831 908h0M1807.5 648.5h0M1781 687.5h0M1805.5 698.5h0M1818 857.5h0M1822 711.5h0M1819 756.5h0M1818 773.5h0M1832.5 897h0M1776.5 759.5h0M1816 650.5h0M1803.5 877h0M1785 803h0M1821 859.5h0M1834 824h0M1827 669.5h0M1812.5 714h0M1794 765h0M1794 666h0M1806 748.5h0M1776.5 665.5h0M1837 698h0M1829 671h0M1832.5 745h0M1797.5 812h0M1834 889h0M1810.5 870.5h0M1813 683.5h0M1809 840.5h0M1822 844h0M1812.5 773h0M1812 770.5h0M1809.5 767h0M1782 737.5h0M1809 703h0M1811.5 656h0M1779 714.5h0M1764.5 652.5h0M1803.5 808.5h0M1818 893h0M1796 804.5h0M1772 716h0M1828 836.5h0M1841 846.5h0M1845.5 862h0M1774 747.5h0M1795.5 791h0M1829 824h0M1798.5 830h0M1772.5 729.5h0M1834 699.5h0M1766.5 765.5h0M1777.5 808.5h0M1844.5 771h0M1811 816h0M1773 733h0M1813 781h0M1762.5 724.5h0M1820 734.5h0M1769 700.5h0M1812 770.5h0M1825 806h0M1842 701.5h0M1786 784.5h0M1783.5 823.5h0M1793.5 656.5h0M1804.5 678h0M1826.5 840h0M1825 697.5h0M1802.5 694.5h0M1823 645h0M1832 909.5h0M1833 833h0M1814.5 767.5h0M1810.5 781.5h0M1793 791.5h0M1772.5 664.5h0M1815 893.5h0M1824 853h0M1805.5 810h0M1763.5 671h0M1764.5 689h0M1787 707h0M1832.5 808.5h0M1789.5 716h0M1840 691h0M1765 756.5h0M1822.5 831h0M1769 762h0M1810.5 840.5h0M1822.5 764.5h0M1827 779h0M1771.5 684h0M1762.5 705.5h0M1805.5 668.5h0M1794 702h0M1783.5 782.5h0M1838.5 678.5h0M1817 681h0M1774 784.5h0M1832 719.5h0M1816 891h0M1812 744.5h0M1787.5 847h0M1820.5 823h0M1819 816.5h0M1770.5 659.5h0M1798.5 786h0M1826 896h0M1805 760h0M1815.5 795h0M1813 660.5h0M1818 813.5h0M1840 878h0M1819 799h0M1826.5 701h0M1795.5 754.5h0M1774.5 698h0M1810.5 756h0M1845 795h0M1788 736h0M1766.5 683h0M1783.5 722.5h0M1772 754.5h0M1766.5 662h0M1769 725.5h0M1809 872.5h0M1775.5 709h0M1844 884h0M1834 648.5h0M1764.5 651h0M1774 730.5h0M1804 796h0M1792 831.5h0M1794 730.5h0M1809.5 699h0M1769.5 700.5h0M1816 722.5h0M1805.5 832.5h0M1774.5 691h0M1791 779.5h0M1822.5 820h0M1834.5 681h0M1808 849.5h0M1843.5 854.5h0M1775 692h0M1823.5 815h0M1837.5 841h0M1788.5 810h0M1801 822.5h0M1806 765h0M1777.5 691h0M1808.5 756h0M1806.5 844h0M1775.5 717h0M1830 728h0M1762.5 744.5h0M1843.5 889h0M1806 799h0M1814.5 841.5h0M1830.5 879h0M1814 663.5h0M1824 758h0M1806 848.5h0M1841.5 825.5h0M1769.5 795h0M1783.5 743.5h0M1834.5 732.5h0M1840.5 814.5h0M1840.5 815.5h0M1814.5 794h0M1841.5 647.5h0M1770.5 704h0M1839.5 905h0M1776 722.5h0M1802.5 706.5h0M1779.5 694.5h0M1832 682.5h0M1814 876.5h0M1780.5 760.5h0M1762.5 676.5h0M1799 812h0M1804 804h0M1820.5 818h0M1812 811h0M1783.5 841.5h0M1827 808.5h0M1791.5 742h0M1785.5 656h0M1809 880h0M1812 654h0M1814.5 651.5h0M1836.5 750h0M1778 664h0M1773 705h0M1835.5 737.5h0M1837.5 897h0M1828 827.5h0M1816 674h0M1798 725h0M1803.5 707h0M1777.5 647.5h0M1818.5 725h0M1788 817h0M1824.5 756.5h0M1797.5 685.5h0M1830.5 666h0M1838 733.5h0M1828 749h0M1808.5 723.5h0M1835.5 743.5h0M1830.5 730.5h0M1799 757h0M1827.5 860h0M1776.5 744h0M1820.5 671.5h0M1827.5 736.5h0M1841.5 743h0M1789 675.5h0M1794.5 671h0M1831 752.5h0M1843.5 780h0M1803.5 775.5h0M1839 783.5h0M1797 724.5h0M1805 806h0M1769 744h0M1836 907.5h0M1790.5 815h0M1781 657h0M1811.5 867h0M1827 698h0M1809.5 866.5h0M1776.5 741.5h0M1839.5 676h0M1805.5 759.5h0M1818.5 689h0M1801 741.5h0M1799.5 841h0M1838 677h0M1842.5 905h0M1801 654h0M1784 673.5h0M1776 719.5h0M1810 671h0M1844 771h0M1783.5 651h0M1812.5 862.5h0M1836.5 812h0M1809 650.5h0M1817.5 827.5h0M1803 753.5h0M1829.5 840.5h0M1806.5 645.5h0M1799.5 713.5h0M1768 784.5h0M1774.5 792.5h0M1792.5 652.5h0M1769.5 799h0M1837.5 653h0M1817.5 830.5h0M1808.5 710.5h0M1804.5 657h0M1836.5 647h0M1768.5 734h0M1827.5 758.5h0M1820.5 715h0M1815.5 701h0M1797 726h0M1822 861h0M1819 695.5h0M1797.5 741.5h0M1842 877h0M1763 723.5h0M1778 780h0M1788 706h0M1827.5 709.5h0M1816.5 804.5h0M1841.5 695h0M1793 857.5h0M1787.5 669.5h0M1841.5 850h0M1777.5 662.5h0M1782 717h0M1830 832h0M1780.5 829.5h0M1835 675.5h0M1809.5 689.5h0M1837.5 906h0M1825.5 852h0M1776.5 744.5h0M1832.5 776h0M1837 903h0M1835.5 892h0M1793 681h0M1828 881h0M1798 746.5h0M1831 834.5h0M1831 801.5h0M1834 803.5h0M1838 899h0M1763 751h0M1812.5 714h0M1840.5 647h0M1783 694h0M1788 697.5h0M1825.5 878h0M1836 753h0M1785.5 829.5h0M1844.5 798.5h0M1783 792.5h0M1811.5 775h0M1779.5 651h0M1834.5 646h0M1821 722.5h0M1788 658.5h0M1811 698.5h0M1773.5 789.5h0M1794.5 731.5h0M1783 762h0M1826.5 906h0M1806 733h0M1778.5 689h0M1813 778h0M1766 645h0M1761.5 717.5h0M1834 863.5h0M1799 803.5h0M1827 675.5h0M1800.5 732h0M1844.5 818.5h0M1768 722h0M1817 703h0M1797.5 678.5h0M1796.5 739.5h0M1834.5 855h0M1836.5 826.5h0M1842.5 872h0M1797 841.5h0M1779 665h0M1784.5 745h0M1823 654h0M1821 749h0M1827 687.5h0M1823.5 888.5h0M1783 746h0M1820.5 691h0M1798.5 821.5h0M1788.5 667h0M1828.5 838h0M1780.5 741.5h0M1779.5 787.5h0M1836.5 824.5h0M1829 817.5h0M1796 715h0M1791 654h0M1817 759.5h0M1810.5 688.5h0M1818.5 857.5h0M1783 816h0M1807 688.5h0M1772.5 669h0M1839 905h0M1764.5 764.5h0M1813.5 796h0M1813 825h0M1779.5 648h0M1840.5 905.5h0M1819.5 658.5h0M1801 704h0M1825 714.5h0M1809.5 797.5h0M1812 890h0M1803.5 675.5h0M1843 739h0M1815.5 719h0M1766.5 738h0M1770.5 690.5h0M1814 666.5h0M1830.5 711.5h0M1774.5 707h0M1780.5 825h0M1832.5 774.5h0M1802.5 781.5h0M1799 688h0M1840 859h0M1820.5 856h0M1779 645h0M1820 847.5h0M1811.5 790h0M1809 655h0M1810.5 878h0M1763 714.5h0M1806.5 752h0M1821 687h0M1815 780h0M1830 817h0M1821.5 722.5h0M1841.5 742h0M1815 735h0M1836 842h0M1841.5 744h0M1784 732.5h0M1782.5 722.5h0M1762 727h0M1845.5 880h0M1839 819h0M1801.5 799h0M1830 803h0M1805.5 818.5h0M1816 771.5h0M1817.5 773h0M1843.5 865h0M1789 739.5h0M1844 796h0M1790.5 709.5h0M1762 700.5h0M1766.5 650.5h0M1838 838.5h0M1805.5 732.5h0M1792 776.5h0M1778.5 759.5h0M1844 785.5h0M1806.5 776h0M1818 844h0M1842.5 849.5h0M1823 871.5h0M1797.5 810h0M1833 773.5h0M1789 800.5h0M1838 783.5h0M1768 698.5h0M1768.5 744h0M1776 648.5h0M1765.5 655h0M1833.5 655h0M1834 720h0M1818.5 892h0M1822 849.5h0M1815.5 827.5h0M1815.5 677h0M1777.5 730h0M1810.5 883h0M1803.5 659h0M1806.5 740.5h0M1763.5 724.5h0M1809 740.5h0M1804.5 830h0M1801.5 669.5h0M1809.5 660.5h0M1791.5 848h0M1783 707h0M1777.5 651h0M1812 694h0M1825.5 663.5h0M1815 721.5h0M1815.5 773.5h0M1773 735h0M1815 684.5h0M1810 878.5h0M1797 790.5h0M1797 678h0M1809 667.5h0M1839.5 895.5h0M1842 880.5h0M1782.5 807.5h0M1826.5 762h0M1822.5 816h0M1767 658h0M1840.5 889h0M1824.5 786.5h0M1831 891.5h0M1827.5 828.5h0M1765 713.5h0M1790.5 768.5h0M1832 730h0M1830 715.5h0M1792 697.5h0M1808 728.5h0M1839 680.5h0M1840 704h0M1780 831h0M1821 684.5h0M1813.5 744.5h0M1814.5 759h0M1804 672h0M1788 829.5h0M1797.5 777h0M1783.5 723h0M1830 712.5h0M1799 703.5h0M1837.5 791.5h0M1809.5 842.5h0M1791 655.5h0M1806.5 675h0M1786 729h0M1808 657h0M1781.5 648h0M1836 911.5h0M1823.5 650.5h0M1803 836.5h0M1787.5 804.5h0M1811 717.5h0M1842.5 875.5h0M1825 799h0M1789 673h0M1843.5 855h0M1812 670h0M1789.5 709h0M1828.5 868h0M1816 763h0M1836 754.5h0M1841 885.5h0M1833.5 763h0M1803.5 817.5h0M1821 873.5h0M1815 662h0M1768 711.5h0M1813 884h0M1839.5 805.5h0M1784.5 804.5h0M1782.5 785.5h0M1840.5 658.5h0M1833 807.5h0M1813.5 766h0M1839.5 855h0M1773.5 738.5h0M1783 705h0M1779 826h0M1793.5 712h0M1814 774h0M1834 812.5h0M1808 810.5h0M1795.5 652.5h0M1777.5 736h0M1809.5 872h0M1839 802.5h0M1819 704.5h0M1838 703h0M1835.5 758.5h0M1812.5 883.5h0M1840.5 865h0M1834 833h0M1834 865h0M1784.5 801h0M1765.5 699.5h0M1796.5 700h0M1781.5 756h0M1780.5 685h0M1801.5 773h0M1844 875h0M1811.5 680.5h0M1821.5 711h0M1809.5 685h0M1821 703.5h0M1843.5 852.5h0M1810.5 675h0M1779.5 764.5h0M1823.5 772h0M1839.5 795.5h0M1783.5 700.5h0M1839 871.5h0M1839.5 871h0M1804.5 751.5h0M1824 682h0M1763.5 685.5h0M1839 726h0M1832 835.5h0M1778 736h0M1782.5 676h0M1790.5 833.5h0M1805.5 791.5h0M1802 817h0M1810.5 685h0M1770 734.5h0M1823 860.5h0M1807 877h0M1819.5 864.5h0M1816.5 883.5h0M1789 711.5h0M1816.5 817.5h0M1809.5 711.5h0M1827 821.5h0M1801.5 795h0M1787 750h0M1804.5 809.5h0M1805 768.5h0M1766.5 743h0M1796 691h0M1839.5 868h0M1763 655.5h0M1766 708h0M1776.5 772.5h0M1772 656h0M1767.5 738h0M1779 684h0M1810 762.5h0M1788.5 778.5h0M1803.5 656.5h0M1768 757.5h0M1823 863.5h0M1796.5 649.5h0M1837 653h0M1784.5 804h0M1803.5 716.5h0M1815 690.5h0M1828 654h0M1764 732h0M1831 875h0M1841.5 755.5h0M1841.5 748h0M1806.5 698.5h0M1816.5 716h0M1838.5 732h0M1841.5 794.5h0M1794.5 821h0M1781.5 777h0M1800.5 712h0M1763.5 681h0M1831.5 650h0M1790.5 701h0M1769 782h0M1838.5 762.5h0M1832 650.5h0M1803.5 862h0M1816.5 846h0M1767 689.5h0M1812 784h0M1841.5 900h0M1833.5 857h0M1784.5 801.5h0M1805.5 826.5h0M1785.5 763h0M1834.5 674h0M1835 693h0M1818.5 662h0M1786 800h0M1844.5 816h0M1777 658h0M1832 715.5h0M1801 836.5h0M1822 696.5h0M1790 804h0M1798 652h0M1843.5 743h0M1808 725.5h0M1816.5 890h0M1791 736.5h0M1820 784h0M1843.5 756h0M1832.5 713.5h0M1786.5 804h0M1810.5 712.5h0M1766 661.5h0M1792.5 740.5h0M1799 769.5h0M1790.5 698h0M1781.5 779.5h0M1844.5 900h0M1841 725h0M1789 710h0M1837 839h0M1763 753h0M1768 773h0M1800.5 845.5h0M1826.5 828.5h0M1809.5 820h0M1835.5 701.5h0M1819 732h0M1774 656.5h0M1768 763.5h0M1826 787.5h0M1812 802.5h0M1767 688.5h0M1839 727h0M1819.5 732h0M1779 761h0M1811.5 894h0M1811.5 684.5h0M1769 733.5h0M1768 660h0M1829.5 792h0M1797.5 818h0M1835.5 650.5h0M1842.5 845h0M1815.5 809h0M1834.5 808h0M1836 739h0M1777 811.5h0M1825.5 903.5h0M1836 809h0M1833 839.5h0M1813.5 836h0M1773 735.5h0M1812 705h0M1785.5 658h0M1766 677.5h0M1819.5 796.5h0M1772 792h0M1817 668.5h0M1827.5 695h0M1800 678.5h0M1821 702h0M1808 672.5h0M1822 817h0M1790 667.5h0M1820 725.5h0M1836.5 900.5h0M1767.5 662.5h0M1764.5 648.5h0M1787 848h0M1816.5 836h0M1789.5 732h0M1779 653.5h0M1809.5 685h0M1816 701h0M1778.5 721.5h0M1770.5 763.5h0M1832 669.5h0M1820 655h0M1782.5 721.5h0M1792 853h0M1795 719.5h0M1775 705.5h0M1811 875h0M1840.5 746h0M1766 723h0M1824 742.5h0M1797 699h0M1837.5 821.5h0M1800.5 774.5h0M1766 768.5h0M1838.5 807h0M1820.5 737h0M1800.5 827h0M1803.5 717.5h0M1774.5 731h0M1794 810h0M1779.5 810h0M1819 842.5h0M1832 832h0M1773 745.5h0M1787.5 801.5h0M1837 821h0M1842.5 770h0M1835 808h0M1790.5 752.5h0M1823 675h0M1818.5 784.5h0M1797.5 669.5h0M1818 657.5h0M1804.5 737.5h0M1778 826h0M1803.5 685.5h0M1773 694h0M1784 784h0M1776.5 819h0M1787 652h0M1774 762.5h0M1767.5 669h0M1793 810h0M1782 814.5h0M1820 842.5h0M1848 904.5h0M1790.5 793.5h0M1843 860.5h0M1828 880h0M1805 743h0M1799.5 844h0M1799 671h0M1838 679.5h0M1844 860h0M1774.5 726.5h0M1769 690h0M1799.5 663h0M1823.5 765h0M1796.5 758h0M1792.5 687.5h0M1830.5 666h0M1830 739.5h0M1779 666h0M1838 663.5h0M1835.5 706.5h0M1814 789h0M1820.5 753.5h0M1801 753h0M1814.5 833h0M1819.5 875h0M1826 858h0M1839.5 812h0M1825.5 677h0M1769.5 680h0M1782.5 823.5h0M1822.5 679.5h0M1842.5 847h0M1839 792h0M1811 688.5h0M1796 822.5h0M1842 693.5h0M1843 885.5h0M1829.5 650h0M1837.5 890.5h0M1833.5 697.5h0M1780 754.5h0M1817.5 835h0M1804.5 761.5h0M1787.5 667h0M1799 689.5h0M1771.5 738.5h0M1806 844h0M1799.5 710.5h0M1829.5 737.5h0M1841 665h0M1826 796.5h0M1834.5 716.5h0M1825.5 892h0M1795 863.5h0M1780 815.5h0M1812 698.5h0M1842 822h0M1841.5 842h0M1820 781h0M1816.5 695h0M1809 768h0M1840.5 730.5h0M1795.5 712h0M1840 757.5h0M1843 661.5h0M1835 824h0M1790 797h0M1786.5 818h0M1832 804.5h0M1841 869h0M1821 764.5h0M1789.5 659.5h0M1766.5 770h0M1772.5 781h0M1802 660.5h0M1766.5 713.5h0M1794.5 810.5h0M1771.5 709.5h0M1817 649.5h0M1794.5 727.5h0M1839 734.5h0M1783 686h0M1778.5 785h0M1772.5 689.5h0M1795 665h0M1771.5 663h0M1797 811h0M1792 797h0M1807 847h0M1768.5 712h0M1827 689.5h0M1830 871.5h0M1823 773.5h0M1807 762h0M1771 762h0M1784.5 808h0M1795.5 695.5h0M1782.5 646h0M1819.5 657.5h0M1833 666.5h0M1783 773.5h0M1807.5 829h0M1797.5 826.5h0M1824.5 676.5h0M1829 867.5h0M1826.5 664.5h0M1782 722.5h0M1831.5 874h0M1828 888h0M1825.5 842.5h0M1778 645.5h0M1824.5 803h0M1832.5 699.5h0M1788 827h0M1810.5 873.5h0M1797.5 843.5h0M1765 745h0M1804.5 707.5h0M1843 835h0M1824.5 667.5h0M1770 671h0M1820 678.5h0M1789 696.5h0M1768 717h0M1790.5 718h0M1832.5 753h0M1830 865.5h0M1790.5 838.5h0M1805.5 763.5h0M1836 877.5h0M1834 888h0M1779 735h0M1841.5 792h0M1797 763h0M1810.5 775.5h0M1781 673h0M1768 657.5h0M1767 765.5h0M1815 785h0M1815.5 682h0M1841.5 873.5h0M1838.5 807.5h0M1798.5 830h0M1836 661.5h0M1766 674h0M1814.5 804h0M1796.5 712h0M1768.5 680h0M1833.5 766h0M1789 847h0M1769.5 721h0M1807.5 742h0M1802.5 810h0M1785 772h0M1831.5 726.5h0M1818 882.5h0M1839 653.5h0M1788 751h0M1821.5 813h0M1823.5 846.5h0M1811.5 725h0M1826 782h0M1787 745h0M1795.5 752h0M1825.5 852h0M1843.5 779h0M1805.5 754.5h0M1830 662.5h0M1841 722h0M1833.5 806h0M1802.5 723h0M1784 765h0M1830 736h0M1811 774.5h0M1821 896.5h0M1778.5 689h0M1808 654.5h0M1804.5 796h0M1776.5 703h0M1837.5 653.5h0M1819.5 790h0M1808 680h0M1788.5 759h0M1768.5 784.5h0M1832.5 748h0M1825 885h0M1793.5 677h0M1785 810.5h0M1835 699h0M1838 802h0M1839 894h0M1832 704h0M1801.5 783h0M1787.5 683h0M1784 676h0M1787 672h0M1798 712.5h0M1816.5 717.5h0M1776.5 662h0M1777 772h0M1762.5 666h0M1826 758.5h0M1816.5 688.5h0M1812.5 708h0M1788.5 845.5h0M1814 687h0M1817 758h0M1767 687.5h0M1763 677h0M1843.5 876.5h0M1790 687h0M1829.5 669.5h0M1792 840h0M1817 855h0M1834 823.5h0M1792.5 806h0M1816 752.5h0M1836 690h0M1777 814h0M1819 851.5h0M1816 788.5h0M1774 779h0M1810 837h0M1831 888h0M1778.5 701.5h0M1831 717h0M1777.5 658.5h0M1805.5 785h0M1772.5 726.5h0M1776 741.5h0M1840.5 890.5h0M1772 726.5h0M1814.5 843.5h0M1802 687.5h0M1790 847.5h0M1822.5 865.5h0M1808 744h0M1833.5 728.5h0M1840 809.5h0M1786.5 680.5h0M1803 728h0M1780.5 664h0M1788.5 655h0M1834 759h0M1838 772.5h0M1806.5 689h0M1823 763h0M1806.5 805h0M1823 681h0M1834.5 786h0M1820.5 679h0M1796 724h0M1776.5 658h0M1790.5 843h0M1823 670h0M1833 828h0M1821 887h0M1814.5 690h0M1811.5 754h0M1791 850.5h0M1762 739.5h0M1766 759.5h0M1781.5 824h0M1798.5 838.5h0M1777 675h0M1780 801.5h0M1835.5 877h0M1774 758.5h0M1791.5 670h0M1803 802h0M1773.5 671.5h0M1765 733.5h0M1839.5 689h0M1803.5 785.5h0M1792 735.5h0M1826.5 815h0M1815.5 785h0M1797.5 710h0M1813.5 747.5h0M1817.5 847h0M1815 793.5h0M1767.5 764h0M1798.5 725.5h0M1793.5 752h0M1813.5 833.5h0M1824 822.5h0M1827.5 703.5h0M1841.5 873.5h0M1776.5 667h0M1798.5 770h0M1787 827h0M1799.5 778.5h0M1808 788.5h0M1789 840h0M1803 731h0M1804.5 840h0M1820.5 768h0M1803.5 737h0M1846 894.5h0M1835 760.5h0M1816.5 863.5h0M1782 816h0M1824 737.5h0M1814 814h0M1809 777.5h0M1834.5 793.5h0M1778 672h0M1836 902h0M1816.5 652.5h0M1791.5 788.5h0M1781.5 661h0M1819.5 888h0M1775.5 756h0M1783.5 656.5h0M1769.5 755h0M1777 740h0M1778 823h0M1773.5 787h0M1831 760.5h0M1791.5 689.5h0M1836.5 889.5h0M1819 670.5h0M1843 784h0M1797.5 671h0M1830.5 723.5h0M1771.5 733.5h0M1790.5 665.5h0M1841.5 905.5h0M1793.5 747h0M1762.5 711.5h0M1815.5 781.5h0M1831.5 837.5h0M1816.5 777h0M1822 736h0M1766 723h0M1828.5 683h0M1807 861h0M1836.5 780h0M1788 848h0M1769.5 792h0M1786 646.5h0M1774 777h0M1843 685h0M1767 655h0M1837.5 690h0M1811.5 722.5h0M1825.5 870h0M1815 813.5h0M1822.5 807.5h0M1834.5 805h0M1788 791.5h0M1782.5 838.5h0M1812.5 790h0M1805.5 675h0M1842.5 672h0M1793.5 739h0M1812 853h0M1783.5 736.5h0M1812.5 856.5h0M1804 765h0M1805 702h0M1830.5 782.5h0M1794.5 754h0M1775 680.5h0M1834 659.5h0M1782.5 734h0M1829.5 869.5h0M1837 833h0M1834 796.5h0M1835.5 763.5h0M1794 754h0M1839.5 748.5h0M1828.5 853h0M1830 738h0M1815 850h0M1800 758.5h0M1808 839.5h0M1786 755.5h0M1802 817h0M1840.5 862.5h0M1817 692h0M1832 749h0M1818 720.5h0M1828.5 763.5h0M1840 897.5h0M1823 772h0M1832.5 909h0M1792.5 752.5h0M1844 815h0M1774 794.5h0M1772.5 755h0M1774.5 760h0M1823 710h0M1794.5 688h0M1839.5 849h0M1774.5 807.5h0M1811.5 809h0M1787 773h0M1786 647.5h0M1780.5 787.5h0M1840 801h0M1799.5 870h0M1832.5 739h0M1825 887.5h0M1816.5 897.5h0M1808.5 832h0M1805 838h0M1775 699h0M1787.5 756.5h0M1814.5 854.5h0M1820.5 760h0M1819 868.5h0M1779.5 717h0M1829.5 733h0M1774 784h0M1841.5 661h0M1840 806.5h0M1797.5 813h0M1805.5 810h0M1841.5 895.5h0M1840 732h0M1838 716.5h0M1807.5 676h0M1836 661.5h0M1828 749.5h0M1825 690h0M1824 903.5h0M1784.5 684h0M1807 774h0M1819 718h0M1818 898h0M1796 737h0M1839.5 866h0M1785.5 833.5h0M1771.5 771h0M1826.5 783h0M1807.5 768h0M1819.5 658.5h0M1801.5 773.5h0M1834.5 770.5h0M1808 863.5h0M1789.5 834.5h0M1832.5 772.5h0M1821 715.5h0M1769 745h0M1829 904h0M1790.5 725h0M1847.5 905h0M1819.5 691h0M1828.5 800h0M1773 683.5h0M1837.5 743h0M1811 846.5h0M1823.5 763.5h0M1786 704.5h0M1792.5 834.5h0M1840 657.5h0M1795.5 712h0M1814.5 895h0M1812 816.5h0M1811 723h0M1826 807h0M1825 891h0M1817 659h0M1837.5 846h0M1835.5 758h0M1816 787h0M1845 820.5h0M1800 663h0M1776 718.5h0M1823 673h0M1777.5 748h0M1826.5 738.5h0M1776.5 772.5h0M1782.5 659.5h0M1838 756h0M1839 841.5h0M1799 819.5h0M1833 862.5h0M1832.5 763.5h0M1816.5 855h0M1817 803.5h0M1779.5 773h0M1805.5 853h0M1818.5 704h0M1786.5 759h0M1763 658h0M1773.5 761h0M1839 672.5h0M1767 754h0M1807.5 656.5h0M1809 775h0M1778 702.5h0M1802.5 855h0M1820 846.5h0M1821 659.5h0M1832 655.5h0M1775.5 783h0M1833 831.5h0M1789.5 724.5h0M1829.5 886.5h0M1811 806h0M1821.5 708.5h0M1840.5 872.5h0M1834.5 888.5h0M1783 689h0M1821.5 821.5h0M1846 896h0M1827.5 853h0M1841.5 854.5h0M1802.5 743h0M1826 906h0M1838 663.5h0M1797.5 695.5h0M1806.5 662h0M1793.5 825.5h0M1794.5 738h0M1832.5 909h0M1834 737.5h0M1812 650h0M1788 768.5h0M1799 862.5h0M1823 842.5h0M1809.5 821h0M1765.5 738.5h0M1767 707.5h0M1773 723h0M1844 840.5h0M1820 863h0M1774 701.5h0M1827 852h0M1818 743h0M1772.5 803h0M1816.5 652.5h0M1844.5 811.5h0M1771 769h0M1836 711.5h0M1821.5 659h0M1767.5 744.5h0M1802.5 694h0M1841.5 840.5h0M1775.5 710.5h0M1765.5 750h0M1838 853.5h0M1803.5 793h0M1818.5 707.5h0M1817.5 703h0M1777.5 691h0M1845.5 832.5h0M1791 851h0M1811 773h0M1787 768.5h0M1794.5 702.5h0M1819 634h0M1826.5 628.5h0M1827.5 607h0M1771.5 601.5h0M1837 648h0M1794 607h0M1791 630.5h0M1802.5 630h0M1759.5 633h0M1830 614h0M1770.5 646.5h0M1773 616.5h0M1776.5 644.5h0M1844.5 632h0M1820 621.5h0M1808 610h0M1839 643.5h0M1801.5 629.5h0M1800.5 644h0M1782 602.5h0M1773.5 647h0M1818 602h0M1766.5 609h0M1819 640.5h0M1822.5 643.5h0M1814 627.5h0M1813 644h0M1800.5 616.5h0M1795 619h0M1832 647.5h0M1843 614h0M1793 642h0M1788 626h0M1788.5 603h0M1776.5 645.5h0M1838 600.5h0M1806 648.5h0M1796 612.5h0M1795 614.5h0M1848 605h0M1797 635h0M1817.5 635h0M1799 609h0M1769.5 606h0M1761 609h0M1823.5 616h0M1810 611.5h0M1759 619h0M1786 634h0M1819 627.5h0M1759.5 639.5h0M1820 614.5h0M1785.5 648h0M1798 606h0M1807.5 603h0M1836.5 628h0M1813 642.5h0M1790 621.5h0M1786.5 615.5h0M1842 628h0M1767.5 614.5h0M1773.5 638h0M1773.5 642h0M1811 617h0M1835 641h0M1778.5 626h0M1845.5 600.5h0M1760 627.5h0M1830.5 626.5h0M1827 622.5h0M1762.5 614h0M1787.5 608.5h0M1761.5 634h0M1774 618h0M1832 605h0M1839.5 646h0M1769 623.5h0M1809 642.5h0M1785 602h0M1804 609h0M1800.5 637h0M1836.5 617h0M1785.5 642h0M1826.5 635.5h0M1792.5 623h0M1820 604.5h0M1794.5 630.5h0M1840.5 617h0M1790.5 605.5h0M1804 632h0M1814.5 616h0M1771.5 647.5h0M1815 632h0M1783 614h0M1764.5 628.5h0M1771 627h0M1797 609h0M1819 645h0M1814 634.5h0M1841 613.5h0M1839 614.5h0M1805 634h0M1823 645h0M1770.5 626h0M1817.5 618h0M1817 644.5h0M1842 618.5h0M1840 634.5h0M1790 604h0M1811.5 615.5h0M1843.5 649.5h0M1796.5 629.5h0M1788 610.5h0M1805.5 648h0M1839 636h0M1818 613h0M1777.5 639.5h0M1808 631.5h0M1831.5 612.5h0M1784.5 628h0M1788 626.5h0M1797.5 640h0M1832.5 615.5h0M1808.5 640h0M1821 646h0M1845.5 636h0M1830 611h0M1795 624.5h0M1770 626.5h0M1792.5 604h0M1839 627.5h0M1814 610.5h0M1799.5 614.5h0M1829.5 603.5h0M1805.5 642h0M1821.5 608h0M1794.5 614.5h0M1808 620h0M1760.5 622h0M1808.5 631.5h0M1776.5 607h0M1783 604.5h0M1793.5 633h0M1787 631.5h0M1807 614h0M1819 640h0M1786.5 623.5h0M1833.5 632.5h0M1802 604h0M1831.5 628h0M1784 626h0M1809.5 608h0M1785 613h0M1847 621h0M1787.5 641h0M1773 607.5h0M1804 602h0M1832.5 642.5h0M1816 649.5h0M1811.5 615.5h0M1767 620h0M1792.5 623h0M1787 631h0M1804 611.5h0M1798 620h0M1783 627.5h0M1762.5 611.5h0M1796.5 634h0M1768 637.5h0M1819 648.5h0M1802.5 611.5h0M1835 611.5h0M1781.5 615h0M1826.5 600h0M1785 635.5h0M1836 614.5h0M1818.5 622h0M1799.5 617.5h0M1835.5 613h0M1814 637h0M1839.5 626h0M1784.5 638.5h0M1759 602.5h0M1765 614.5h0M1836.5 612h0M1843.5 636h0M1822 649h0M1803.5 647h0M1766.5 613.5h0M1832 632.5h0M1825.5 609h0M1806 616h0M1763.5 638.5h0M1786 605.5h0M1809 623.5h0M1771 633.5h0M1829 646.5h0M1814.5 632.5h0M1805.5 611.5h0M1826 641.5h0M1778.5 628h0M1783.5 648h0M1794.5 647.5h0M1840 632.5h0M1760.5 600.5h0M1799.5 625.5h0M1830 632.5h0M1797 605h0M1838 606.5h0M1768 614.5h0M1778.5 649.5h0M1769.5 637.5h0M1811.5 637.5h0M1775.5 649h0M1779.5 648h0M1846.5 600.5h0M1814 627.5h0M1806.5 617.5h0M1792.5 607.5h0M1772 639.5h0M1766.5 635.5h0M1793.5 640h0M1789.5 650h0M1817.5 621h0M1764.5 616.5h0M1766 641.5h0M1838.5 648h0M1845 603.5h0M1802.5 603.5h0M1824 600.5h0M1771 624h0M1768.5 601.5h0M1833 638h0M1760.5 624.5h0M1823.5 634.5h0M1829 642.5h0M1816.5 625.5h0M1780 601.5h0M1779.5 617.5h0M1760.5 647h0M1799.5 607.5h0M1773.5 616h0M1782.5 605h0M1815.5 613.5h0M1821.5 607h0M1843.5 635.5h0M1795 623.5h0M1815.5 648h0M1831 626h0M1784.5 634h0M1781.5 632.5h0M1732.5 697.5h0M1755 598h0M1716 478.5h0M1743 412.5h0M1882 450.5h0M1844 807.5h0M1846 923h0M1824.5 730h0M1728 581h0M1761.5 626h0M1754 660.5h0M1705 428h0M1841 541h0M1822 852h0M1921.5 495h0M1849.5 928h0M1845 653.5h0M1797 632h0M1814 509h0M1749 497h0M1784 521h0M1897 558h0M1845.5 615h0M1849.5 944h0M1803 533h0M1720 453.5h0M1854.5 827.5h0M1849.5 594.5h0M1819 882.5h0M1893 462h0M1828 472h0M1765 805.5h0M1877 553h0M1798.5 505h0M1756.5 456.5h0M1896.5 559.5h0M1754 782.5h0M1790.5 530.5h0M1778.5 497.5h0M1746.5 497.5h0M1751 605h0M1776.5 692h0M1822 766.5h0M1885 573.5h0M1860 595h0M1870.5 660.5h0M1852 536.5h0M1756 407.5h0M1763 769.5h0M1746.5 631h0M1722.5 473h0M1789.5 669h0M1870 511h0M1752 512.5h0M1766 704.5h0M1849 594.5h0M1768.5 574.5h0M1850 802h0M1784.5 852h0M1903.5 502h0M1858 915h0M1734.5 532.5h0M1792 833.5h0M1831 628h0M1846.5 586h0M1819.5 790.5h0M1794 442h0M1766 465.5h0M1907 515h0M1856.5 867h0M1738 765h0M1745.5 699.5h0M1851.5 742.5h0M1866 607.5h0M1730 460h0M1874.5 583h0M1841.5 803.5h0M1792 876h0M1867.5 810h0M1729.5 694h0M1789 700h0M1836 805h0M1704 528h0M1782.5 447.5h0M1880 630.5h0M1848 572h0M1819 936.5h0M1698 488h0M1711 529.5h0M1803.5 647.5h0M1725 560h0M1858 541.5h0M1786.5 540h0M1908 521h0M1767.5 612.5h0M1771.5 454.5h0M1731.5 693h0M1888 597.5h0M1759.5 642.5h0M1794 819h0M1780.5 626h0M1714 574h0M1766.5 546h0M1803 777h0M1861 592h0M1803 669h0M1874 527h0M1805.5 522h0M1856 799.5h0M1776.5 614h0M1723.5 534h0M1769.5 849h0M1854.5 783.5h0M1711 622h0M1746 524.5h0M1787.5 571.5h0M1714 436h0M1826 695h0M1739 564.5h0M1722.5 602h0M1812.5 461.5h0M1838.5 853h0M1803 454h0M1803 730h0M1827.5 585h0M1812 538.5h0M1754 473h0M1743.5 620.5h0M1756.5 665.5h0M1816 928h0M1852 741h0M1774 573h0M1726.5 439.5h0M1771 752h0M1798 553.5h0M1706 564h0M1814.5 725h0M1742 612h0M1822.5 804h0M1735 579.5h0M1754 654h0M1829 708h0M1861 871.5h0M1798.5 563h0M1730.5 558.5h0M1816.5 653h0M1809.5 664h0M1742.5 588.5h0M1863.5 540h0M1900.5 413.5h0M1874 404.5h0M1825 399.5h0M1780 363.5h0M1858 429h0M1864.5 465.5h0M1792.5 419h0M1869 405h0M1870.5 402h0M1843 454.5h0M1770.5 397h0M1815.5 413.5h0M1779 427.5h0M1876 399.5h0M1782.5 436.5h0M1896 414.5h0M1757.5 385h0M1856 415h0M1799 402.5h0M1837 417.5h0M1785.5 393.5h0M1779 400h0M1845.5 402.5h0M1820 345.5h0M1816 388.5h0M1819.5 390.5h0M1808 374.5h0M1871.5 456h0M1820 391.5h0M1789 396.5h0M1775 429h0M1830.5 452h0M1887 397.5h0M1857 412h0M1874.5 413.5h0M1865 392.5h0M1885 439.5h0M1841 394.5h0M1806 355h0M1881 418h0M1878.5 449h0M1851 397.5h0M1813.5 374h0M1876 429.5h0M1861 464.5h0M1885.5 465.5h0M1883.5 430h0M1815 398.5h0M1791 392.5h0M1793.5 370h0M1924 439.5h0M1844.5 448.5h0M1786.5 382h0M1814 347.5h0M1762 415.5h0M1858 450.5h0M1799 360.5h0M1871.5 408.5h0M1840.5 428h0M1823.5 400.5h0M1806 365h0M1760.5 393.5h0M1809.5 422.5h0M1912.5 446h0M1782.5 348h0M1850.5 432.5h0M1815.5 400.5h0M1807 412h0M1847 365.5h0M1794.5 348.5h0M1872 425h0M1841.5 425h0M1808 430h0M1907.5 456.5h0M1894.5 420h0M1802.5 337.5h0M1849.5 457h0M1745.5 384.5h0M1895.5 436.5h0M1856 429h0M1907.5 451h0M1759 420h0M1799 368.5h0M1809.5 347.5h0M1845 406h0M1826.5 420h0M1851 453h0M1850.5 447h0M1867.5 466h0M1800 331.5h0M1753 403h0M1765 402h0M1850.5 374h0M1834 413h0M1774 409h0M1796.5 428h0M1911 442h0M1759 378.5h0M1814 349.5h0M1903.5 455h0M1753.5 438h0M1749 373.5h0M1854 417.5h0M1806.5 442.5h0M1749 400h0M1838.5 420.5h0M1817 348.5h0M1789 384h0M1793.5 427h0M1912.5 440.5h0M1783.5 367h0M1906.5 433.5h0M1866.5 438.5h0M1759.5 386.5h0M1824.5 431.5h0M1859 459.5h0M1835 405h0M1879.5 439h0M1899 447h0M1826 401.5h0M1788.5 360h0M1900.5 432h0M1821.5 392.5h0M1846.5 404.5h0M1867 428.5h0M1758 438.5h0M1859.5 396.5h0M1863.5 418.5h0M1823 427h0M1752.5 396h0M1911.5 453.5h0M1802.5 349h0M1889.5 428h0M1836 398.5h0M1871.5 448h0M1879.5 469h0M1751.5 424h0M1847 392h0M1782 350.5h0M1792 403h0M1868.5 445.5h0M1857 440h0M1805 397.5h0M1874.5 420.5h0M1820 387.5h0M1852 373h0M1753 426h0M1781.5 380.5h0M1844.5 430h0M1788.5 395.5h0M1829.5 438.5h0M1783 431.5h0M1816.5 348.5h0M1770 402h0M1762.5 408h0M1866 382h0M1833 390.5h0M1869 436.5h0M1773.5 429h0M1837 448.5h0M1811 601h0M1785.5 534.5h0M1772.5 578h0M1812.5 607.5h0M1833 588.5h0M1768.5 633.5h0M1794.5 465.5h0M1785 637h0M1781 496h0M1790.5 477h0M1847 535.5h0M1762.5 582.5h0M1779.5 467.5h0M1814.5 557h0M1814 627.5h0M1856 550.5h0M1842.5 536.5h0M1792.5 499h0M1830.5 494.5h0M1838 518h0M1838 610h0M1829 494.5h0M1846.5 565.5h0M1829.5 515h0M1828 609.5h0M1845.5 460h0M1799.5 478h0M1817.5 452.5h0M1823 574.5h0M1806 639h0M1772 617h0M1829 460.5h0M1786.5 637h0M1774 586.5h0M1823.5 520h0M1790.5 485h0M1857 485h0M1824 639.5h0M1823 476.5h0M1846 603h0M1817.5 456h0M1784 490.5h0M1770.5 639h0M1858.5 528h0M1797 506h0M1807.5 629h0M1851 596.5h0M1769.5 538h0M1810.5 460h0M1853 553.5h0M1794.5 495h0M1798 571h0M1818 469.5h0M1811.5 637.5h0M1859 567h0M1764.5 594h0M1797 547.5h0M1849.5 495.5h0M1806.5 521.5h0M1841 474.5h0M1781.5 539h0M1838 624.5h0M1768.5 584h0M1804 552.5h0M1801 603h0M1811 505h0M1776 520.5h0M1768 581.5h0M1808.5 585.5h0M1791 538h0M1851 625.5h0M1825 596.5h0M1815 626.5h0M1850.5 521.5h0M1795 475.5h0M1815 444h0M1780 570h0M1790 488.5h0M1799 497h0M1792.5 491h0M1818 592h0M1820.5 621h0M1767 621.5h0M1825.5 515h0M1799.5 501h0M1838 531h0M1853 571h0M1799.5 537h0M1787 525h0M1798 489.5h0M1830 500h0M1845 634h0M1846.5 489.5h0M1815.5 579h0M1766 563h0M1789 455h0M1813 612h0M1799 509h0M1774.5 599h0M1794.5 582h0M1852.5 490h0M1807.5 524.5h0M1837 517h0M1819 463h0M1807 507.5h0M1762 618h0M1822 448h0M1840.5 529h0M1833 508.5h0M1828.5 547h0M1835 581h0M1807.5 626h0M1781.5 490.5h0M1836 626.5h0M1849 461.5h0M1845 457h0M1774.5 600h0M1849 506.5h0M1776.5 506h0M1829 453.5h0M1826.5 532.5h0M1763.5 549.5h0M1822 595h0M1785.5 636h0M1782 491h0M1830 484.5h0M1794.5 493h0M1799 602h0M1824.5 600h0M1809.5 506.5h0M1788.5 444h0M1814 504h0M1848 531.5h0M1799 558h0M1830.5 632h0M1804.5 536h0M1794.5 587.5h0M1811.5 562.5h0M1852.5 539h0M1791 596.5h0M1766 535.5h0M1795.5 480.5h0M1833 550h0M1813.5 618h0M1780.5 497.5h0M1784 628h0M1800 521.5h0M1824.5 458.5h0M1852.5 511h0M1807.5 480.5h0M1826 559h0M1822 628h0M1853 637h0M1809.5 588h0M1833.5 483h0M1805.5 569h0M1796 615.5h0M1784.5 503.5h0M1830 504h0M1857.5 538h0M1854 533.5h0M1844.5 508h0M1807.5 525.5h0M1802.5 629.5h0M1777 473.5h0M1781.5 581.5h0M1816 491.5h0M1771.5 590.5h0M1792.5 563.5h0M1847 507.5h0M1836.5 451h0M1828.5 556h0M1804.5 501h0M1811 605h0M1783.5 633h0M1796.5 566.5h0M1830 501.5h0M1825 475.5h0M1823.5 502h0M1840 617.5h0M1852 621h0M1802.5 551.5h0M1805.5 605h0M1784 496.5h0M1776.5 605.5h0M1764.5 569.5h0M1774.5 521.5h0M1811.5 565h0M1859.5 545.5h0M1786.5 479.5h0M1830 454h0M1803 586h0M1849 505.5h0M1825 501.5h0M1792.5 597.5h0M1802.5 553h0M1827 604h0M1823 512.5h0M1788.5 488.5h0M1855.5 557h0M1792.5 481h0M1817 553.5h0M1811.5 507.5h0M1801.5 455h0M1820 612h0M1823 453h0M1776 590h0M1779.5 479h0M1806 443h0M1857 588.5h0M1847.5 526.5h0M1798.5 460.5h0M1788 530.5h0M1849.5 521h0M1855 598.5h0M1845 602h0M1766 621h0M1811.5 632h0M1833.5 572h0M1821 615h0M1857.5 534.5h0M1804 478.5h0M1809 440.5h0M1846.5 513h0M1828 522h0M1785.5 462h0M1809.5 555.5h0M1824 551.5h0M1772.5 509.5h0M1802.5 447.5h0M1832 582.5h0M1843 620.5h0M1798.5 632.5h0M1814 554h0M1791.5 600h0M1801 464.5h0M1820 539h0M1796.5 471h0M1842 473h0M1778 620.5h0M1771 628h0M1777 511h0M1777.5 635h0M1821.5 473.5h0M1858.5 534.5h0M1791.5 533h0M1778 534h0M1783.5 603h0M1773.5 493.5h0M1849.5 493h0M1847 640h0M1831.5 546.5h0M1834.5 530h0M1801 569h0M1762.5 574h0M1766.5 530.5h0M1819.5 517.5h0M1821 617h0M1826.5 622h0M1838 619h0M1784.5 447.5h0M1792 612.5h0M1791 557.5h0M1828.5 494h0M1843 500h0M1836.5 464.5h0M1766.5 593.5h0M1788.5 444.5h0M1833 526.5h0M1778.5 580h0M1778 528.5h0M1780 620h0M1777.5 539.5h0M1763 552.5h0M1766.5 570.5h0M1783.5 628.5h0M1835 505h0M1846.5 598h0M1816.5 533h0M1857 580h0M1802.5 614h0M1845 530.5h0M1799 611.5h0M1808.5 582.5h0M1836 492.5h0M1798.5 567.5h0M1806 437.5h0M1844.5 454h0M1768 601.5h0M1821 580h0M1844 623.5h0M1807 539.5h0M1770 569h0M1799 499h0M1816.5 621h0M1790 496.5h0M1824.5 605.5h0M1824 556h0M1834.5 501.5h0M1816 571.5h0M1850.5 624.5h0M1848 599.5h0M1842.5 476.5h0M1827.5 492h0M1804 436h0M1768 613h0M1790 528.5h0M1821.5 505h0M1833.5 526h0M1760 577h0M1777.5 581h0M1803 476h0M1807 520.5h0M1859 549.5h0M1811 570h0M1824.5 468h0M1816.5 569.5h0M1805.5 466h0M1810.5 445.5h0M1773.5 568.5h0M1789 636h0M1833 527.5h0M1853.5 617.5h0M1766 626.5h0M1837 456.5h0M1799.5 541.5h0M1857 511h0M1849 557h0M1825 477h0M1854 617h0M1831 633h0M1762 565h0M1845 564h0M1760 592h0M1855.5 504.5h0M1820.5 465h0M1818.5 633h0M1790 504.5h0M1854.5 554.5h0M1810.5 548h0M1806.5 487.5h0M1835 562.5h0M1810 521h0M1783.5 574.5h0M1773.5 558h0M1842.5 465.5h0M1816 630h0M1825.5 583h0M1818 484h0M1828 489h0M1844.5 553h0M1797 602h0M1831.5 638.5h0M1852.5 629h0M1807 468h0M1807.5 453.5h0M1830 601h0M1828.5 540.5h0M1837.5 600h0M1854 532.5h0M1780 497h0M1770.5 619.5h0M1767.5 565.5h0M1822.5 601.5h0M1829.5 569h0M1777 529.5h0M1858.5 485h0M1830.5 631.5h0M1858.5 504h0M1791.5 578h0M1832.5 530h0M1838.5 525h0M1783.5 566.5h0M1782 567.5h0M1772.5 569h0M1809.5 458.5h0M1821.5 559h0M1760 579.5h0M1778.5 631h0M1851 474.5h0M1813.5 469.5h0M1805.5 510h0M1851 597h0M1795.5 539h0M1796.5 521h0M1788 465h0M1837.5 519h0M1849.5 516.5h0M1844.5 454h0M1831.5 468.5h0M1856 615.5h0M1854 562.5h0M1805.5 605.5h0M1781.5 548.5h0M1815 459.5h0M1801.5 635h0M1793.5 526.5h0M1825.5 526h0M1831.5 514.5h0M1847 490h0M1792.5 588h0M1852 618h0M1808.5 635h0M1770 580.5h0M1815 604h0M1799.5 626.5h0M1788.5 565h0M1825 479.5h0M1857 569.5h0M1860.5 499.5h0M1804.5 581h0M1848 590h0M1800.5 555.5h0M1842 522.5h0M1803 522h0M1795.5 542h0M1837 469.5h0M1833.5 515.5h0M1786 463.5h0M1847.5 463.5h0M1773.5 615h0M1793 456.5h0M1783 540.5h0M1808.5 591.5h0M1856.5 524.5h0M1826.5 537.5h0M1764 632h0M1799 584.5h0M1851.5 559h0M1778 527h0M1802 613h0M1808 531h0M1819 613.5h0M1800 452h0M1771.5 558.5h0M1798 620h0M1800.5 567h0M1770.5 518h0M1804.5 486h0M1836 621.5h0M1790.5 482.5h0M1855 573h0M1781 613.5h0M1811.5 610.5h0M1809.5 559.5h0M1781 626.5h0M1835.5 491.5h0M1842 503h0M1774 532h0M1821 586h0M1846 590h0M1831 552.5h0M1779 609h0M1763 584h0M1818.5 629h0M1839.5 618h0M1814 477h0M1774.5 599h0M1835 505.5h0M1813 435.5h0M1799.5 484.5h0M1798.5 551h0M1824.5 632.5h0M1826 610h0M1846 639h0M1841.5 589h0M1790.5 634.5h0M1781.5 611.5h0M1852.5 547h0M1843 619h0M1818.5 498h0M1833 495.5h0M1840.5 505h0M1806 539h0M1821 634h0M1816.5 529.5h0M1794.5 638.5h0M1813 468.5h0M1841.5 547h0M1805 615h0M1857.5 480h0M1773.5 570.5h0M1808 569h0M1805 592h0M1828 554h0M1832 607h0M1811 442.5h0M1799.5 469h0M1781 445h0M1820.5 533h0M1827 535h0M1797 601h0M1854 601h0M1854.5 605.5h0M1778.5 468.5h0M1844.5 562.5h0M1803.5 493.5h0M1813 482h0M1812 625h0M1811.5 438h0M1814.5 585.5h0M1821.5 618.5h0M1834.5 637h0M1793 497.5h0M1783.5 457.5h0M1815.5 603.5h0M1795.5 504.5h0M1839 463h0M1774.5 507h0M1789 496.5h0M1848 471h0M1823.5 630.5h0M1763 631h0M1844 507.5h0M1809 485h0M1785 565h0M1815.5 566.5h0M1824 450.5h0M1785.5 529.5h0M1787.5 452h0M1794 461h0M1838.5 582h0M1790 530h0M1828.5 456h0M1847.5 618h0M1834.5 606.5h0M1840.5 507.5h0M1795.5 633.5h0M1857.5 565h0M1796 566.5h0M1805 473h0M1800.5 462h0M1813 637.5h0M1853.5 526h0M1845.5 466.5h0M1791 505.5h0M1827.5 634.5h0M1813.5 637h0M1821 602h0M1849.5 575.5h0M1839 525h0M1850 463h0M1847 579.5h0M1796.5 601h0M1807.5 601h0M1807 460.5h0M1760 570h0M1843 533h0M1789.5 607h0M1796 577.5h0M1803 477h0M1795.5 453.5h0M1762.5 634h0M1783 633.5h0M1804 619h0M1762.5 624h0M1843.5 509.5h0M1817.5 509.5h0M1777.5 583h0M1768 632h0M1803 500.5h0M1824.5 518.5h0M1829.5 629h0M1773 600.5h0M1763.5 551h0M1785 592.5h0M1839.5 470h0M1793.5 464.5h0M1848 546.5h0M1795 586.5h0M1787 624h0M1793.5 524.5h0M1786.5 480.5h0M1795.5 638.5h0M1822.5 460.5h0M1805 599.5h0M1847 478.5h0M1792.5 459.5h0M1855 633h0M1774 538.5h0M1786 589h0M1820.5 616.5h0M1826 620h0M1798 548.5h0M1804.5 446h0M1797 476h0M1839.5 533.5h0M1760.5 585.5h0M1835 581h0M1766 592.5h0M1851 629.5h0M1853.5 478h0M1792 617h0M1851 526.5h0M1829.5 569h0M1826 502h0M1838.5 470.5h0M1779.5 519h0M1784 613h0M1848.5 460h0M1778.5 565h0M1823 546h0M1854 568h0M1858 489h0M1804 535.5h0M1779 559.5h0M1779 598.5h0M1809.5 605.5h0M1790.5 521.5h0M1778.5 456.5h0M1779 587h0M1853.5 563h0M1796 489.5h0M1782 471.5h0M1860 500.5h0M1761.5 606.5h0M1860.5 520.5h0M1840 476.5h0M1823.5 598h0M1833 476h0M1790 507h0M1839.5 535h0M1798 467.5h0M1853.5 502.5h0M1786 632.5h0M1814.5 571.5h0M1810 514.5h0M1792 461h0M1781 484.5h0M1790.5 446h0M1822 544.5h0M1806 532.5h0M1838.5 568h0M1781 480h0M1787.5 631.5h0M1789.5 546.5h0M1807.5 502.5h0M1799 635h0M1832.5 626h0M1798 510.5h0M1811 548h0M1833 484h0M1782.5 525.5h0M1837 619h0M1786.5 534.5h0M1768 585.5h0M1835 585h0M1829.5 588.5h0M1855 564.5h0M1770 569h0M1852 517.5h0M1807.5 533h0M1766 608h0M1835.5 618.5h0M1790.5 566.5h0M1843 514.5h0M1790.5 615.5h0M1840.5 573.5h0M1835.5 506h0M1762.5 550h0M1781 456h0M1776 478.5h0M1794.5 497.5h0M1838.5 498.5h0M1779.5 467h0M1775 554.5h0M1859 563h0M1773 600h0M1807.5 501h0M1798 490h0M1809.5 510h0M1797 614h0M1796.5 636h0M1789 446h0M1777.5 603h0M1784.5 514.5h0M1811.5 628h0M1764.5 590.5h0M1808 578h0M1790.5 629h0M1779 613h0M1785 639.5h0M1761 558h0M1846 603h0M1823 542.5h0M1851 469h0M1844.5 626.5h0M1824 459.5h0M1796 597.5h0M1861 489h0M1807 533h0M1779 630h0M1854.5 512h0M1842.5 625.5h0M1831.5 481h0M1860.5 516h0M1834 604h0M1785 546.5h0M1826.5 448h0M1814.5 485h0M1809.5 455h0M1827.5 529.5h0M1795.5 517h0M1786.5 571.5h0M1799.5 507.5h0M1775 501h0M1769.5 553.5h0M1759.5 610h0M1849.5 622.5h0M1809 490h0M1843.5 586h0M1778.5 519.5h0M1779 511.5h0M1786.5 463.5h0M1806.5 560.5h0M1839 538h0M1845 532h0M1768.5 520h0M1778.5 578.5h0M1829 448h0M1767 582h0M1796 442h0M1775.5 616.5h0M1849 465.5h0M1804.5 502.5h0M1802.5 638h0M1831 594h0M1808.5 538.5h0M1803.5 558.5h0M1845 594.5h0M1820 633h0M1844.5 597.5h0M1825 599h0M1779 474h0M1809 572h0M1847.5 613.5h0M1824 472.5h0M1824.5 599h0M1856 480h0M1848 541h0M1814.5 464h0M1806.5 619h0M1823.5 503.5h0M1770.5 520.5h0M1835.5 591h0M1846 483.5h0M1784 464h0M1801 584.5h0M1810.5 482h0M1790.5 545h0M1795 513h0M1753.5 449.5h0M1760.5 548.5h0M1787 518.5h0M1735.5 545.5h0M1731.5 514h0M1710.5 468h0M1711.5 454h0M1730.5 504h0M1736 541h0M1780.5 475h0M1779 504h0M1734 540h0M1775 444h0M1789 482.5h0M1710 464h0M1739.5 504h0M1726 553.5h0M1710 445.5h0M1720 516h0M1793.5 517h0M1725.5 548h0M1716.5 543h0M1739.5 537h0M1763 514h0M1733 428.5h0M1740 545.5h0M1700 537h0M1725 502.5h0M1763 511h0M1796 432.5h0M1758 542.5h0M1706 430h0M1788 514h0M1735.5 519h0M1706.5 549h0M1768 457.5h0M1723.5 436h0M1777 497.5h0M1761.5 479h0M1712.5 467.5h0M1747.5 423.5h0M1725 446.5h0M1772 502.5h0M1704.5 441h0M1714 463h0M1769.5 486.5h0M1757 466h0M1703.5 459.5h0M1719 430.5h0M1732.5 434h0M1787.5 524h0M1739 470h0M1765 499h0M1712 535.5h0M1711 487.5h0M1774.5 482.5h0M1720.5 472.5h0M1756 473.5h0M1735.5 457.5h0M1719 433h0M1711.5 490h0M1785.5 505h0M1783 435h0M1763.5 479h0M1724.5 482h0M1734.5 424.5h0M1709 461h0M1767 507.5h0M1767.5 489.5h0M1783 470.5h0M1753.5 511.5h0M1764.5 539h0M1736.5 457h0M1750.5 429h0M1718.5 435.5h0M1791 441.5h0M1757 530h0M1725.5 526.5h0M1720 517.5h0M1707 468.5h0M1791.5 471h0M1707.5 467.5h0M1755.5 466h0M1716 473h0M1765.5 532h0M1718.5 430h0M1759.5 430h0M1769 437.5h0M1766.5 465.5h0M1756.5 471.5h0M1782.5 533h0M1789 489.5h0M1749.5 443.5h0M1779.5 431.5h0M1722 496.5h0M1802.5 496.5h0M1770.5 538h0M1713.5 444h0M1766.5 459.5h0M1706 476h0M1759.5 552h0M1723 457h0M1741.5 456.5h0M1721.5 477.5h0M1718 441h0M1765.5 487.5h0M1767 431h0M1747.5 485.5h0M1771 441h0M1746 493.5h0M1725 447h0M1735 504.5h0M1748 462h0M1775 437h0M1716 488.5h0M1755 450h0M1723.5 471h0M1712.5 543h0M1773 447h0M1712 484h0M1741 543.5h0M1753.5 470h0M1765 514h0M1729.5 518.5h0M1778.5 516.5h0M1704.5 463h0M1734 549h0M1738 493.5h0M1708.5 545.5h0M1818 826.5h0M1835.5 853.5h0M1810 797.5h0M1774 685h0M1837 749.5h0M1801.5 709.5h0M1817 652.5h0M1834 718h0M1769 638h0M1811 890h0M1784.5 682h0M1829.5 825.5h0M1832.5 640h0M1842.5 772.5h0M1793.5 658.5h0M1800 754.5h0M1820 880.5h0M1828.5 900.5h0M1797 719h0M1844.5 863.5h0M1811.5 831h0M1803 922h0M1807.5 776.5h0M1861.5 862h0M1844 878.5h0M1837.5 878.5h0M1799.5 720.5h0M1793.5 801h0M1819.5 826h0M1800 903h0M1817.5 771h0M1823.5 833.5h0M1818.5 923.5h0M1816.5 683h0M1808.5 654.5h0M1833.5 658h0M1808.5 844.5h0M1768.5 805h0M1775.5 739h0M1822 780h0M1783 750.5h0M1811 922.5h0M1839 851h0M1789.5 917.5h0M1824.5 688h0M1782 768h0M1852.5 776h0M1842 767.5h0M1791 826h0M1774.5 682.5h0M1815 644.5h0M1775 647.5h0M1804.5 729.5h0M1858 678.5h0M1774.5 748h0M1812 679h0M1792.5 829h0M1809.5 695.5h0M1790 855h0M1806.5 659.5h0M1815 711.5h0M1786.5 787h0M1823 923.5h0M1824 765.5h0M1762.5 630.5h0M1833.5 658h0M1809.5 631.5h0M1763.5 740h0M1795.5 651h0M1842.5 882.5h0M1790.5 649.5h0M1753.5 632h0M1827 856h0M1790.5 766h0M1787.5 635.5h0M1822.5 678h0M1820 678h0M1828.5 798.5h0M1856 731.5h0M1817 839h0M1792 676h0M1838 810h0M1874.5 773.5h0M1785.5 714.5h0M1828 931.5h0M1836 916h0M1780.5 787.5h0M1800 672.5h0M1817.5 781.5h0M1814.5 824.5h0M1780 716.5h0M1778.5 861h0M1848 787h0M1815.5 904h0M1803.5 680.5h0M1826.5 722.5h0M1770.5 646.5h0M1817.5 827h0M1801 736.5h0M1825.5 879h0M1824.5 744.5h0M1789.5 902h0M1821 674h0M1815.5 809.5h0M1851 860.5h0M1814.5 841.5h0M1853.5 662.5h0M1821 642h0M1830 909h0M1836.5 804.5h0M1842.5 680.5h0M1829.5 887h0M1829 881.5h0M1783.5 658.5h0M1867.5 790h0M1809 844h0M1794.5 744h0M1826.5 830.5h0M1822.5 834h0M1821 663.5h0M1838 858.5h0M1854 848h0M1805 730h0M1745.5 676h0M1827.5 691.5h0M1792 703h0M1790 771h0M1839.5 863.5h0M1828 870.5h0M1801 890h0M1811.5 883h0M1799.5 735h0M1748.5 675h0M1765 735.5h0M1826.5 755h0M1781.5 677.5h0M1842.5 701h0M1819.5 906h0M1778 698h0M1831.5 714.5h0M1806.5 811.5h0M1816.5 929h0M1774 742h0M1779.5 696h0M1843 837h0M1832 820.5h0M1733.5 698h0M1810 662h0M1793 838.5h0M1845.5 709h0M1810 694h0M1785 671h0M1808 682h0M1844.5 921.5h0M1838.5 902h0M1819.5 797h0M1818 680h0M1826 911.5h0M1810.5 654h0M1796.5 640h0M1836 636h0M1772 781h0M1799 639h0M1840.5 819h0M1825 747h0M1810 758h0M1832.5 867.5h0M1827 908h0M1821.5 907h0M1814 806.5h0M1848.5 850.5h0M1772.5 770.5h0M1800.5 817.5h0M1861 790h0M1795 777h0M1820.5 867h0M1849.5 721h0M1716.5 734.5h0M1734.5 649h0M1874.5 749h0M1799 757h0M1808.5 762.5h0M1822.5 743.5h0M1838.5 731.5h0M1819 637.5h0M1819 702.5h0M1852.5 809h0M1824 925h0M1854.5 770.5h0M1787 716.5h0M1729 648h0M1833 817.5h0M1812.5 726h0M1803.5 677h0M1836 912h0M1807 647.5h0M1848.5 811h0M1801 929h0M1755.5 752.5h0M1835.5 734.5h0M1823 655h0M1789.5 917.5h0M1789 671.5h0M1821.5 785h0M1810.5 879h0M1792 813.5h0M1820 930.5h0M1808.5 912.5h0M1834.5 763.5h0M1865.5 825h0M1865 637.5h0M1814.5 858h0M1814.5 707h0M1745 633.5h0M1852.5 668.5h0M1831 839h0M1824.5 847h0M1834.5 692.5h0M1856 844.5h0M1823.5 650.5h0M1828.5 662h0M1807.5 636h0M1856.5 859h0M1842 727h0M1834.5 860.5h0M1811 857h0M1778.5 837h0M1839.5 662.5h0M1839.5 725h0M1840 778.5h0M1786.5 685h0M1823.5 886h0M1809.5 917h0M1834.5 803h0M1836.5 825h0M1866 765.5h0M1853 833h0M1808.5 910h0M1761.5 726h0M1835.5 807.5h0M1862 794h0M1809.5 913h0M1806 874h0M1799 667.5h0M1846.5 706h0M1764 659.5h0M1822 813h0M1830 679.5h0M1806.5 874h0M1824 716.5h0M1831 714.5h0M1841.5 827h0M1822 869.5h0M1799 895.5h0M1822.5 674h0M1788 676h0M1791 660h0M1846 900.5h0M1819 651h0M1844 637h0M1837.5 661h0M1824 849.5h0M1851.5 778.5h0M1807.5 882.5h0M1842.5 797h0M1776 636.5h0M1797.5 879.5h0M1799 855.5h0M1793.5 650h0M1817 729.5h0M1839.5 878h0M1864 801h0M1817 725.5h0M1764 635.5h0M1800 903h0M1821 909.5h0M1811.5 861h0M1868 661h0M1848 681.5h0M1815 710.5h0M1785 632h0M1793 673.5h0M1799.5 674.5h0M1817.5 701h0M1843 934h0M1811.5 759h0M1838 641.5h0M1855 630h0M1830 784.5h0M1851 791h0M1833 775.5h0M1787.5 788.5h0M1770 668h0M1811 885h0M1839.5 846h0M1858.5 655.5h0M1838 915.5h0M1794.5 696h0M1815 764.5h0M1823 665h0M1818 929h0M1812.5 662h0M1816 646.5h0M1851.5 760.5h0M1805.5 925h0M1765.5 890.5h0M1817 802.5h0M1859.5 885h0M1812.5 725h0M1788 727h0M1795.5 771.5h0M1850.5 848.5h0M1790 796h0M1817 880h0M1762 775.5h0M1843.5 735h0M1843.5 655.5h0M1821 856.5h0M1867.5 681h0M1868.5 782h0M1796.5 694h0M1768.5 695h0M1829 808.5h0M1781 837.5h0M1839.5 929h0M1813.5 841h0M1750 717h0M1795.5 918.5h0M1708 697h0M1845.5 758h0M1783 702h0M1799 632.5h0M1751.5 699h0M1799 727.5h0M1746 699h0M1781 769.5h0M1804.5 709h0M1818 747.5h0M1821.5 861.5h0M1784.5 658.5h0M1843.5 821.5h0M1797.5 804h0M1788 835h0M1798.5 667h0M1821 859.5h0M1829.5 801h0M1834.5 775.5h0M1880 873h0M1841.5 909.5h0M1838 899h0M1833.5 695.5h0M1800 812.5h0M1815.5 874h0M1814 639h0M1804 708h0M1829.5 850.5h0M1814.5 664.5h0M1845 822.5h0M1825 915h0M1830 932.5h0M1797 909h0M1786.5 874.5h0M1847.5 638.5h0M1828.5 805h0M1819 790.5h0M1850 640h0M1747.5 718.5h0M1804 812.5h0M1785.5 775h0M1857.5 896.5h0M1818 800h0M1809.5 684h0M1823 864h0M1833.5 693h0M1831.5 632.5h0M1807 677.5h0M1862 634h0M1812 821.5h0M1807 666h0M1829.5 896.5h0M1878.5 747h0M1798 855.5h0M1809 816.5h0M1809.5 919.5h0M1832.5 893h0M1832 885h0M1782 894h0M1807.5 657h0M1820.5 853.5h0M1810 676.5h0M1766.5 657h0M1806 930h0M1814.5 876.5h0M1822 847h0M1789 820.5h0M1840 926.5h0M1811.5 862h0M1744.5 737.5h0M1794.5 872.5h0M1866 872.5h0M1823.5 930.5h0M1753.5 636h0M1819 852h0M1771.5 748.5h0M1741 664h0M1820.5 738h0M1817 882h0M1790 777.5h0M1828 932.5h0M1837.5 728h0M1831 768h0M1836 694h0M1829.5 934.5h0M1798.5 811.5h0M1847 782h0M1793.5 669.5h0M1826.5 755h0M1805 674h0M1800 852.5h0M1794.5 914.5h0M1826.5 879h0M1806 649.5h0M1833.5 875.5h0M1784 649.5h0M1772.5 748h0M1773 668.5h0M1790.5 769h0M1794 709h0M1815 919h0M1842 866h0M1814 883.5h0M1856.5 644h0M1857 859h0M1814 918h0M1784.5 799h0M1818.5 917h0M1779.5 726.5h0M1814 877.5h0M1734.5 638h0M1780.5 639h0M1802 795.5h0M1835 812.5h0M1809.5 860h0M1806 811.5h0M1826.5 855h0M1829 761h0M1831 638h0M1847.5 851.5h0M1804.5 845.5h0M1798.5 767.5h0M1722 242.5h0M1836.5 319h0M1808 332.5h0M1841.5 347.5h0M1611.5 383h0M1600 474h0M1622.5 521h0M1662.5 587.5h0M1708.5 594h0M1724 577.5h0M1725.5 599.5h0M1729 591.5h0M1695.5 545.5h0M1695.5 553.5h0M1694 677h0M1722.5 675.5h0M1732 672.5h0M1737 633h0M1737 610.5h0M1727.5 480.5h0M1732 391.5h0M1725.5 428h0M1732 442.5h0M1697 379h0M1697 385.5h0M1891 403h0M1907 420.5h0M1915 433h0M1900.5 446.5h0M1900.5 453h0M1885 446.5h0M1938.5 455h0M1937 482h0M1932 500.5h0M1923 507h0M1905 507h0M1969 494h0M1992.5 511.5h0M2034 525h0M2043 534.5h0M2030.5 547h0M1962 547.5h0M1997.5 548h0M2048 565.5h0M2065.5 561.5h0M2000.5 567h0M2022.5 586h0M2045 599h0M1963 602h0M2103.5 611.5h0M2087.5 671h0M2089.5 687.5h0M2137.5 711.5h0M1880 553h0M2048.5 565.5h0M2065 562h0M2022.5 585.5h0M1963.5 601.5h0M2104 612h0" stroke="#ffff00" stroke-width="6.4" stroke-linecap="round" fill="none"/>
<path d="M1757.5 516h0M1739.5 486h0M1768.5 431h0M1798 437h0M1725 424.5h0M1781 503.5h0M1753.5 510.5h0M1737.5 480.5h0M1799 508h0M1737 518.5h0M1737 424h0M1763.5 458.5h0M1747 452h0M1770 479h0M1796 421.5h0M1795 416.5h0M1740 488h0M1736.5 461h0M1790.5 503.5h0M1792.5 506.5h0M1808.5 481.5h0M1746 451h0M1811.5 499h0M1782.5 432.5h0M1775.5 531.5h0M1724 453h0M1754.5 493.5h0M1799 446h0M1789.5 446.5h0M1740.5 543.5h0M1779.5 499h0M1803.5 486.5h0M1772 425.5h0M1743.5 488h0M1751.5 436h0M1756.5 508.5h0M1751.5 462h0M1774.5 460.5h0M1738 481h0M1731.5 428.5h0M1736 438.5h0M1770.5 462h0M1756 498h0M1771.5 420h0M1758.5 466h0M1753 483.5h0M1761 523.5h0M1779 432h0M1764.5 431h0M1752.5 447h0M1793 476h0M1755.5 437h0M1743 526.5h0M1793.5 462.5h0M1730.5 496h0M1740.5 438h0M1765 525h0M1798.5 524h0M1797.5 498.5h0M1759.5 474h0M1767 428h0M1759.5 510h0M1779 432h0M1750 480.5h0M1742 519h0M1773 486.5h0M1803 449h0M1751.5 460.5h0M1779.5 462h0M1786 493.5h0M1761 512.5h0M1789.5 460.5h0M1775.5 422h0M1773.5 469.5h0M1776 435.5h0M1763.5 511h0M1805.5 470h0M1723.5 429h0M1792 499h0M1749 439.5h0M1801 486.5h0M1758 530.5h0M1760 541.5h0M1780.5 471.5h0M1763 519h0M1764 464.5h0M1755.5 501.5h0M1723.5 442.5h0M1758 543.5h0M1804 445.5h0M1757.5 449h0M1753.5 429h0M1773.5 440.5h0M1762.5 434.5h0M1776.5 489h0M1795 423h0M1767.5 424.5h0M1777 467.5h0M1740 465h0M1786.5 423h0M1739.5 518.5h0M1779.5 462h0M1785.5 487.5h0M1795.5 534h0M1789.5 465h0M1777.5 531h0M1769 443.5h0M1752 501h0M1763.5 500.5h0M1802 436h0M1795 567.5h0M1829 619.5h0M1832 633.5h0M1827.5 621.5h0M1837.5 528.5h0M1810 511.5h0M1791 609h0M1839 567h0M1816 562.5h0M1810.5 561h0M1810 632h0M1833.5 524.5h0M1834.5 558h0M1829 555.5h0M1799 592h0M1840 579.5h0M1818 614h0M1825 559h0M1843 535.5h0M1817.5 541h0M1807 574.5h0M1819.5 577h0M1801 612.5h0M1835.5 623h0M1825.5 621h0M1811.5 607.5h0M1847.5 523.5h0M1833.5 588h0M1810.5 543h0M1836 545h0M1847 603.5h0M1805 618.5h0M1807 591h0M1798.5 533h0M1849.5 564h0" stroke="#808080" stroke-width="6.4" stroke-linecap="round" fill="none"/>
<circle cx="1655.5" cy="266" r="12" fill="#ff0000"/>
<circle cx="1655.5" cy="279" r="12" fill="#ff0000"/>
<circle cx="1655.5" cy="292" r="12" fill="#ff0000"/>
<circle cx="1655.5" cy="305" r="12" fill="#ff0000"/>
<circle cx="1655.5" cy="318" r="12" fill="#ff0000"/>
<circle cx="1655.5" cy="331" r="12" fill="#ff0000"/>
<circle cx="1655.5" cy="344" r="12" fill="#ff0000"/>
<circle cx="1655.5" cy="357" r="12" fill="#ff0000"/>
<circle cx="1655.5" cy="370" r="12" fill="#ff0000"/>
<circle cx="1655.5" cy="383" r="12" fill="#ff0000"/>
<circle cx="1655.5" cy="396" r="12" fill="#ff0000"/>
<circle cx="1655.5" cy="409" r="12" fill="#ff0000"/>
<circle cx="1655.5" cy="422" r="12" fill="#ff0000"/>
<circle cx="1655.5" cy="435" r="12" fill="#ff0000"/>
<circle cx="1685" cy="277" r="12" fill="#ff0000"/>
<circle cx="1685" cy="305" r="12" fill="#ff0000"/>
<circle cx="1685" cy="319" r="12" fill="#ff0000"/>
<circle cx="1685" cy="333" r="12" fill="#ff0000"/>
<circle cx="1685" cy="347" r="12" fill="#ff0000"/>
<circle cx="1685" cy="361" r="12" fill="#ff0000"/>
<circle cx="1685" cy="396" r="12" fill="#ff0000"/>
<circle cx="1685" cy="409.4" r="12" fill="#ff0000"/>
<circle cx="1685" cy="422.9" r="12" fill="#ff0000"/>
<circle cx="1685" cy="436.3" r="12" fill="#ff0000"/>
<circle cx="1685" cy="449.7" r="12" fill="#ff0000"/>
<circle cx="1685" cy="463.1" r="12" fill="#ff0000"/>
<circle cx="1685" cy="476.6" r="12" fill="#ff0000"/>
<circle cx="1685" cy="490" r="12" fill="#ff0000"/>
<circle cx="1714.2" cy="278" r="12" fill="#ff0000"/>
<circle cx="1714.2" cy="291.2" r="12" fill="#ff0000"/>
<circle cx="1714.2" cy="304.4" r="12" fill="#ff0000"/>
<circle cx="1714.2" cy="317.7" r="12" fill="#ff0000"/>
<circle cx="1714.2" cy="330.9" r="12" fill="#ff0000"/>
<circle cx="1714.2" cy="344.1" r="12" fill="#ff0000"/>
<circle cx="1714.2" cy="357.3" r="12" fill="#ff0000"/>
<circle cx="1714.2" cy="370.6" r="12" fill="#ff0000"/>
<circle cx="1714.2" cy="383.8" r="12" fill="#ff0000"/>
<circle cx="1714.2" cy="397" r="12" fill="#ff0000"/>
<circle cx="1714.2" cy="266" r="12" fill="#1ecd1e"/>
<circle cx="1714.2" cy="299" r="12" fill="#1ecd1e"/>
<circle cx="1714.2" cy="450" r="12" fill="#ff0000"/>
<circle cx="1714.2" cy="462" r="12" fill="#ff0000"/>
<circle cx="1714.2" cy="493" r="12" fill="#ff0000"/>
<circle cx="1714.2" cy="505.8" r="12" fill="#ff0000"/>
<circle cx="1714.2" cy="518.5" r="12" fill="#ff0000"/>
<circle cx="1714.2" cy="531.2" r="12" fill="#ff0000"/>
<circle cx="1714.2" cy="544" r="12" fill="#ff0000"/>
<circle cx="1743.7" cy="286" r="12" fill="#ff0000"/>
<circle cx="1743.7" cy="299" r="12" fill="#ff0000"/>
<circle cx="1743.7" cy="312" r="12" fill="#ff0000"/>
<circle cx="1743.7" cy="325" r="12" fill="#ff0000"/>
<circle cx="1743.7" cy="338" r="12" fill="#ff0000"/>
<circle cx="1743.7" cy="351" r="12" fill="#ff0000"/>
<circle cx="1743.7" cy="420.5" r="12" fill="#ff0000"/>
<circle cx="1743.7" cy="528" r="12" fill="#ff0000"/>
<circle cx="1743.7" cy="546" r="12" fill="#ff0000"/>
<circle cx="1743.7" cy="587" r="12" fill="#ff0000"/>
<circle cx="1772.9" cy="387" r="12" fill="#ff0000"/>
<circle cx="1772.9" cy="390" r="12" fill="#1ecd1e"/>
<circle cx="1772.9" cy="415" r="12" fill="#1ecd1e"/>
<circle cx="1772.9" cy="437" r="12" fill="#ff0000"/>
<circle cx="1772.9" cy="509" r="12" fill="#ff0000"/>
<circle cx="1772.9" cy="521.2" r="12" fill="#ff0000"/>
<circle cx="1772.9" cy="533.5" r="12" fill="#ff0000"/>
<circle cx="1772.9" cy="545.8" r="12" fill="#ff0000"/>
<circle cx="1772.9" cy="558" r="12" fill="#ff0000"/>
<circle cx="1772.9" cy="593" r="12" fill="#ff0000"/>
<circle cx="1803" cy="428" r="12" fill="#ff0000"/>
<circle cx="1803" cy="442" r="12" fill="#ff0000"/>
<circle cx="1803" cy="439.5" r="12" fill="#1ecd1e"/>
<circle cx="1803" cy="530.5" r="12" fill="#ff0000"/>
<circle cx="1803" cy="604" r="12" fill="#ff0000"/>
<circle cx="1803" cy="630.5" r="12" fill="#ff0000"/>
<circle cx="1833" cy="442" r="12" fill="#ff0000"/>
<circle cx="1833" cy="454.3" r="12" fill="#ff0000"/>
<circle cx="1833" cy="466.7" r="12" fill="#ff0000"/>
<circle cx="1833" cy="479" r="12" fill="#ff0000"/>
<circle cx="1833" cy="443" r="12" fill="#1ecd1e"/>
<circle cx="1833" cy="559.5" r="12" fill="#ff0000"/>
<circle cx="1833" cy="619" r="12" fill="#ff0000"/>
<circle cx="1862.6" cy="410" r="12" fill="#1ecd1e"/>
<circle cx="1862.6" cy="454.5" r="12" fill="#ff0000"/>
<circle cx="1862.6" cy="470" r="12" fill="#1ecd1e"/>
<circle cx="1862.6" cy="485" r="12" fill="#1ecd1e"/>
<circle cx="1862.6" cy="497" r="12" fill="#ff0000"/>
<circle cx="1862.6" cy="512" r="12" fill="#1ecd1e"/>
<circle cx="1862.6" cy="523" r="12" fill="#1ecd1e"/>
<circle cx="1862.6" cy="542" r="12" fill="#ff0000"/>
<circle cx="1862.6" cy="579" r="12" fill="#ff0000"/>
<circle cx="1862.6" cy="587" r="12" fill="#ff0000"/>
<circle cx="1862.6" cy="647" r="12" fill="#ff0000"/>
<circle cx="1891.8" cy="427.5" r="12" fill="#1ecd1e"/>
<circle cx="1891.8" cy="501" r="12" fill="#1ecd1e"/>
<circle cx="1891.8" cy="582" r="12" fill="#ff0000"/>
<circle cx="1922" cy="471" r="12" fill="#1ecd1e"/>
<circle cx="1922" cy="490" r="12" fill="#1ecd1e"/>
<circle cx="1922" cy="556" r="12" fill="#ff0000"/>
<circle cx="1922" cy="574" r="12" fill="#1ecd1e"/>
<circle cx="1922" cy="642" r="12" fill="#ff0000"/>
<circle cx="1922" cy="655" r="12" fill="#ff0000"/>
<circle cx="1922" cy="650" r="12" fill="#1ecd1e"/>
<circle cx="1950.5" cy="471.5" r="12" fill="#ff0000"/>
<circle cx="1950.5" cy="504" r="12" fill="#1ecd1e"/>
<circle cx="1950.5" cy="563" r="12" fill="#1ecd1e"/>
<circle cx="1950.5" cy="579" r="12" fill="#1ecd1e"/>
<circle cx="1950.5" cy="628" r="12" fill="#1ecd1e"/>
<circle cx="1981" cy="530" r="12" fill="#1ecd1e"/>
<circle cx="1981" cy="550" r="12" fill="#1ecd1e"/>
<circle cx="2011" cy="528" r="12" fill="#1ecd1e"/>
<circle cx="2011" cy="553" r="12" fill="#1ecd1e"/>
<line x1="1484.2" y1="58.3" x2="2300.1" y2="773.1" stroke="#000" stroke-width="3" stroke-dasharray="19 10.5"/>
<line x1="1408" y1="207.6" x2="1837.6" y2="960.3" stroke="#000" stroke-width="3" stroke-dasharray="3.4 5.9"/>
<line x1="1629.6" y1="58.3" x2="2144.4" y2="960.3" stroke="#000" stroke-width="3" stroke-dasharray="3.4 5.9"/>
<rect x="1408" y="58.3" width="902" height="902.2" fill="none" stroke="#000" stroke-width="2"/>
<path d="M1408 960.5v-25M1408 58.3v25M1459.5 960.5v-12.5M1459.5 58.3v12.5M1511 960.5v-12.5M1511 58.3v12.5M1562.4 960.5v-12.5M1562.4 58.3v12.5M1613.9 960.5v-12.5M1613.9 58.3v12.5M1665.4 960.5v-25M1665.4 58.3v25M1716.9 960.5v-12.5M1716.9 58.3v12.5M1768.4 960.5v-12.5M1768.4 58.3v12.5M1819.8 960.5v-12.5M1819.8 58.3v12.5M1871.3 960.5v-12.5M1871.3 58.3v12.5M1922.8 960.5v-25M1922.8 58.3v25M1974.3 960.5v-12.5M1974.3 58.3v12.5M2025.8 960.5v-12.5M2025.8 58.3v12.5M2077.2 960.5v-12.5M2077.2 58.3v12.5M2128.7 960.5v-12.5M2128.7 58.3v12.5M2180.2 960.5v-25M2180.2 58.3v25M2231.7 960.5v-12.5M2231.7 58.3v12.5M2283.2 960.5v-12.5M2283.2 58.3v12.5M1408 960.3h25M2310 960.3h-25M1408 915.2h12.5M2310 915.2h-12.5M1408 870.1h12.5M2310 870.1h-12.5M1408 825h12.5M2310 825h-12.5M1408 779.9h12.5M2310 779.9h-12.5M1408 734.8h25M2310 734.8h-25M1408 689.7h12.5M2310 689.7h-12.5M1408 644.6h12.5M2310 644.6h-12.5M1408 599.5h12.5M2310 599.5h-12.5M1408 554.4h12.5M2310 554.4h-12.5M1408 509.3h25M2310 509.3h-25M1408 464.2h12.5M2310 464.2h-12.5M1408 419.1h12.5M2310 419.1h-12.5M1408 374h12.5M2310 374h-12.5M1408 328.9h12.5M2310 328.9h-12.5M1408 283.8h25M2310 283.8h-25M1408 238.7h12.5M2310 238.7h-12.5M1408 193.6h12.5M2310 193.6h-12.5M1408 148.5h12.5M2310 148.5h-12.5M1408 103.4h12.5M2310 103.4h-12.5M1408 58.3h25M2310 58.3h-25" stroke="#000" stroke-width="2" fill="none"/>
<text x="1385" y="975" style="font-family:'Liberation Serif',serif;fill:#000;font-size:41px" text-anchor="end" textLength="23" lengthAdjust="spacingAndGlyphs">0</text>
<text x="1385" y="749.5" style="font-family:'Liberation Serif',serif;fill:#000;font-size:41px" text-anchor="end" textLength="23" lengthAdjust="spacingAndGlyphs">1</text>
<text x="1385" y="524" style="font-family:'Liberation Serif',serif;fill:#000;font-size:41px" text-anchor="end" textLength="23" lengthAdjust="spacingAndGlyphs">2</text>
<text x="1385" y="298.5" style="font-family:'Liberation Serif',serif;fill:#000;font-size:41px" text-anchor="end" textLength="23" lengthAdjust="spacingAndGlyphs">3</text>
<text x="1385" y="73" style="font-family:'Liberation Serif',serif;fill:#000;font-size:41px" text-anchor="end" textLength="23" lengthAdjust="spacingAndGlyphs">4</text>
<text x="1408" y="1010.6" style="font-family:'Liberation Serif',serif;fill:#000;font-size:41px" text-anchor="middle" textLength="24" lengthAdjust="spacingAndGlyphs">2</text>
<text x="1665.4" y="1010.6" style="font-family:'Liberation Serif',serif;fill:#000;font-size:41px" text-anchor="middle" textLength="24" lengthAdjust="spacingAndGlyphs">3</text>
<text x="1922.8" y="1010.6" style="font-family:'Liberation Serif',serif;fill:#000;font-size:41px" text-anchor="middle" textLength="24" lengthAdjust="spacingAndGlyphs">4</text>
<text x="2180.2" y="1010.6" style="font-family:'Liberation Serif',serif;fill:#000;font-size:41px" text-anchor="middle" textLength="24" lengthAdjust="spacingAndGlyphs">5</text>
<text x="1711.8 1731.8 1764.1 1796.5 1818" y="1081.6" style="font-family:'Liberation Serif',serif;fill:#000;font-size:52px">log(R</text>
<text x="1854.6" y="1098" style="font-family:'Liberation Serif',serif;fill:#000;font-size:34px">e</text>
<text x="1875.3 1898.5 1933.7 1963.3 1986.2" y="1081.6" style="font-family:'Liberation Serif',serif;fill:#000;font-size:52px">[pc])</text>
<g transform="translate(1316,0) rotate(-90)"><text x="-717.1 -697.1 -665.4 -632.9 -612" y="0" style="font-family:'Liberation Serif',serif;fill:#000;font-size:52px">log(I</text><text x="-592.9" y="15.5" style="font-family:'Liberation Serif',serif;fill:#000;font-size:34px">e</text><text x="-545.8 -526.1" y="0" style="font-family:'Liberation Serif',serif;fill:#000;font-size:52px">[L</text><text x="-495" y="14" style="font-family:'DejaVu Sans',sans-serif;font-size:26px;fill:#000" textLength="25.5" lengthAdjust="spacingAndGlyphs">&#x2299;</text><text x="-462" y="0" style="font-family:'Liberation Serif',serif;fill:#000;font-size:52px" textLength="23" lengthAdjust="spacingAndGlyphs">/</text><text x="-431 -394" y="0" style="font-family:'Liberation Serif',serif;fill:#000;font-size:52px">pc</text><text x="-365.2" y="-16" style="font-family:'Liberation Serif',serif;fill:#000;font-size:34px">2</text><text x="-344.8 -322.5" y="0" style="font-family:'Liberation Serif',serif;fill:#000;font-size:52px">])</text></g>
<text x="1692.5" y="151" style="font-family:'Liberation Serif',serif;fill:#000;font-size:44px" textLength="30" lengthAdjust="spacingAndGlyphs">M</text>
<text x="1723.5" y="161" style="font-family:'Liberation Serif',serif;fill:#000;font-size:25px;font-weight:bold" textLength="14" lengthAdjust="spacingAndGlyphs">V</text>
<text x="1741.5" y="151" style="font-family:'Liberation Serif',serif;fill:#000;font-size:44px" textLength="25" lengthAdjust="spacingAndGlyphs">=</text>
<text x="1773.5" y="151" style="font-family:'Liberation Serif',serif;fill:#000;font-size:44px" textLength="24" lengthAdjust="spacingAndGlyphs">&#x2212;</text>
<text x="1807.5" y="151" style="font-family:'Liberation Serif',serif;fill:#000;font-size:44px" textLength="81" lengthAdjust="spacingAndGlyphs">21.5</text>
<text x="1614.2" y="917.7" style="font-family:'Liberation Serif',serif;fill:#000;font-size:44px" textLength="30" lengthAdjust="spacingAndGlyphs">M</text>
<text x="1645.2" y="927.7" style="font-family:'Liberation Serif',serif;fill:#000;font-size:25px;font-weight:bold" textLength="14" lengthAdjust="spacingAndGlyphs">V</text>
<text x="1663.2" y="917.7" style="font-family:'Liberation Serif',serif;fill:#000;font-size:44px" textLength="25" lengthAdjust="spacingAndGlyphs">=</text>
<text x="1695.2" y="917.7" style="font-family:'Liberation Serif',serif;fill:#000;font-size:44px" textLength="24" lengthAdjust="spacingAndGlyphs">&#x2212;</text>
<text x="1729.2" y="917.7" style="font-family:'Liberation Serif',serif;fill:#000;font-size:44px" textLength="81" lengthAdjust="spacingAndGlyphs">15.5</text>
</svg>
</body></html>
